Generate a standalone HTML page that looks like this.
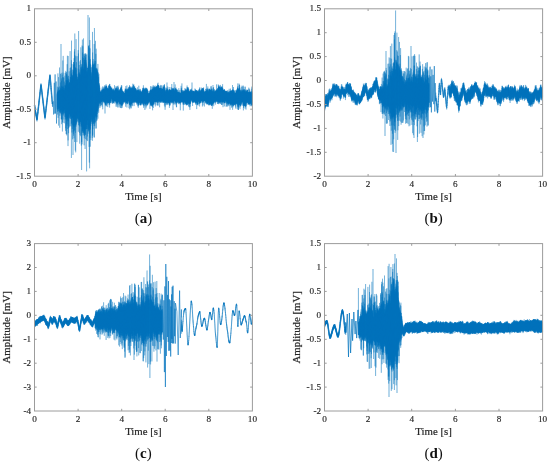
<!DOCTYPE html>
<html><head><meta charset="utf-8"><title>EMG signals</title>
<style>
html,body{margin:0;padding:0;background:#fff;}
svg{display:block;}
text{font-family:"Liberation Serif",serif;}
.tk{font-size:9.2px;fill:#262626;stroke:#262626;stroke-width:0.15px;}
.lb{font-size:10.8px;fill:#262626;stroke:#262626;stroke-width:0.2px;}
.cp{font-size:15px;fill:#111;}
.ax{stroke:#9c9c9c;stroke-width:1;fill:none;}
.sg{stroke:#0072BD;fill:none;stroke-linejoin:bevel;}
</style></head>
<body>
<svg width="550" height="466" viewBox="0 0 550 466">
<rect width="550" height="466" fill="#fff"/>
<g id="plot-a">
<polyline class="sg" stroke-width="0.32" points="34.5,103.4 34.6,106.8 34.6,104.7 34.7,108.0 34.8,105.4 34.9,109.2 34.9,106.7 35.0,110.2 35.1,107.4 35.1,110.9 35.2,108.7 35.3,112.0 35.4,109.4 35.4,112.5 35.5,110.1 35.6,113.4 35.6,111.0 35.7,114.1 35.8,111.8 35.9,115.2 35.9,112.7 36.0,116.0 36.1,113.1 36.1,116.6 36.2,114.3 36.3,117.6 36.4,114.8 36.4,118.5 36.5,115.5 36.6,119.2 36.6,116.7 36.7,119.7 36.8,117.4 36.9,120.6 36.9,118.2 37.0,121.5 37.1,117.7 37.1,120.0 37.2,116.7 37.3,118.9 37.4,115.4 37.4,117.7 37.5,113.9 37.6,116.3 37.6,112.6 37.7,115.0 37.8,111.6 37.9,113.9 37.9,110.1 38.0,113.1 38.1,108.8 38.1,111.3 38.2,107.6 38.3,110.1 38.4,106.7 38.4,109.3 38.5,105.1 38.6,107.6 38.6,104.1 38.7,106.0 38.8,102.6 38.9,105.1 38.9,101.2 39.0,103.8 39.1,100.2 39.1,102.6 39.2,98.9 39.3,101.7 39.4,97.5 39.4,99.9 39.5,96.3 39.6,98.8 39.6,95.3 39.7,97.3 39.8,93.6 39.9,95.8 39.9,92.2 40.0,94.8 40.1,91.5 40.1,93.7 40.2,89.8 40.3,92.3 40.4,88.5 40.4,91.1 40.5,87.3 40.6,89.8 40.6,86.1 40.7,88.5 40.8,84.7 40.9,87.2 40.9,83.5 41.0,86.2 41.1,83.7 41.1,87.1 41.2,85.1 41.3,88.3 41.4,86.2 41.4,89.5 41.5,87.4 41.6,90.8 41.6,88.5 41.7,92.0 41.8,89.4 41.9,93.3 41.9,90.8 42.0,94.3 42.1,92.1 42.1,95.3 42.2,93.1 42.3,96.7 42.4,94.6 42.4,98.1 42.5,95.5 42.6,99.3 42.6,96.9 42.7,100.3 42.8,98.0 42.9,101.4 42.9,99.2 43.0,102.9 43.1,100.3 43.1,103.7 43.2,101.4 43.3,105.2 43.4,102.6 43.4,106.2 43.5,103.9 43.6,107.6 43.6,105.4 43.7,108.9 43.8,106.5 43.9,110.0 43.9,107.4 44.0,111.2 44.1,108.6 44.1,112.4 44.2,110.1 44.3,113.6 44.4,111.0 44.4,114.6 44.5,112.2 44.6,116.5 44.6,113.3 44.7,116.9 44.8,114.7 44.9,118.4 44.9,115.9 45.0,119.6 45.1,115.7 45.1,118.4 45.2,114.7 45.3,117.0 45.4,113.3 45.4,116.0 45.5,112.1 45.6,114.5 45.6,110.8 45.7,113.2 45.8,109.4 45.9,112.0 45.9,108.8 46.0,110.7 46.1,107.1 46.1,109.5 46.2,106.0 46.3,108.3 46.4,104.9 46.4,107.0 46.5,103.8 46.6,105.9 46.6,102.3 46.7,104.9 46.8,101.0 46.9,103.6 46.9,100.2 47.0,102.0 47.1,98.8 47.1,101.1 47.2,97.6 47.3,99.9 47.4,96.4 47.4,99.2 47.5,95.0 47.6,97.1 47.6,93.7 47.7,96.2 47.8,92.2 47.9,95.1 47.9,91.4 48.0,93.6 48.1,90.1 48.1,92.5 48.2,88.8 48.3,91.2 48.4,87.8 48.4,90.1 48.5,86.5 48.6,88.8 48.6,85.1 48.7,87.3 48.8,84.0 48.9,86.1 48.9,82.7 49.0,85.0 49.1,81.5 49.1,83.6 49.2,80.1 49.3,82.6 49.4,78.9 49.4,81.2 49.5,77.9 49.6,80.3 49.6,76.4 49.7,79.1 49.8,75.2 49.9,77.7 49.9,74.4 50.0,76.4 50.1,74.6 50.1,78.3 50.2,76.2 50.3,79.7 50.4,77.7 50.4,81.8 50.5,79.7 50.6,83.3 50.6,81.5 50.7,84.9 50.8,82.7 50.9,86.8 50.9,84.6 51.0,89.1 51.1,86.4 51.1,90.3 51.2,88.2 51.3,91.8 51.4,89.9 51.4,94.0 51.5,91.7 51.6,95.3 51.6,93.6 51.7,97.3 51.8,95.4 51.9,98.8 51.9,96.7 52.0,100.4 52.1,98.7 52.1,102.1 52.2,100.1 52.3,103.9 52.4,102.2 52.4,105.7 52.5,102.0 52.6,107.0"/>
<polyline class="sg" stroke-width="0.32" points="57.0,106.9 57.1,94.4 57.1,107.2 57.2,92.7 57.3,109.1 57.4,86.7 57.4,109.6 57.5,91.7 57.6,111.7 57.6,92.3 57.7,114.6 57.8,89.6 57.9,107.1 57.9,73.4 58.0,111.3 58.1,91.4 58.1,117.9 58.2,91.3 58.3,108.7 58.4,87.7 58.4,106.3 58.5,77.1 58.6,125.6 58.6,91.3 58.7,110.9 58.8,92.3 58.9,108.6 58.9,87.2 59.0,108.6 59.1,90.5 59.1,109.9 59.2,90.8 59.3,108.4 59.4,90.5 59.4,108.1 59.5,67.5 59.6,111.8 59.6,90.3 59.7,127.8 59.8,86.3 59.9,115.8 59.9,89.5 60.0,113.0 60.1,90.0 60.1,112.3 60.2,90.6 60.3,111.3 60.4,82.4 60.4,113.4 60.5,74.0 60.6,112.3 60.6,88.3 60.7,109.7 60.8,87.6 60.9,109.8 60.9,84.8 61.0,44.0 61.1,90.1 61.1,114.4 61.2,72.9 61.3,119.2 61.4,78.4 61.4,119.4 61.5,80.7 61.6,124.2 61.6,88.7 61.7,109.7 61.8,86.1 61.9,119.2 61.9,90.2 62.0,110.8 62.1,74.6 62.1,111.9 62.2,85.8 62.3,113.2 62.4,87.0 62.4,131.5 62.5,89.3 62.6,122.1 62.6,77.3 62.7,114.1 62.8,60.5 62.9,111.6 62.9,72.6 63.0,123.0 63.1,87.4 63.1,114.4 63.2,55.9 63.3,115.6 63.4,89.5 63.4,111.2 63.5,86.3 63.6,110.9 63.6,77.3 63.7,113.4 63.8,77.7 63.9,119.5 63.9,88.0 64.0,112.7 64.1,90.5 64.1,113.5 64.2,90.0 64.3,110.4 64.4,81.6 64.4,123.3 64.5,88.4 64.6,109.0 64.6,91.6 64.7,109.8 64.8,85.1 64.9,112.6 64.9,75.7 65.0,116.8 65.1,72.8 65.1,112.5 65.2,83.4 65.3,114.3 65.4,86.6 65.4,116.9 65.5,85.4 65.6,130.9 65.6,86.1 65.7,128.3 65.8,70.9 65.9,119.2 65.9,85.2 66.0,119.4 66.1,72.7 66.1,134.1 66.2,80.2 66.3,118.0 66.4,72.1 66.4,118.3 66.5,74.3 66.6,134.2 66.6,81.6 66.7,135.4 66.8,81.3 66.9,124.2 66.9,74.4 67.0,120.5 67.1,80.2 67.1,125.8 67.2,64.2 67.3,119.0 67.4,55.7 67.4,118.3 67.5,80.5 67.6,118.1 67.6,77.4 67.7,129.0 67.8,75.8 67.9,120.9 67.9,81.3 68.0,146.1 68.1,80.6 68.1,140.4 68.2,56.0 68.3,117.4 68.4,78.7 68.4,121.3 68.5,84.0 68.6,133.2 68.6,75.9 68.7,128.1 68.8,86.4 68.9,115.6 68.9,83.5 69.0,114.5 69.1,79.5 69.1,127.2 69.2,71.3 69.3,114.3 69.4,83.4 69.4,113.6 69.5,82.5 69.6,118.4 69.6,82.0 69.7,113.6 69.8,82.9 69.9,126.1 69.9,83.3 70.0,117.2 70.1,51.1 70.1,118.1 70.2,68.0 70.3,117.1 70.4,77.0 70.4,118.9 70.5,80.0 70.6,115.6 70.6,76.8 70.7,115.6 70.8,70.5 70.9,118.8 70.9,67.2 71.0,126.4 71.1,81.1 71.1,115.9 71.2,74.3 71.3,124.2 71.4,60.2 71.4,158.0 71.5,40.6 71.6,123.2 71.6,73.3 71.7,119.5 71.8,74.6 71.9,132.5 71.9,63.9 72.0,116.7 72.1,77.2 72.1,114.8 72.2,75.1 72.3,129.0 72.4,78.4 72.4,118.3 72.5,76.2 72.6,139.3 72.6,77.7 72.7,118.0 72.8,75.2 72.9,125.1 72.9,69.5 73.0,155.0 73.1,70.0 73.1,125.3 73.2,71.8 73.3,126.1 73.4,64.6 73.4,133.8 73.5,71.2 73.6,135.7 73.6,62.1 73.7,131.7 73.8,62.2 73.9,126.7 73.9,71.0 74.0,138.4 74.1,58.2 74.1,127.4 74.2,64.8 74.3,130.7 74.4,51.5 74.4,125.0 74.5,64.1 74.6,142.0 74.6,49.2 74.7,122.7 74.8,33.5 74.9,130.0 74.9,55.3 75.0,125.9 75.1,67.9 75.1,125.6 75.2,74.0 75.3,150.6 75.4,72.1 75.4,132.8 75.5,67.3 75.6,124.6 75.6,68.3 75.7,152.4 75.8,56.3 75.9,126.9 75.9,74.4 76.0,122.5 76.1,39.1 76.1,125.3 76.2,70.1 76.3,119.3 76.4,62.2 76.4,124.2 76.5,75.9 76.6,122.2 76.6,74.8 76.7,119.9 76.8,68.3 76.9,142.1 76.9,73.8 77.0,122.4 77.1,56.2 77.1,115.8 77.2,80.0 77.3,118.0 77.4,79.2 77.4,118.1 77.5,76.9 77.6,119.0 77.6,79.6 77.7,121.0 77.8,77.5 77.9,114.9 77.9,79.9 78.0,118.7 78.1,76.6 78.1,121.9 78.2,50.1 78.3,131.8 78.4,53.5 78.4,120.0 78.5,76.8 78.6,31.0 78.6,74.5 78.7,125.2 78.8,68.9 78.9,119.0 78.9,72.8 79.0,122.6 79.1,73.9 79.1,125.4 79.2,65.0 79.3,122.6 79.4,73.3 79.4,132.9 79.5,75.7 79.6,126.4 79.6,74.6 79.7,143.7 79.8,72.1 79.9,122.1 79.9,61.4 80.0,124.0 80.1,70.4 80.1,134.9 80.2,75.9 80.3,121.5 80.4,60.0 80.4,136.2 80.5,74.5 80.6,121.2 80.6,75.4 80.7,121.5 80.8,47.3 80.9,121.4 80.9,67.9 81.0,122.4 81.1,67.0 81.1,126.5 81.2,63.9 81.3,145.6 81.4,73.7 81.4,125.4 81.5,68.5 81.6,170.0 81.6,69.4 81.7,141.9 81.8,66.8 81.9,124.5 81.9,65.5 82.0,126.8 82.1,45.5 82.1,144.3 82.2,64.5 82.3,131.1 82.4,39.6 82.4,133.0 82.5,57.3 82.6,129.5 82.6,52.6 82.7,132.1 82.8,46.4 82.9,130.3 82.9,67.1 83.0,135.4 83.1,69.0 83.1,131.0 83.2,69.1 83.3,127.1 83.4,69.0 83.4,129.0 83.5,38.4 83.6,132.9 83.6,57.9 83.7,132.5 83.8,54.2 83.9,135.2 83.9,68.5 84.0,133.7 84.1,59.9 84.1,145.3 84.2,64.1 84.3,138.3 84.4,55.8 84.4,136.2 84.5,59.7 84.6,130.7 84.6,62.0 84.7,135.6 84.8,64.5 84.9,129.7 84.9,53.6 85.0,134.6 85.1,53.6 85.1,149.0 85.2,54.4 85.3,129.4 85.4,57.7 85.4,133.5 85.5,60.4 85.6,135.0 85.6,57.4 85.7,139.1 85.8,53.3 85.9,129.0 85.9,54.9 86.0,127.1 86.1,60.2 86.1,124.1 86.2,62.5 86.3,129.1 86.4,64.5 86.4,129.1 86.5,72.5 86.6,171.4 86.6,71.2 86.7,140.3 86.8,54.3 86.9,124.9 86.9,67.8 87.0,128.7 87.1,71.4 87.1,124.9 87.2,67.7 87.3,120.1 87.4,72.9 87.4,136.5 87.5,68.0 87.6,141.1 87.6,70.1 87.7,129.0 87.8,67.9 87.9,120.4 87.9,66.4 88.0,15.0 88.1,72.5 88.1,133.7 88.2,66.2 88.3,130.6 88.4,64.4 88.4,126.3 88.5,45.8 88.6,128.8 88.6,46.4 88.7,131.7 88.8,55.8 88.9,130.5 88.9,62.1 89.0,130.3 89.1,45.1 89.1,146.9 89.2,47.6 89.3,162.6 89.4,61.4 89.4,17.5 89.5,65.5 89.6,168.3 89.6,57.4 89.7,128.0 89.8,59.4 89.9,137.9 89.9,40.1 90.0,133.7 90.1,48.4 90.1,130.0 90.2,59.2 90.3,146.7 90.4,69.8 90.4,129.1 90.5,63.8 90.6,126.0 90.6,67.9 90.7,126.1 90.8,64.9 90.9,140.1 90.9,70.3 91.0,124.2 91.1,72.5 91.1,122.3 91.2,72.4 91.3,119.7 91.4,79.3 91.4,116.5 91.5,80.0 91.6,117.1 91.6,76.3 91.7,121.7 91.8,74.3 91.9,121.2 91.9,66.8 92.0,119.2 92.1,68.1 92.1,123.7 92.2,67.0 92.3,137.9 92.4,63.6 92.4,140.8 92.5,31.9 92.6,135.9 92.6,52.5 92.7,134.8 92.8,61.3 92.9,129.2 92.9,66.4 93.0,119.2 93.1,64.7 93.1,119.1 93.2,59.0 93.3,123.8 93.4,64.9 93.4,116.5 93.5,68.9 93.6,122.7 93.6,68.1 93.7,122.1 93.8,64.5 93.9,124.0 93.9,64.1 94.0,125.7 94.1,62.8 94.1,137.3 94.2,44.0 94.3,137.5 94.4,61.2 94.4,28.0 94.5,29.8 94.6,121.8 94.6,66.9 94.7,126.1 94.8,60.6 94.9,122.5 94.9,63.7 95.0,123.4 95.1,69.7 95.1,117.8 95.2,68.8 95.3,116.7 95.4,61.1 95.4,115.0 95.5,40.8 95.6,115.9 95.6,68.1 95.7,121.7 95.8,53.8 95.9,116.1 95.9,69.2 96.0,128.9 96.1,68.9 96.1,128.0 96.2,48.7 96.3,116.1 96.4,68.4 96.4,118.7 96.5,68.8 96.6,117.3 96.6,71.4 96.7,120.8 96.8,67.7 96.9,116.8 96.9,71.0 97.0,120.3 97.1,72.8 97.1,111.0 97.2,73.5 97.3,110.7 97.4,68.8 97.4,114.0 97.5,70.2 97.6,112.1 97.6,71.9 97.7,109.9 97.8,72.5 97.9,118.7 97.9,63.9 98.0,111.2 98.1,72.6 98.1,107.8 98.2,74.9 98.3,109.1 98.4,77.6 98.4,106.2 98.5,79.8 98.6,105.8 98.6,76.8 98.7,112.8 98.8,83.3 98.9,102.3 98.9,73.8 99.0,102.2 99.1,83.2 99.1,103.8 99.2,84.4 99.3,101.9 99.4,85.3 99.4,102.5 99.5,88.2 99.6,103.2 99.6,86.3 99.7,104.3 99.8,87.8 99.9,108.0 99.9,90.5 100.0,106.7 100.1,91.4 100.1,105.7 100.2,90.4 100.3,102.6 100.4,92.4 100.4,102.5 100.5,92.1 100.6,102.7 100.6,92.4 100.7,103.8 100.8,91.5 100.9,105.8 100.9,91.7 101.0,102.1 101.1,93.1 101.1,101.2 101.2,91.7 101.3,101.1 101.4,92.0 101.4,105.0 101.5,89.5 101.6,101.9 101.6,91.3 101.7,101.7 101.8,90.1 101.9,104.8 101.9,91.2 102.0,101.5 102.1,87.5 102.1,106.6 102.2,90.2 102.3,101.3 102.4,90.3 102.4,100.6 102.5,90.5 102.6,101.4 102.6,88.9 102.7,109.3 102.8,86.3 102.9,103.4 102.9,90.3 103.0,100.5 103.1,89.3 103.1,100.0 103.2,89.2 103.3,101.9 103.4,88.5 103.4,101.1 103.5,88.7 103.6,101.6 103.6,89.6 103.7,100.6 103.8,88.8 103.9,102.2 103.9,86.9 104.0,102.2 104.1,89.8 104.1,102.6 104.2,87.5 104.3,100.7 104.4,89.2 104.4,102.0 104.5,88.6 104.6,103.0 104.6,90.0 104.7,101.8 104.8,85.5 104.9,102.1 104.9,85.5 105.0,113.5 105.1,89.2 105.1,104.4 105.2,87.2 105.3,104.2 105.4,87.5 105.4,105.5 105.5,87.8 105.6,104.6 105.6,86.7 105.7,104.8 105.8,85.6 105.9,103.7 105.9,86.9 106.0,102.1 106.1,84.2 106.1,106.3 106.2,86.3 106.3,106.2 106.4,86.3 106.4,102.9 106.5,86.6 106.6,101.4 106.6,85.6 106.7,105.0 106.8,86.4 106.9,102.7 106.9,88.0 107.0,102.0 107.1,87.6 107.1,100.6 107.2,87.6 107.3,104.0 107.4,89.1 107.4,102.8 107.5,88.4 107.6,102.6 107.6,88.9 107.7,107.1 107.8,89.6 107.9,102.0 107.9,88.6 108.0,103.2 108.1,88.1 108.1,103.0 108.2,88.2 108.3,102.4 108.4,89.1 108.4,103.1 108.5,85.6 108.6,103.2 108.6,89.1 108.7,101.3 108.8,89.2 108.9,102.7 108.9,85.9 109.0,102.2 109.1,86.1 109.1,105.3 109.2,85.2 109.3,102.0 109.4,84.7 109.4,104.4 109.5,86.7 109.6,107.6 109.6,83.9 109.7,104.5 109.8,84.1 109.9,103.0 109.9,86.3 110.0,102.9 110.1,85.9 110.1,102.9 110.2,86.4 110.3,103.2 110.4,87.4 110.4,101.4 110.5,87.2 110.6,101.1 110.6,88.2 110.7,102.4 110.8,86.4 110.9,101.2 110.9,88.0 111.0,100.6 111.1,87.4 111.1,99.1 111.2,88.3 111.3,98.5 111.4,88.8 111.4,98.2 111.5,88.1 111.6,98.5 111.6,88.3 111.7,102.5 111.8,87.4 111.9,99.1 111.9,89.1 112.0,100.1 112.1,90.4 112.1,103.3 112.2,89.7 112.3,103.3 112.4,89.7 112.4,102.1 112.5,90.9 112.6,100.4 112.6,91.0 112.7,99.8 112.8,89.5 112.9,104.0 112.9,89.8 113.0,100.8 113.1,88.2 113.1,102.9 113.2,88.9 113.3,100.4 113.4,89.1 113.4,102.8 113.5,90.4 113.6,102.9 113.6,90.6 113.7,102.6 113.8,90.2 113.9,101.7 113.9,90.9 114.0,101.6 114.1,90.1 114.1,101.0 114.2,92.0 114.3,101.3 114.4,91.4 114.4,100.8 114.5,85.2 114.6,103.5 114.6,91.2 114.7,100.9 114.8,90.9 114.9,100.8 114.9,90.1 115.0,101.2 115.1,88.9 115.1,100.7 115.2,89.9 115.3,101.2 115.4,89.7 115.4,101.6 115.5,88.6 115.6,101.2 115.6,89.6 115.7,101.6 115.8,87.6 115.9,103.2 115.9,87.9 116.0,106.7 116.1,86.0 116.1,100.2 116.2,88.5 116.3,102.8 116.4,88.4 116.4,101.4 116.5,87.3 116.6,104.5 116.6,89.5 116.7,102.8 116.8,87.9 116.9,106.7 116.9,89.8 117.0,102.5 117.1,89.1 117.1,102.0 117.2,89.2 117.3,103.7 117.4,86.0 117.4,103.5 117.5,90.6 117.6,103.1 117.6,87.6 117.7,107.5 117.8,89.9 117.9,102.8 117.9,89.9 118.0,105.2 118.1,85.6 118.1,101.5 118.2,87.0 118.3,100.9 118.4,90.8 118.4,101.6 118.5,90.5 118.6,100.3 118.6,88.3 118.7,102.1 118.8,91.1 118.9,107.4 118.9,91.4 119.0,102.3 119.1,91.0 119.1,103.8 119.2,90.7 119.3,101.5 119.4,90.6 119.4,101.9 119.5,90.5 119.6,104.5 119.6,89.4 119.7,103.2 119.8,90.3 119.9,106.4 119.9,90.8 120.0,103.7 120.1,89.7 120.1,103.4 120.2,89.1 120.3,108.0 120.4,89.3 120.4,104.3 120.5,87.8 120.6,103.8 120.6,89.6 120.7,104.1 120.8,88.5 120.9,104.8 120.9,87.2 121.0,103.4 121.1,88.1 121.1,107.9 121.2,86.5 121.3,108.2 121.4,85.1 121.4,104.9 121.5,87.2 121.6,105.5 121.6,88.9 121.7,105.1 121.8,85.5 121.9,105.5 121.9,89.1 122.0,105.6 122.1,90.5 122.1,105.5 122.2,91.3 122.3,107.7 122.4,90.5 122.4,104.5 122.5,91.2 122.6,102.9 122.6,91.6 122.7,104.1 122.8,91.2 122.9,103.5 122.9,91.1 123.0,104.6 123.1,92.4 123.1,103.6 123.2,91.6 123.3,101.7 123.4,91.9 123.4,101.6 123.5,91.8 123.6,102.3 123.6,92.5 123.7,101.4 123.8,93.7 123.9,102.0 123.9,93.8 124.0,102.5 124.1,93.3 124.1,102.5 124.2,93.0 124.3,101.7 124.4,93.0 124.4,100.8 124.5,92.8 124.6,101.9 124.6,93.1 124.7,100.9 124.8,92.8 124.9,101.2 124.9,91.1 125.0,100.8 125.1,88.6 125.1,103.0 125.2,90.2 125.3,101.3 125.4,89.9 125.4,103.9 125.5,89.1 125.6,106.7 125.6,89.7 125.7,101.1 125.8,86.1 125.9,101.6 125.9,89.2 126.0,102.1 126.1,88.5 126.1,102.0 126.2,88.9 126.3,101.7 126.4,90.1 126.4,103.0 126.5,90.9 126.6,103.4 126.6,90.2 126.7,102.9 126.8,90.4 126.9,107.5 126.9,85.4 127.0,104.4 127.1,89.6 127.1,103.1 127.2,91.3 127.3,103.8 127.4,89.8 127.4,103.8 127.5,91.2 127.6,102.2 127.6,88.9 127.7,103.4 127.8,90.0 127.9,101.2 127.9,88.6 128.0,100.8 128.1,88.8 128.1,100.7 128.2,88.6 128.3,100.5 128.4,89.3 128.4,101.2 128.5,89.3 128.6,100.4 128.6,88.7 128.7,101.9 128.8,88.4 128.9,103.0 128.9,87.0 129.0,108.2 129.1,87.0 129.1,103.6 129.2,86.7 129.3,104.2 129.4,87.9 129.4,103.8 129.5,85.1 129.6,105.2 129.6,87.3 129.7,109.3 129.8,86.5 129.9,104.5 129.9,86.7 130.0,105.0 130.1,89.1 130.1,104.5 130.2,89.2 130.3,105.5 130.4,89.4 130.4,107.3 130.5,88.0 130.6,105.9 130.6,87.9 130.7,104.8 130.8,86.5 130.9,103.2 130.9,87.6 131.0,107.7 131.1,87.9 131.1,108.5 131.2,87.6 131.3,103.8 131.4,88.1 131.4,104.1 131.5,88.5 131.6,105.6 131.6,89.4 131.7,103.7 131.8,89.2 131.9,103.2 131.9,87.6 132.0,102.4 132.1,86.7 132.1,105.2 132.2,88.0 132.3,102.2 132.4,87.6 132.4,102.6 132.5,88.1 132.6,106.2 132.6,87.8 132.7,102.9 132.8,83.7 132.9,101.0 132.9,88.4 133.0,101.8 133.1,86.3 133.1,101.6 133.2,86.4 133.3,102.3 133.4,85.2 133.4,101.3 133.5,88.5 133.6,101.5 133.6,85.0 133.7,103.2 133.8,84.2 133.9,102.2 133.9,89.1 134.0,102.8 134.1,89.0 134.1,106.1 134.2,86.9 134.3,100.9 134.4,88.0 134.4,102.2 134.5,87.1 134.6,101.1 134.6,86.0 134.7,101.9 134.8,86.8 134.9,102.2 134.9,88.4 135.0,101.1 135.1,88.2 135.1,101.1 135.2,89.8 135.3,103.0 135.4,89.5 135.4,101.3 135.5,88.4 135.6,100.7 135.6,88.1 135.7,101.7 135.8,88.9 135.9,102.2 135.9,88.5 136.0,101.8 136.1,89.3 136.1,102.1 136.2,89.8 136.3,102.4 136.4,90.6 136.4,101.9 136.5,91.2 136.6,102.8 136.6,90.3 136.7,104.5 136.8,90.9 136.9,103.2 136.9,91.4 137.0,101.7 137.1,91.2 137.1,102.1 137.2,90.0 137.3,102.6 137.4,87.3 137.4,104.4 137.5,90.3 137.6,102.1 137.6,90.4 137.7,106.3 137.8,90.6 137.9,102.1 137.9,89.7 138.0,102.9 138.1,90.3 138.1,103.6 138.2,91.0 138.3,107.8 138.4,89.5 138.4,105.0 138.5,89.8 138.6,106.1 138.6,91.9 138.7,104.6 138.8,85.7 138.9,103.2 138.9,91.8 139.0,105.1 139.1,90.3 139.1,103.1 139.2,89.6 139.3,102.0 139.4,89.2 139.4,102.9 139.5,91.5 139.6,102.6 139.6,93.0 139.7,101.8 139.8,92.6 139.9,102.3 139.9,90.6 140.0,104.8 140.1,91.4 140.1,104.2 140.2,91.0 140.3,105.3 140.4,90.6 140.4,104.8 140.5,88.9 140.6,104.4 140.6,92.0 140.7,105.2 140.8,90.4 140.9,105.4 140.9,91.6 141.0,103.2 141.1,92.3 141.1,103.1 141.2,91.7 141.3,104.9 141.4,92.0 141.4,103.2 141.5,93.1 141.6,103.7 141.6,91.6 141.7,103.0 141.8,91.7 141.9,102.5 141.9,92.3 142.0,103.8 142.1,91.4 142.1,102.8 142.2,90.6 142.3,102.3 142.4,90.3 142.4,103.5 142.5,87.9 142.6,102.7 142.6,90.4 142.7,102.4 142.8,88.7 142.9,104.5 142.9,90.1 143.0,104.6 143.1,89.7 143.1,103.7 143.2,90.5 143.3,104.9 143.4,85.3 143.4,105.7 143.5,88.9 143.6,107.8 143.6,87.9 143.7,104.6 143.8,87.7 143.9,102.8 143.9,88.4 144.0,102.5 144.1,88.3 144.1,102.9 144.2,89.4 144.3,106.2 144.4,88.9 144.4,103.5 144.5,91.5 144.6,102.6 144.6,89.8 144.7,104.2 144.8,89.7 144.9,110.0 144.9,90.6 145.0,103.1 145.1,89.0 145.1,104.4 145.2,89.0 145.3,103.9 145.4,87.6 145.4,104.6 145.5,88.0 145.6,104.1 145.6,90.3 145.7,105.4 145.8,88.7 145.9,103.2 145.9,89.0 146.0,108.4 146.1,90.0 146.1,106.6 146.2,88.8 146.3,101.7 146.4,88.6 146.4,104.7 146.5,87.8 146.6,103.7 146.6,89.3 146.7,102.9 146.8,88.3 146.9,102.3 146.9,88.5 147.0,106.1 147.1,90.3 147.1,104.3 147.2,89.7 147.3,104.8 147.4,89.2 147.4,103.4 147.5,90.8 147.6,104.7 147.6,90.8 147.7,105.1 147.8,90.3 147.9,104.1 147.9,93.1 148.0,103.0 148.1,93.6 148.1,103.5 148.2,94.1 148.3,103.4 148.4,93.0 148.4,102.6 148.5,94.3 148.6,101.8 148.6,94.0 148.7,102.3 148.8,91.0 148.9,102.4 148.9,93.2 149.0,101.1 149.1,93.2 149.1,101.0 149.2,92.7 149.3,101.7 149.4,92.6 149.4,101.1 149.5,93.0 149.6,102.3 149.6,93.1 149.7,101.3 149.8,92.8 149.9,108.9 149.9,90.9 150.0,102.3 150.1,90.9 150.1,103.4 150.2,90.2 150.3,102.7 150.4,89.7 150.4,104.0 150.5,86.2 150.6,104.6 150.6,89.8 150.7,105.7 150.8,90.5 150.9,105.4 150.9,90.8 151.0,105.6 151.1,90.7 151.1,104.6 151.2,90.4 151.3,105.5 151.4,89.5 151.4,105.0 151.5,90.3 151.6,106.2 151.6,86.5 151.7,104.3 151.8,91.1 151.9,104.5 151.9,89.8 152.0,105.3 152.1,89.0 152.1,105.1 152.2,90.2 152.3,106.8 152.4,89.1 152.4,106.5 152.5,89.3 152.6,110.3 152.6,89.3 152.7,105.6 152.8,86.5 152.9,104.7 152.9,87.8 153.0,105.0 153.1,87.3 153.1,104.0 153.2,85.1 153.3,108.0 153.4,88.3 153.4,104.7 153.5,88.9 153.6,103.5 153.6,88.6 153.7,104.0 153.8,86.9 153.9,102.4 153.9,89.0 154.0,104.2 154.1,86.6 154.1,102.8 154.2,86.1 154.3,100.3 154.4,88.2 154.4,101.6 154.5,87.6 154.6,101.8 154.6,88.2 154.7,101.7 154.8,87.1 154.9,101.8 154.9,87.6 155.0,101.1 155.1,85.5 155.1,104.7 155.2,89.3 155.3,106.4 155.4,86.9 155.4,101.7 155.5,88.6 155.6,102.1 155.6,88.6 155.7,101.9 155.8,87.5 155.9,100.9 155.9,86.9 156.0,102.6 156.1,86.9 156.1,101.7 156.2,87.4 156.3,101.2 156.4,85.8 156.4,102.0 156.5,86.4 156.6,100.7 156.6,87.5 156.7,102.4 156.8,86.2 156.9,101.8 156.9,87.8 157.0,100.8 157.1,87.5 157.1,105.3 157.2,87.2 157.3,102.7 157.4,85.7 157.4,105.5 157.5,83.6 157.6,101.3 157.6,85.2 157.7,102.4 157.8,85.5 157.9,102.7 157.9,85.7 158.0,100.7 158.1,82.7 158.1,101.3 158.2,86.5 158.3,105.5 158.4,85.5 158.4,100.6 158.5,85.2 158.6,102.6 158.6,85.2 158.7,101.9 158.8,85.5 158.9,100.6 158.9,88.3 159.0,102.1 159.1,86.6 159.1,100.8 159.2,88.2 159.3,100.3 159.4,88.4 159.4,100.9 159.5,89.2 159.6,107.3 159.6,88.2 159.7,102.3 159.8,87.8 159.9,101.8 159.9,88.4 160.0,100.8 160.1,88.3 160.1,101.9 160.2,85.9 160.3,100.8 160.4,87.9 160.4,102.9 160.5,88.6 160.6,102.5 160.6,88.2 160.7,101.8 160.8,84.9 160.9,101.0 160.9,89.9 161.0,101.9 161.1,88.6 161.1,101.0 161.2,85.4 161.3,100.8 161.4,88.4 161.4,101.6 161.5,89.6 161.6,102.7 161.6,89.5 161.7,101.3 161.8,87.9 161.9,101.0 161.9,89.4 162.0,102.5 162.1,88.2 162.1,101.1 162.2,85.5 162.3,100.8 162.4,89.2 162.4,101.8 162.5,89.3 162.6,100.6 162.6,89.3 162.7,100.8 162.8,89.0 162.9,102.2 162.9,89.3 163.0,103.1 163.1,87.3 163.1,102.3 163.2,88.6 163.3,102.9 163.4,87.2 163.4,102.1 163.5,85.3 163.6,102.3 163.6,89.0 163.7,101.8 163.8,87.3 163.9,102.1 163.9,86.9 164.0,102.3 164.1,85.6 164.1,101.4 164.2,86.1 164.3,102.9 164.4,84.3 164.4,105.6 164.5,84.7 164.6,101.8 164.6,89.0 164.7,101.8 164.8,89.2 164.9,102.5 164.9,90.3 165.0,107.2 165.1,91.0 165.1,109.8 165.2,90.1 165.3,102.5 165.4,90.6 165.4,102.9 165.5,92.0 165.6,103.1 165.6,91.9 165.7,102.5 165.8,92.3 165.9,105.3 165.9,87.7 166.0,102.7 166.1,87.6 166.1,102.2 166.2,91.0 166.3,102.4 166.4,90.1 166.4,104.7 166.5,89.9 166.6,103.7 166.6,88.6 166.7,101.8 166.8,90.1 166.9,102.9 166.9,84.2 167.0,82.5 167.1,89.2 167.1,102.5 167.2,89.0 167.3,101.6 167.4,90.5 167.4,102.5 167.5,88.5 167.6,105.1 167.6,86.5 167.7,103.8 167.8,89.4 167.9,102.1 167.9,90.5 168.0,103.5 168.1,90.5 168.1,103.2 168.2,91.2 168.3,102.7 168.4,89.7 168.4,103.1 168.5,92.3 168.6,101.9 168.6,91.9 168.7,101.8 168.8,91.3 168.9,102.7 168.9,90.0 169.0,102.9 169.1,90.1 169.1,104.6 169.2,87.0 169.3,104.9 169.4,89.2 169.4,107.9 169.5,89.4 169.6,106.0 169.6,89.2 169.7,104.6 169.8,91.2 169.9,104.1 169.9,90.4 170.0,102.7 170.1,89.8 170.1,102.1 170.2,90.2 170.3,105.3 170.4,89.7 170.4,102.4 170.5,90.1 170.6,101.8 170.6,90.2 170.7,101.6 170.8,90.7 170.9,100.8 170.9,89.9 171.0,101.8 171.1,87.0 171.1,102.7 171.2,90.1 171.3,103.1 171.4,91.1 171.4,101.9 171.5,90.0 171.6,103.3 171.6,90.1 171.7,101.8 171.8,84.0 171.9,100.7 171.9,88.5 172.0,100.5 172.1,88.6 172.1,101.4 172.2,87.9 172.3,102.4 172.4,89.3 172.4,101.7 172.5,90.2 172.6,101.9 172.6,89.3 172.7,103.0 172.8,89.4 172.9,103.5 172.9,90.4 173.0,110.0 173.1,88.2 173.1,102.1 173.2,88.7 173.3,103.2 173.4,88.5 173.4,102.3 173.5,88.7 173.6,104.6 173.6,89.5 173.7,100.9 173.8,89.2 173.9,102.5 173.9,89.2 174.0,82.0 174.1,90.1 174.1,100.6 174.2,90.2 174.3,99.8 174.4,87.5 174.4,100.9 174.5,91.1 174.6,101.2 174.6,90.9 174.7,103.8 174.8,90.4 174.9,101.4 174.9,89.6 175.0,101.4 175.1,89.0 175.1,105.2 175.2,84.4 175.3,102.2 175.4,88.6 175.4,103.6 175.5,88.4 175.6,101.8 175.6,88.7 175.7,102.6 175.8,88.6 175.9,101.3 175.9,89.4 176.0,101.3 176.1,87.6 176.1,103.1 176.2,89.3 176.3,102.9 176.4,89.3 176.4,107.2 176.5,90.0 176.6,107.2 176.6,91.3 176.7,103.8 176.8,91.6 176.9,102.2 176.9,90.5 177.0,101.7 177.1,90.2 177.1,101.8 177.2,89.4 177.3,101.1 177.4,91.9 177.4,102.8 177.5,92.7 177.6,100.7 177.6,92.4 177.7,103.1 177.8,90.0 177.9,100.5 177.9,92.0 178.0,101.6 178.1,92.2 178.1,101.5 178.2,92.1 178.3,102.0 178.4,93.0 178.4,101.6 178.5,92.6 178.6,102.1 178.6,91.7 178.7,103.7 178.8,88.2 178.9,102.8 178.9,92.4 179.0,104.3 179.1,91.5 179.1,103.3 179.2,93.1 179.3,102.8 179.4,92.8 179.4,103.4 179.5,92.3 179.6,103.0 179.6,93.6 179.7,102.2 179.8,90.0 179.9,102.6 179.9,92.8 180.0,101.6 180.1,93.0 180.1,103.0 180.2,93.5 180.3,110.3 180.4,93.2 180.4,102.5 180.5,94.1 180.6,104.5 180.6,92.8 180.7,102.0 180.8,92.8 180.9,102.8 180.9,92.6 181.0,101.7 181.1,85.8 181.1,103.0 181.2,88.3 181.3,102.0 181.4,90.0 181.4,101.5 181.5,89.5 181.6,101.4 181.6,87.7 181.7,101.9 181.8,90.4 181.9,100.8 181.9,83.4 182.0,101.1 182.1,90.2 182.1,101.3 182.2,90.6 182.3,102.3 182.4,90.6 182.4,101.8 182.5,92.0 182.6,101.8 182.6,92.3 182.7,102.2 182.8,93.3 182.9,102.4 182.9,92.7 183.0,103.4 183.1,91.2 183.1,104.7 183.2,92.1 183.3,110.6 183.4,90.4 183.4,103.5 183.5,92.0 183.6,104.9 183.6,90.9 183.7,103.0 183.8,91.9 183.9,104.0 183.9,91.7 184.0,102.2 184.1,90.4 184.1,101.2 184.2,91.8 184.3,101.4 184.4,91.0 184.4,102.3 184.5,91.7 184.6,104.8 184.6,90.9 184.7,101.3 184.8,91.7 184.9,101.4 184.9,88.1 185.0,103.2 185.1,91.0 185.1,102.6 185.2,90.6 185.3,102.3 185.4,89.7 185.4,104.2 185.5,88.8 185.6,103.4 185.6,90.8 185.7,103.9 185.8,89.5 185.9,102.8 185.9,91.3 186.0,104.1 186.1,90.0 186.1,104.8 186.2,92.0 186.3,104.3 186.4,90.5 186.4,105.5 186.5,90.9 186.6,104.0 186.6,90.1 186.7,105.0 186.8,89.6 186.9,104.5 186.9,88.8 187.0,104.0 187.1,85.5 187.1,102.9 187.2,87.0 187.3,104.9 187.4,88.0 187.4,104.9 187.5,89.1 187.6,103.2 187.6,88.8 187.7,104.1 187.8,87.4 187.9,103.7 187.9,87.7 188.0,101.4 188.1,87.2 188.1,101.9 188.2,88.2 188.3,106.1 188.4,90.1 188.4,102.9 188.5,88.9 188.6,103.5 188.6,90.9 188.7,103.9 188.8,91.8 188.9,107.1 188.9,91.6 189.0,103.2 189.1,89.5 189.1,104.6 189.2,91.2 189.3,103.1 189.4,92.0 189.4,103.8 189.5,90.9 189.6,107.3 189.6,91.9 189.7,104.2 189.8,91.5 189.9,109.9 189.9,92.4 190.0,102.7 190.1,90.7 190.1,103.9 190.2,91.9 190.3,106.6 190.4,91.6 190.4,103.7 190.5,89.6 190.6,103.3 190.6,89.8 190.7,101.4 190.8,89.6 190.9,102.2 190.9,90.6 191.0,101.3 191.1,89.5 191.1,100.0 191.2,91.0 191.3,99.8 191.4,90.5 191.4,99.8 191.5,88.6 191.6,100.4 191.6,90.2 191.7,100.9 191.8,91.8 191.9,100.2 191.9,91.0 192.0,82.5 192.1,88.7 192.1,101.3 192.2,91.4 192.3,102.3 192.4,90.6 192.4,101.8 192.5,90.8 192.6,106.0 192.6,92.4 192.7,102.5 192.8,91.1 192.9,101.9 192.9,90.9 193.0,102.9 193.1,91.7 193.1,102.6 193.2,90.6 193.3,101.8 193.4,91.3 193.4,101.7 193.5,91.5 193.6,102.1 193.6,91.2 193.7,102.6 193.8,91.3 193.9,102.3 193.9,91.0 194.0,102.0 194.1,90.8 194.1,100.9 194.2,92.0 194.3,100.6 194.4,92.4 194.4,100.2 194.5,92.2 194.6,101.7 194.6,92.9 194.7,101.7 194.8,91.5 194.9,102.8 194.9,88.5 195.0,101.5 195.1,91.0 195.1,101.6 195.2,91.0 195.3,103.1 195.4,90.4 195.4,103.1 195.5,89.7 195.6,104.7 195.6,89.4 195.7,103.6 195.8,91.0 195.9,102.5 195.9,90.8 196.0,101.9 196.1,91.6 196.1,102.2 196.2,90.0 196.3,101.7 196.4,91.5 196.4,102.3 196.5,90.6 196.6,102.8 196.6,90.3 196.7,109.1 196.8,90.1 196.9,103.0 196.9,90.8 197.0,105.1 197.1,92.0 197.1,103.9 197.2,91.6 197.3,104.2 197.4,90.6 197.4,103.8 197.5,91.3 197.6,105.0 197.6,91.1 197.7,104.3 197.8,91.5 197.9,104.1 197.9,93.0 198.0,104.2 198.1,91.3 198.1,105.6 198.2,92.3 198.3,102.1 198.4,91.9 198.4,101.2 198.5,91.2 198.6,101.4 198.6,92.4 198.7,101.5 198.8,90.1 198.9,100.8 198.9,90.3 199.0,101.1 199.1,89.1 199.1,102.3 199.2,90.4 199.3,103.4 199.4,88.7 199.4,103.6 199.5,87.4 199.6,106.5 199.6,91.6 199.7,102.9 199.8,88.8 199.9,104.2 199.9,92.1 200.0,102.4 200.1,91.4 200.1,103.1 200.2,91.8 200.3,102.9 200.4,91.6 200.4,102.8 200.5,91.5 200.6,101.5 200.6,90.5 200.7,101.6 200.8,90.8 200.9,101.2 200.9,90.1 201.0,100.2 201.1,87.4 201.1,101.2 201.2,90.1 201.3,100.1 201.4,90.3 201.4,100.9 201.5,91.1 201.6,101.2 201.6,89.4 201.7,102.7 201.8,89.4 201.9,101.0 201.9,89.7 202.0,100.9 202.1,88.0 202.1,101.7 202.2,88.5 202.3,103.0 202.4,88.4 202.4,106.5 202.5,89.1 202.6,101.7 202.6,88.8 202.7,101.0 202.8,88.5 202.9,101.0 202.9,88.8 203.0,102.2 203.1,87.8 203.1,105.4 203.2,89.1 203.3,102.1 203.4,88.3 203.4,100.9 203.5,89.5 203.6,100.7 203.6,87.4 203.7,102.7 203.8,91.2 203.9,101.6 203.9,91.0 204.0,100.7 204.1,91.5 204.1,100.7 204.2,90.3 204.3,101.0 204.4,92.0 204.4,106.5 204.5,92.6 204.6,100.7 204.6,92.3 204.7,100.4 204.8,92.5 204.9,101.0 204.9,91.8 205.0,100.7 205.1,92.3 205.1,101.2 205.2,91.9 205.3,103.1 205.4,91.0 205.4,100.3 205.5,88.9 205.6,101.5 205.6,91.7 205.7,103.5 205.8,91.2 205.9,102.1 205.9,91.0 206.0,102.4 206.1,91.5 206.1,102.4 206.2,91.7 206.3,101.2 206.4,83.9 206.4,101.6 206.5,89.0 206.6,103.0 206.6,90.0 206.7,104.0 206.8,90.5 206.9,103.1 206.9,90.2 207.0,104.8 207.1,90.9 207.1,103.6 207.2,88.0 207.3,103.8 207.4,89.3 207.4,104.3 207.5,89.6 207.6,103.7 207.6,89.4 207.7,103.5 207.8,86.4 207.9,103.3 207.9,92.1 208.0,103.4 208.1,90.3 208.1,102.6 208.2,92.3 208.3,101.6 208.4,91.8 208.4,102.5 208.5,91.4 208.6,105.0 208.6,88.7 208.7,101.2 208.8,90.6 208.9,105.6 208.9,89.3 209.0,105.0 209.1,90.4 209.1,104.1 209.2,89.2 209.3,104.0 209.4,90.4 209.4,103.9 209.5,89.3 209.6,103.9 209.6,88.5 209.7,104.7 209.8,89.2 209.9,105.2 209.9,89.1 210.0,105.1 210.1,90.1 210.1,104.8 210.2,90.0 210.3,102.9 210.4,89.8 210.4,103.9 210.5,91.5 210.6,102.3 210.6,90.0 210.7,103.8 210.8,90.8 210.9,103.1 210.9,86.6 211.0,104.7 211.1,89.9 211.1,104.2 211.2,85.9 211.3,105.6 211.4,90.3 211.4,105.5 211.5,89.0 211.6,105.8 211.6,90.8 211.7,104.9 211.8,89.3 211.9,104.4 211.9,87.8 212.0,105.6 212.1,91.8 212.1,105.9 212.2,91.3 212.3,108.8 212.4,92.3 212.4,104.1 212.5,91.2 212.6,104.6 212.6,89.5 212.7,104.6 212.8,90.8 212.9,102.8 212.9,90.4 213.0,85.0 213.1,88.2 213.1,103.4 213.2,89.8 213.3,103.2 213.4,87.6 213.4,103.1 213.5,90.4 213.6,104.3 213.6,87.3 213.7,106.2 213.8,92.2 213.9,102.9 213.9,91.8 214.0,102.0 214.1,92.0 214.1,103.1 214.2,89.5 214.3,102.0 214.4,89.3 214.4,101.4 214.5,92.0 214.6,101.2 214.6,90.7 214.7,101.3 214.8,91.4 214.9,101.3 214.9,91.9 215.0,102.3 215.1,91.4 215.1,101.4 215.2,91.2 215.3,102.9 215.4,91.7 215.4,104.6 215.5,90.3 215.6,101.4 215.6,90.9 215.7,101.1 215.8,91.5 215.9,101.9 215.9,91.2 216.0,102.1 216.1,90.1 216.1,100.3 216.2,90.9 216.3,102.3 216.4,89.3 216.4,100.2 216.5,84.4 216.6,100.4 216.6,90.6 216.7,101.4 216.8,90.4 216.9,101.1 216.9,89.5 217.0,100.6 217.1,90.6 217.1,101.5 217.2,90.4 217.3,101.0 217.4,89.8 217.4,103.9 217.5,89.7 217.6,101.3 217.6,88.3 217.7,102.1 217.8,88.7 217.9,104.0 217.9,88.0 218.0,101.8 218.1,89.1 218.1,102.0 218.2,84.3 218.3,103.4 218.4,87.3 218.4,101.5 218.5,87.2 218.6,104.2 218.6,85.2 218.7,102.3 218.8,86.6 218.9,101.9 218.9,86.4 219.0,102.7 219.1,86.7 219.1,101.9 219.2,85.5 219.3,102.5 219.4,87.4 219.4,102.2 219.5,87.0 219.6,103.7 219.6,87.6 219.7,102.2 219.8,86.6 219.9,102.1 219.9,89.2 220.0,103.0 220.1,88.3 220.1,102.1 220.2,88.4 220.3,101.8 220.4,84.9 220.4,103.9 220.5,87.4 220.6,101.4 220.6,89.2 220.7,101.3 220.8,86.4 220.9,103.6 220.9,88.1 221.0,101.9 221.1,87.9 221.1,102.5 221.2,87.4 221.3,100.4 221.4,87.4 221.4,104.8 221.5,86.7 221.6,99.8 221.6,88.0 221.7,105.0 221.8,87.3 221.9,102.0 221.9,86.9 222.0,101.7 222.1,86.4 222.1,102.0 222.2,88.1 222.3,101.9 222.4,88.8 222.4,102.3 222.5,88.4 222.6,102.8 222.6,84.2 222.7,104.7 222.8,87.9 222.9,102.1 222.9,89.2 223.0,107.2 223.1,90.0 223.1,102.1 223.2,90.1 223.3,101.8 223.4,89.8 223.4,101.2 223.5,89.9 223.6,101.5 223.6,90.1 223.7,103.4 223.8,89.8 223.9,100.8 223.9,90.6 224.0,102.4 224.1,90.1 224.1,101.5 224.2,89.5 224.3,102.7 224.4,89.4 224.4,106.4 224.5,89.4 224.6,103.1 224.6,91.8 224.7,102.5 224.8,91.3 224.9,102.9 224.9,91.2 225.0,102.9 225.1,90.9 225.1,103.3 225.2,90.8 225.3,101.2 225.4,91.7 225.4,100.9 225.5,91.1 225.6,101.9 225.6,90.8 225.7,101.0 225.8,92.2 225.9,101.1 225.9,91.9 226.0,100.1 226.1,90.8 226.1,106.8 226.2,91.7 226.3,101.7 226.4,91.5 226.4,99.9 226.5,91.1 226.6,106.3 226.6,91.0 226.7,103.3 226.8,91.7 226.9,101.8 226.9,91.9 227.0,103.7 227.1,92.5 227.1,102.4 227.2,90.4 227.3,103.5 227.4,93.6 227.4,103.2 227.5,93.8 227.6,106.6 227.6,90.6 227.7,102.8 227.8,93.0 227.9,102.4 227.9,92.1 228.0,104.8 228.1,92.6 228.1,105.7 228.2,91.8 228.3,103.6 228.4,92.4 228.4,104.5 228.5,93.1 228.6,103.9 228.6,92.2 228.7,103.1 228.8,90.6 228.9,103.1 228.9,92.7 229.0,106.2 229.1,93.1 229.1,103.9 229.2,88.8 229.3,103.1 229.4,92.8 229.4,103.2 229.5,93.1 229.6,103.2 229.6,91.6 229.7,103.7 229.8,92.3 229.9,103.1 229.9,90.9 230.0,109.8 230.1,91.9 230.1,104.9 230.2,91.1 230.3,105.6 230.4,91.2 230.4,103.9 230.5,88.6 230.6,104.5 230.6,90.5 230.7,103.8 230.8,91.3 230.9,105.1 230.9,91.7 231.0,105.3 231.1,90.4 231.1,104.3 231.2,91.9 231.3,103.5 231.4,91.0 231.4,103.9 231.5,90.4 231.6,107.7 231.6,91.4 231.7,104.0 231.8,91.2 231.9,104.6 231.9,90.2 232.0,105.6 232.1,91.0 232.1,106.6 232.2,90.9 232.3,104.7 232.4,90.5 232.4,104.7 232.5,85.0 232.6,109.8 232.6,89.3 232.7,104.0 232.8,89.7 232.9,105.1 232.9,90.4 233.0,105.5 233.1,90.3 233.1,107.3 233.2,89.9 233.3,103.5 233.4,89.8 233.4,104.8 233.5,87.0 233.6,105.9 233.6,91.0 233.7,105.8 233.8,91.2 233.9,104.2 233.9,91.9 234.0,105.2 234.1,92.0 234.1,104.3 234.2,94.0 234.3,104.3 234.4,90.8 234.4,103.7 234.5,92.8 234.6,104.1 234.6,90.3 234.7,105.0 234.8,94.0 234.9,104.7 234.9,93.2 235.0,104.6 235.1,93.3 235.1,104.6 235.2,92.9 235.3,103.5 235.4,92.9 235.4,106.5 235.5,93.0 235.6,108.5 235.6,92.7 235.7,103.4 235.8,92.8 235.9,104.0 235.9,90.0 236.0,104.4 236.1,90.6 236.1,103.1 236.2,91.9 236.3,103.6 236.4,91.0 236.4,104.0 236.5,92.1 236.6,103.2 236.6,90.7 236.7,103.0 236.8,89.2 236.9,104.6 236.9,90.6 237.0,103.5 237.1,90.3 237.1,108.8 237.2,90.5 237.3,103.6 237.4,87.6 237.4,106.7 237.5,87.7 237.6,104.7 237.6,88.6 237.7,103.3 237.8,83.4 237.9,104.3 237.9,86.1 238.0,106.3 238.1,88.2 238.1,109.6 238.2,89.0 238.3,109.9 238.4,88.8 238.4,109.9 238.5,89.3 238.6,106.8 238.6,90.1 238.7,106.5 238.8,89.7 238.9,105.0 238.9,88.5 239.0,103.9 239.1,83.6 239.1,107.7 239.2,88.7 239.3,104.2 239.4,84.8 239.4,105.0 239.5,88.2 239.6,102.9 239.6,84.9 239.7,104.9 239.8,86.8 239.9,106.2 239.9,88.1 240.0,109.2 240.1,90.4 240.1,103.5 240.2,89.5 240.3,104.9 240.4,90.8 240.4,105.5 240.5,90.0 240.6,106.4 240.6,91.3 240.7,106.2 240.8,92.8 240.9,104.1 240.9,92.3 241.0,105.5 241.1,92.4 241.1,103.1 241.2,91.7 241.3,104.6 241.4,92.4 241.4,102.8 241.5,90.4 241.6,104.3 241.6,90.7 241.7,102.1 241.8,87.0 241.9,101.3 241.9,85.7 242.0,101.2 242.1,89.8 242.1,101.5 242.2,89.6 242.3,102.2 242.4,90.6 242.4,101.6 242.5,91.7 242.6,102.0 242.6,91.4 242.7,102.9 242.8,90.3 242.9,106.0 242.9,86.3 243.0,103.8 243.1,91.3 243.1,104.9 243.2,85.5 243.3,105.1 243.4,91.2 243.4,110.4 243.5,89.7 243.6,108.0 243.6,89.7 243.7,106.2 243.8,90.6 243.9,104.9 243.9,90.3 244.0,106.2 244.1,89.2 244.1,106.3 244.2,86.7 244.3,104.8 244.4,89.5 244.4,106.0 244.5,91.5 244.6,105.9 244.6,89.7 244.7,105.2 244.8,91.8 244.9,105.9 244.9,91.6 245.0,105.0 245.1,91.6 245.1,108.7 245.2,89.8 245.3,105.5 245.4,90.3 245.4,106.4 245.5,86.7 245.6,107.2 245.6,92.3 245.7,105.3 245.8,92.4 245.9,106.2 245.9,90.9 246.0,109.6 246.1,91.4 246.1,106.2 246.2,92.7 246.3,104.3 246.4,91.8 246.4,102.8 246.5,91.0 246.6,102.5 246.6,91.7 246.7,103.1 246.8,90.3 246.9,102.0 246.9,89.5 247.0,102.1 247.1,89.7 247.1,102.9 247.2,90.3 247.3,101.4 247.4,90.2 247.4,101.2 247.5,90.0 247.6,102.6 247.6,90.8 247.7,102.7 247.8,92.0 247.9,102.8 247.9,92.2 248.0,104.9 248.1,92.4 248.1,104.2 248.2,92.1 248.3,103.4 248.4,92.5 248.4,103.3 248.5,93.4 248.6,104.1 248.6,92.1 248.7,103.3 248.8,87.6 248.9,104.4 248.9,92.3 249.0,103.8 249.1,89.2 249.1,104.5 249.2,88.7 249.3,104.4 249.4,92.8 249.4,104.2 249.5,92.1 249.6,104.5 249.6,92.2 249.7,103.4 249.8,90.5 249.9,102.6 249.9,91.8 250.0,106.3 250.1,92.7 250.1,103.8 250.2,91.9 250.3,104.3 250.4,92.7 250.4,102.5 250.5,92.2 250.6,103.7 250.6,92.7 250.7,102.6 250.8,93.0 250.9,103.4 250.9,91.8 251.0,106.0 251.1,91.5 251.1,102.3 251.2,91.6 251.3,105.0 251.4,88.7 251.4,104.3 251.5,91.7 251.6,104.1 251.6,93.1 251.7,106.3 251.8,86.6 251.9,105.0 251.9,93.5 252.0,104.5 252.1,93.1 252.1,105.5 252.2,92.1 252.3,105.0 252.4,91.4 252.4,104.8"/>
<polyline class="sg" stroke-width="0.50" points="52.6,107.0 53.2,101.3 53.6,114.5 54.3,82.8 54.8,113.6 55.1,74.4 55.4,113.5 56.1,81.5 56.5,123.5 57.0,106.9"/>
<polyline class="sg" stroke-linejoin="round" stroke-width="1.50" stroke-opacity="0.60" points="34.5,105.0 35.0,108.6 35.5,111.7 36.0,114.4 36.5,117.2 37.0,120.0 37.5,115.6 38.0,111.1 38.5,106.7 39.0,102.2 39.5,97.8 40.0,93.4 40.5,88.9 41.0,84.5 41.5,88.7 42.0,92.9 42.5,97.1 43.0,101.2 43.5,105.4 44.0,109.6 44.5,113.8 45.0,118.0 45.5,113.7 46.0,109.4 46.5,105.1 47.0,100.8 47.5,96.5 48.0,92.2 48.5,87.9 49.0,83.6 49.5,79.3 50.0,75.0 50.5,81.0 51.0,87.1 51.5,93.1 52.0,99.2 52.4,104.0"/>
<rect class="ax" x="34.5" y="8.8" width="217.9" height="167.4"/>
<text class="tk" x="34.5" y="187.1" text-anchor="middle">0</text>
<text class="tk" x="78.1" y="187.1" text-anchor="middle">2</text>
<text class="tk" x="121.7" y="187.1" text-anchor="middle">4</text>
<text class="tk" x="165.2" y="187.1" text-anchor="middle">6</text>
<text class="tk" x="208.8" y="187.1" text-anchor="middle">8</text>
<text class="tk" x="252.4" y="187.1" text-anchor="middle">10</text>
<text class="tk" x="31.1" y="178.7" text-anchor="end">-1.5</text>
<text class="tk" x="31.1" y="145.2" text-anchor="end">-1</text>
<text class="tk" x="31.1" y="111.7" text-anchor="end">-0.5</text>
<text class="tk" x="31.1" y="78.3" text-anchor="end">0</text>
<text class="tk" x="31.1" y="44.8" text-anchor="end">0.5</text>
<text class="tk" x="31.1" y="11.3" text-anchor="end">1</text>
<path class="ax" d="M78.1 176.2v-2.2M78.1 8.8v2.2M121.7 176.2v-2.2M121.7 8.8v2.2M165.2 176.2v-2.2M165.2 8.8v2.2M208.8 176.2v-2.2M208.8 8.8v2.2M34.5 142.7h2.2M252.4 142.7h-2.2M34.5 109.2h2.2M252.4 109.2h-2.2M34.5 75.8h2.2M252.4 75.8h-2.2M34.5 42.3h2.2M252.4 42.3h-2.2"/>
<text class="lb" x="143.4" y="200.4" text-anchor="middle">Time [s]</text>
<text class="lb" transform="translate(10.1 92.5) rotate(-90)" text-anchor="middle">Amplitude [mV]</text>
<text class="cp" x="143.4" y="223.2" text-anchor="middle">(<tspan font-weight="bold">a</tspan>)</text>
</g>
<g id="plot-b">
<polyline class="sg" stroke-width="0.32" points="324.5,102.8 324.6,108.5 324.6,103.1 324.7,108.7 324.8,102.5 324.9,110.3 324.9,102.0 325.0,108.8 325.1,99.4 325.1,106.9 325.2,100.9 325.3,107.6 325.4,99.3 325.4,107.4 325.5,96.1 325.6,105.7 325.6,94.1 325.7,105.4 325.8,95.4 325.9,106.9 325.9,95.9 326.0,106.3 326.1,94.3 326.1,104.1 326.2,96.7 326.3,104.4 326.4,94.2 326.4,106.2 326.5,94.5 326.6,106.2 326.6,95.0 326.7,104.2 326.8,95.8 326.9,104.0 326.9,97.5 327.0,106.0 327.1,94.2 327.1,106.8 327.2,95.6 327.3,104.8 327.4,98.4 327.4,106.3 327.5,98.3 327.6,106.1 327.6,94.8 327.7,104.2 327.8,93.2 327.9,107.1 327.9,92.9 328.0,105.9 328.1,96.4 328.1,105.0 328.2,95.4 328.3,106.9 328.4,94.8 328.4,103.4 328.5,93.7 328.6,103.6 328.6,93.5 328.7,102.4 328.8,94.3 328.9,100.4 328.9,92.2 329.0,100.0 329.1,89.2 329.1,99.1 329.2,90.2 329.3,97.1 329.4,91.5 329.4,97.3 329.5,88.6 329.6,98.2 329.6,91.6 329.7,100.3 329.8,92.3 329.9,98.6 329.9,90.9 330.0,102.8 330.1,91.9 330.1,101.5 330.2,93.1 330.3,99.7 330.4,91.2 330.4,99.1 330.5,91.2 330.6,98.8 330.6,91.5 330.7,100.8 330.8,89.2 330.9,99.8 330.9,90.6 331.0,98.8 331.1,90.0 331.1,98.6 331.2,90.4 331.3,97.8 331.4,88.5 331.4,98.6 331.5,90.0 331.6,98.5 331.6,90.9 331.7,98.4 331.8,90.1 331.9,97.9 331.9,90.6 332.0,100.2 332.1,88.4 332.1,97.5 332.2,88.3 332.3,97.3 332.4,86.5 332.4,97.4 332.5,89.4 332.6,95.3 332.6,84.6 332.7,97.0 332.8,86.6 332.9,94.4 332.9,87.0 333.0,95.6 333.1,83.9 333.1,93.4 333.2,83.3 333.3,93.8 333.4,84.4 333.4,94.5 333.5,84.4 333.6,95.8 333.6,86.6 333.7,95.2 333.8,86.4 333.9,94.8 333.9,85.4 334.0,93.2 334.1,85.3 334.1,93.1 334.2,85.7 334.3,96.6 334.4,86.4 334.4,93.0 334.5,84.8 334.6,94.1 334.6,83.3 334.7,93.5 334.8,85.1 334.9,93.0 334.9,84.4 335.0,93.8 335.1,84.4 335.1,94.1 335.2,86.7 335.3,93.8 335.4,86.6 335.4,96.3 335.5,85.9 335.6,96.5 335.6,86.9 335.7,94.3 335.8,85.9 335.9,96.0 335.9,85.7 336.0,95.1 336.1,84.6 336.1,93.5 336.2,85.8 336.3,94.9 336.4,84.3 336.4,94.0 336.5,84.4 336.6,94.0 336.6,84.5 336.7,97.2 336.8,84.7 336.9,96.0 336.9,84.5 337.0,94.1 337.1,85.6 337.1,93.4 337.2,87.2 337.3,93.6 337.4,85.4 337.4,94.3 337.5,86.3 337.6,95.4 337.6,87.3 337.7,94.6 337.8,86.1 337.9,94.9 337.9,87.5 338.0,94.0 338.1,87.3 338.1,94.1 338.2,86.9 338.3,96.0 338.4,87.9 338.4,95.4 338.5,86.0 338.6,96.1 338.6,85.7 338.7,94.9 338.8,89.4 338.9,97.6 338.9,86.4 339.0,96.8 339.1,88.2 339.1,95.8 339.2,89.1 339.3,96.0 339.4,89.3 339.4,96.0 339.5,88.4 339.6,97.9 339.6,90.6 339.7,97.4 339.8,90.1 339.9,96.8 339.9,89.0 340.0,97.0 340.1,89.5 340.1,99.4 340.2,89.8 340.3,100.9 340.4,91.3 340.4,99.4 340.5,91.1 340.6,98.2 340.6,89.1 340.7,98.9 340.8,89.5 340.9,98.7 340.9,90.1 341.0,98.5 341.1,87.7 341.1,97.1 341.2,86.6 341.3,97.4 341.4,84.2 341.4,94.3 341.5,86.8 341.6,95.1 341.6,87.4 341.7,93.5 341.8,86.3 341.9,93.7 341.9,84.5 342.0,94.1 342.1,87.0 342.1,93.9 342.2,87.5 342.3,94.7 342.4,86.5 342.4,93.1 342.5,86.7 342.6,93.9 342.6,87.7 342.7,95.0 342.8,87.1 342.9,93.1 342.9,87.1 343.0,93.3 343.1,86.8 343.1,93.9 343.2,88.5 343.3,96.1 343.4,90.2 343.4,98.6 343.5,89.0 343.6,97.0 343.6,90.5 343.7,95.8 343.8,90.4 343.9,95.8 343.9,88.6 344.0,96.0 344.1,89.3 344.1,94.8 344.2,88.4 344.3,95.4 344.4,89.5 344.4,95.2 344.5,89.0 344.6,96.7 344.6,86.9 344.7,96.0 344.8,89.0 344.9,97.1 344.9,89.6 345.0,96.9 345.1,90.5 345.1,97.9 345.2,90.4 345.3,97.5 345.4,90.5 345.4,100.1 345.5,89.8 345.6,97.7 345.6,88.7 345.7,96.5 345.8,86.9 345.9,93.6 345.9,85.2 346.0,93.4 346.1,83.7 346.1,93.9 346.2,84.7 346.3,91.7 346.4,84.7 346.4,93.2 346.5,85.0 346.6,93.5 346.6,83.7 346.7,93.4 346.8,84.3 346.9,92.3 346.9,84.5 347.0,92.4 347.1,84.7 347.1,91.6 347.2,85.2 347.3,95.2 347.4,82.5 347.4,92.6 347.5,82.5 347.6,92.0 347.6,82.1 347.7,90.8 347.8,82.6 347.9,92.7 347.9,84.2 348.0,92.4 348.1,83.9 348.1,92.9 348.2,84.6 348.3,94.5 348.4,84.1 348.4,93.7 348.5,84.9 348.6,92.8 348.6,84.7 348.7,94.0 348.8,85.4 348.9,97.0 348.9,85.0 349.0,93.1 349.1,86.1 349.1,96.5 349.2,85.0 349.3,94.2 349.4,85.8 349.4,94.1 349.5,85.7 349.6,94.6 349.6,83.1 349.7,92.1 349.8,83.8 349.9,94.3 349.9,84.4 350.0,94.3 350.1,83.2 350.1,92.7 350.2,83.6 350.3,95.8 350.4,83.8 350.4,96.3 350.5,85.5 350.6,94.6 350.6,84.1 350.7,96.8 350.8,86.6 350.9,95.3 350.9,87.9 351.0,97.1 351.1,87.7 351.1,97.7 351.2,86.2 351.3,98.7 351.4,86.9 351.4,98.7 351.5,89.1 351.6,99.8 351.6,91.4 351.7,101.5 351.8,89.7 351.9,101.0 351.9,90.2 352.0,100.3 352.1,91.0 352.1,99.1 352.2,90.2 352.3,100.2 352.4,90.4 352.4,99.2 352.5,92.8 352.6,99.8 352.6,90.2 352.7,100.8 352.8,92.6 352.9,98.7 352.9,91.1 353.0,99.2 353.1,90.0 353.1,102.5 353.2,89.4 353.3,102.6 353.4,93.1 353.4,98.5 353.5,90.9 353.6,100.2 353.6,92.1 353.7,99.8 353.8,91.5 353.9,100.6 353.9,92.6 354.0,99.6 354.1,91.8 354.1,100.1 354.2,92.1 354.3,100.9 354.4,93.4 354.4,99.5 354.5,92.5 354.6,100.3 354.6,94.4 354.7,102.4 354.8,93.3 354.9,101.5 354.9,94.1 355.0,102.8 355.1,93.3 355.1,104.5 355.2,93.4 355.3,103.4 355.4,93.9 355.4,103.2 355.5,94.3 355.6,105.1 355.6,92.8 355.7,102.6 355.8,94.5 355.9,103.9 355.9,95.1 356.0,104.4 356.1,94.3 356.1,103.2 356.2,95.4 356.3,104.4 356.4,94.8 356.4,104.7 356.5,94.8 356.6,102.7 356.6,95.3 356.7,104.3 356.8,96.1 356.9,104.3 356.9,97.9 357.0,104.5 357.1,97.0 357.1,105.7 357.2,97.4 357.3,104.8 357.4,96.6 357.4,102.7 357.5,96.4 357.6,102.3 357.6,94.6 357.7,101.2 357.8,95.3 357.9,100.2 357.9,93.3 358.0,100.3 358.1,93.8 358.1,101.3 358.2,93.5 358.3,101.0 358.4,93.2 358.4,101.4 358.5,93.6 358.6,101.3 358.6,93.7 358.7,100.9 358.8,95.4 358.9,102.8 358.9,94.5 359.0,103.7 359.1,96.2 359.1,102.8 359.2,95.9 359.3,103.9 359.4,96.3 359.4,103.9 359.5,95.6 359.6,104.5 359.6,97.4 359.7,103.3 359.8,95.6 359.9,102.6 359.9,97.2 360.0,103.4 360.1,97.1 360.1,102.8 360.2,96.2 360.3,102.4 360.4,97.2 360.4,102.5 360.5,95.9 360.6,102.9 360.6,96.3 360.7,101.8 360.8,95.8 360.9,100.6 360.9,95.3 361.0,101.1 361.1,94.7 361.1,101.6 361.2,93.9 361.3,100.2 361.4,92.6 361.4,101.2 361.5,94.0 361.6,101.4 361.6,92.8 361.7,100.1 361.8,91.7 361.9,100.4 361.9,90.9 362.0,99.1 362.1,90.8 362.1,98.4 362.2,90.6 362.3,100.2 362.4,89.8 362.4,97.6 362.5,89.4 362.6,98.3 362.6,89.1 362.7,97.3 362.8,87.3 362.9,97.2 362.9,87.8 363.0,96.8 363.1,86.4 363.1,95.0 363.2,86.5 363.3,96.8 363.4,83.6 363.4,96.9 363.5,85.8 363.6,97.2 363.6,84.8 363.7,94.1 363.8,84.8 363.9,94.5 363.9,87.1 364.0,95.0 364.1,85.0 364.1,95.8 364.2,86.9 364.3,94.2 364.4,87.3 364.4,96.1 364.5,85.3 364.6,96.2 364.6,85.8 364.7,94.5 364.8,87.3 364.9,93.1 364.9,83.4 365.0,92.9 365.1,86.1 365.1,93.5 365.2,86.4 365.3,92.0 365.4,84.2 365.4,91.4 365.5,83.9 365.6,93.0 365.6,85.1 365.7,91.1 365.8,82.8 365.9,91.8 365.9,84.5 366.0,91.8 366.1,83.1 366.1,92.1 366.2,85.2 366.3,94.1 366.4,83.0 366.4,96.0 366.5,86.3 366.6,94.2 366.6,87.4 366.7,93.5 366.8,86.3 366.9,95.1 366.9,88.6 367.0,96.3 367.1,86.6 367.1,97.6 367.2,88.9 367.3,99.9 367.4,90.3 367.4,98.6 367.5,91.3 367.6,99.1 367.6,93.6 367.7,99.8 367.8,91.6 367.9,101.8 367.9,92.4 368.0,100.2 368.1,91.9 368.1,99.8 368.2,93.0 368.3,98.5 368.4,90.7 368.4,101.2 368.5,90.1 368.6,98.8 368.6,92.3 368.7,98.3 368.8,91.7 368.9,97.8 368.9,89.9 369.0,97.7 369.1,89.1 369.1,98.3 369.2,88.8 369.3,97.4 369.4,90.0 369.4,98.7 369.5,90.9 369.6,98.5 369.6,88.4 369.7,99.3 369.8,90.3 369.9,97.4 369.9,88.2 370.0,98.4 370.1,89.6 370.1,98.3 370.2,90.6 370.3,97.0 370.4,88.0 370.4,96.2 370.5,89.9 370.6,96.3 370.6,87.5 370.7,96.2 370.8,88.4 370.9,97.2 370.9,88.6 371.0,97.2 371.1,87.4 371.1,97.6 371.2,88.0 371.3,97.1 371.4,90.3 371.4,97.3 371.5,87.7 371.6,98.2 371.6,88.9 371.7,97.2 371.8,87.0 371.9,95.9 371.9,89.5 372.0,95.6 372.1,88.8 372.1,95.0 372.2,87.6 372.3,95.0 372.4,88.5 372.4,94.2 372.5,86.2 372.6,94.4 372.6,86.4 372.7,93.8 372.8,86.7 372.9,93.6 372.9,83.8 373.0,94.7 373.1,84.2 373.1,94.3 373.2,86.5 373.3,94.7 373.4,86.2 373.4,92.0 373.5,83.9 373.6,93.8 373.6,83.3 373.7,92.6 373.8,83.4 373.9,91.4 373.9,81.5 374.0,91.5 374.1,81.3 374.1,92.0 374.2,82.4 374.3,89.2 374.4,82.3 374.4,88.7 374.5,80.7 374.6,89.9 374.6,80.9 374.7,89.8 374.8,81.6 374.9,89.7 374.9,81.7 375.0,89.6 375.1,80.2 375.1,92.4 375.2,80.7 375.3,91.1 375.4,80.6 375.4,92.5 375.5,81.7 375.6,90.7 375.6,81.7 375.7,92.1 375.8,79.6 375.9,91.3 375.9,77.1 376.0,87.6 376.1,77.4 376.1,87.6 376.2,77.9 376.3,89.1 376.4,78.0 376.4,88.2 376.5,78.8 376.6,87.3 376.6,77.2 376.7,87.6 376.8,77.9 376.9,89.4 376.9,80.0 377.0,90.8 377.1,80.5 377.1,90.5 377.2,81.2 377.3,93.3 377.4,81.9 377.4,93.6 377.5,84.5 377.6,94.8 377.6,85.7 377.7,96.4 377.8,83.6 377.9,94.9 377.9,84.8 378.0,96.3 378.1,86.9 378.1,96.8 378.2,85.9 378.3,98.3 378.4,86.4 378.4,96.5 378.5,86.9 378.6,99.1 378.6,88.7 378.7,99.3 378.8,88.4 378.9,99.0 378.9,90.1 379.0,99.8 379.1,89.3 379.1,99.7 379.2,89.1 379.3,98.9 379.4,91.7 379.4,104.2 379.5,86.7 379.6,100.7 379.6,89.4 379.7,103.2 379.8,92.2 379.9,100.5 379.9,89.2 380.0,103.6 380.1,90.1 380.1,100.6 380.2,88.6 380.3,100.2 380.4,87.2 380.4,99.7 380.5,86.7 380.6,103.2 380.6,86.0 380.7,100.5 380.8,86.7 380.9,102.7 380.9,86.9 381.0,112.1 381.1,87.1 381.1,102.9 381.2,86.7 381.3,103.3 381.4,83.9 381.4,99.5 381.5,88.9 381.6,102.9 381.6,89.1 381.7,100.4 381.8,86.5 381.9,101.9 381.9,88.8 382.0,104.7 382.1,77.6 382.1,113.8 382.2,88.2 382.3,103.0 382.4,86.8 382.4,106.9 382.5,88.9 382.6,113.9 382.6,88.6 382.7,112.2 382.8,85.7 382.9,118.5 382.9,84.7 383.0,107.6 383.1,73.6 383.1,105.3 383.2,81.2 383.3,113.2 383.4,81.3 383.4,106.0 383.5,88.3 383.6,106.3 383.6,87.7 383.7,102.9 383.8,86.9 383.9,105.9 383.9,71.5 384.0,114.2 384.1,72.1 384.1,106.8 384.2,87.1 384.3,114.5 384.4,83.5 384.4,104.9 384.5,70.8 384.6,112.4 384.6,83.1 384.7,108.4 384.8,76.2 384.9,103.2 384.9,81.2 385.0,136.0 385.1,72.3 385.1,107.0 385.2,73.1 385.3,108.4 385.4,77.5 385.4,104.7 385.5,74.5 385.6,116.0 385.6,83.2 385.7,108.6 385.8,87.2 385.9,110.4 385.9,76.1 386.0,51.0 386.1,85.5 386.1,106.9 386.2,67.9 386.3,123.4 386.4,70.2 386.4,113.1 386.5,74.5 386.6,102.0 386.6,87.3 386.7,106.9 386.8,84.0 386.9,124.0 386.9,80.0 387.0,108.6 387.1,85.0 387.1,109.6 387.2,86.5 387.3,123.1 387.4,87.9 387.4,105.2 387.5,85.8 387.6,111.4 387.6,78.5 387.7,109.6 387.8,86.2 387.9,106.4 387.9,63.8 388.0,105.4 388.1,84.1 388.1,106.3 388.2,79.1 388.3,114.0 388.4,79.5 388.4,106.0 388.5,74.8 388.6,120.0 388.6,82.3 388.7,106.6 388.8,82.8 388.9,109.7 388.9,63.6 389.0,107.2 389.1,57.4 389.1,112.2 389.2,82.8 389.3,113.9 389.4,66.6 389.4,107.7 389.5,82.6 389.6,115.7 389.6,79.6 389.7,108.8 389.8,70.5 389.9,126.0 389.9,76.0 390.0,121.6 390.1,58.2 390.1,117.6 390.2,75.0 390.3,112.6 390.4,79.7 390.4,46.0 390.5,65.6 390.6,119.0 390.6,72.1 390.7,113.5 390.8,64.3 390.9,120.6 390.9,69.7 391.0,144.9 391.1,74.6 391.1,109.0 391.2,76.2 391.3,130.7 391.4,71.1 391.4,125.5 391.5,76.1 391.6,117.5 391.6,58.7 391.7,110.2 391.8,43.6 391.9,119.3 391.9,67.8 392.0,115.9 392.1,78.3 392.1,118.6 392.2,66.3 392.3,143.9 392.4,71.1 392.4,133.7 392.5,72.8 392.6,117.5 392.6,78.1 392.7,151.7 392.8,68.6 392.9,117.3 392.9,71.1 393.0,111.4 393.1,63.3 393.1,125.4 393.2,69.3 393.3,116.3 393.4,68.8 393.4,116.6 393.5,63.5 393.6,152.0 393.6,74.4 393.7,139.3 393.8,62.1 393.9,118.9 393.9,63.0 394.0,35.0 394.1,61.2 394.1,117.1 394.2,63.2 394.3,115.7 394.4,39.5 394.4,126.2 394.5,33.0 394.6,129.6 394.6,57.3 394.7,121.5 394.8,60.0 394.9,129.7 394.9,31.4 395.0,122.3 395.1,59.7 395.1,132.9 395.2,66.3 395.3,107.4 395.4,69.9 395.4,115.5 395.5,57.2 395.6,10.5 395.6,73.4 395.7,131.1 395.8,69.2 395.9,118.2 395.9,70.5 396.0,153.0 396.1,61.1 396.1,107.8 396.2,69.2 396.3,114.0 396.4,59.9 396.4,115.1 396.5,63.1 396.6,105.2 396.6,62.2 396.7,105.1 396.8,50.2 396.9,108.6 396.9,32.7 397.0,108.5 397.1,64.7 397.1,111.8 397.2,62.4 397.3,107.4 397.4,51.5 397.4,116.9 397.5,55.5 397.6,120.9 397.6,64.8 397.7,139.9 397.8,70.7 397.9,130.3 397.9,63.7 398.0,113.1 398.1,69.1 398.1,120.7 398.2,64.7 398.3,106.5 398.4,55.9 398.4,114.8 398.5,75.4 398.6,37.0 398.6,65.5 398.7,126.1 398.8,72.6 398.9,105.5 398.9,65.8 399.0,110.4 399.1,67.7 399.1,109.6 399.2,66.3 399.3,120.7 399.4,67.6 399.4,112.7 399.5,41.9 399.6,111.5 399.6,70.0 399.7,106.5 399.8,75.1 399.9,110.7 399.9,63.7 400.0,116.6 400.1,69.0 400.1,111.3 400.2,70.0 400.3,108.6 400.4,55.1 400.4,103.7 400.5,70.1 400.6,121.6 400.6,48.1 400.7,109.4 400.8,73.2 400.9,108.7 400.9,71.8 401.0,110.1 401.1,71.3 401.1,124.7 401.2,76.8 401.3,103.3 401.4,70.2 401.4,109.5 401.5,68.4 401.6,122.8 401.6,78.8 401.7,101.3 401.8,75.5 401.9,111.0 401.9,76.2 402.0,104.5 402.1,71.2 402.1,105.9 402.2,81.1 402.3,109.8 402.4,76.1 402.4,106.3 402.5,77.1 402.6,122.9 402.6,81.5 402.7,106.2 402.8,76.3 402.9,108.5 402.9,78.3 403.0,122.7 403.1,81.4 403.1,107.4 403.2,73.4 403.3,105.4 403.4,80.4 403.4,120.5 403.5,81.9 403.6,107.1 403.6,77.5 403.7,107.1 403.8,71.0 403.9,103.7 403.9,73.6 404.0,105.3 404.1,84.0 404.1,107.0 404.2,85.6 404.3,107.2 404.4,82.1 404.4,106.0 404.5,79.1 404.6,112.0 404.6,71.1 404.7,101.4 404.8,82.8 404.9,102.9 404.9,84.1 405.0,103.5 405.1,80.1 405.1,105.2 405.2,71.7 405.3,116.3 405.4,84.5 405.4,119.1 405.5,81.5 405.6,109.5 405.6,80.4 405.7,123.8 405.8,82.1 405.9,102.3 405.9,83.6 406.0,115.0 406.1,80.6 406.1,107.9 406.2,67.7 406.3,123.1 406.4,77.5 406.4,110.8 406.5,82.1 406.6,119.7 406.6,75.5 406.7,108.2 406.8,78.4 406.9,111.5 406.9,82.1 407.0,109.0 407.1,80.5 407.1,122.9 407.2,73.5 407.3,115.3 407.4,69.1 407.4,113.9 407.5,80.4 407.6,103.2 407.6,85.2 407.7,104.9 407.8,78.3 407.9,104.8 407.9,68.0 408.0,124.1 408.1,83.0 408.1,110.6 408.2,78.3 408.3,113.1 408.4,55.9 408.4,116.0 408.5,82.6 408.6,111.9 408.6,77.7 408.7,106.6 408.8,78.2 408.9,104.9 408.9,56.5 409.0,126.3 409.1,70.8 409.1,112.7 409.2,78.8 409.3,119.4 409.4,74.5 409.4,108.0 409.5,82.2 409.6,110.7 409.6,76.9 409.7,110.4 409.8,78.2 409.9,109.7 409.9,70.7 410.0,125.5 410.1,73.6 410.1,104.8 410.2,80.2 410.3,110.3 410.4,83.7 410.4,104.9 410.5,81.5 410.6,109.0 410.6,67.9 410.7,111.8 410.8,78.8 410.9,112.6 410.9,76.3 411.0,46.0 411.1,81.1 411.1,117.8 411.2,69.0 411.3,112.0 411.4,82.8 411.4,105.7 411.5,76.8 411.6,119.6 411.6,80.3 411.7,105.4 411.8,76.7 411.9,124.9 411.9,81.0 412.0,116.5 412.1,56.3 412.1,112.5 412.2,79.6 412.3,120.5 412.4,77.5 412.4,105.7 412.5,82.9 412.6,133.2 412.6,82.2 412.7,107.3 412.8,74.8 412.9,107.5 412.9,81.9 413.0,105.9 413.1,72.5 413.1,115.6 413.2,74.3 413.3,122.0 413.4,77.0 413.4,135.2 413.5,70.5 413.6,105.5 413.6,56.0 413.7,105.3 413.8,73.8 413.9,113.0 413.9,55.5 414.0,138.0 414.1,82.7 414.1,105.9 414.2,65.8 414.3,125.1 414.4,65.5 414.4,116.3 414.5,76.3 414.6,118.7 414.6,54.1 414.7,106.1 414.8,74.1 414.9,114.2 414.9,55.9 415.0,111.1 415.1,82.3 415.1,109.4 415.2,75.2 415.3,119.8 415.4,82.1 415.4,114.4 415.5,76.5 415.6,113.6 415.6,77.3 415.7,118.9 415.8,77.1 415.9,108.8 415.9,73.9 416.0,111.4 416.1,76.1 416.1,116.8 416.2,80.3 416.3,112.1 416.4,69.1 416.4,109.7 416.5,62.6 416.6,108.9 416.6,78.0 416.7,114.5 416.8,79.3 416.9,105.2 416.9,74.4 417.0,126.3 417.1,83.7 417.1,117.5 417.2,76.0 417.3,104.1 417.4,66.3 417.4,142.0 417.5,84.1 417.6,137.1 417.6,77.8 417.7,107.9 417.8,78.6 417.9,106.7 417.9,70.9 418.0,105.0 418.1,67.2 418.1,121.1 418.2,74.7 418.3,114.2 418.4,74.3 418.4,108.1 418.5,79.1 418.6,115.2 418.6,68.0 418.7,110.2 418.8,78.2 418.9,119.0 418.9,70.0 419.0,106.0 419.1,78.6 419.1,109.6 419.2,54.4 419.3,133.7 419.4,82.8 419.4,115.1 419.5,70.6 419.6,108.7 419.6,67.9 419.7,118.8 419.8,75.5 419.9,111.6 419.9,66.8 420.0,111.5 420.1,61.6 420.1,104.7 420.2,65.8 420.3,109.9 420.4,65.8 420.4,117.6 420.5,82.8 420.6,108.8 420.6,76.4 420.7,124.5 420.8,77.9 420.9,109.4 420.9,78.7 421.0,132.8 421.1,78.8 421.1,118.4 421.2,77.1 421.3,107.5 421.4,80.2 421.4,110.5 421.5,78.8 421.6,119.7 421.6,77.1 421.7,116.9 421.8,76.9 421.9,110.4 421.9,76.2 422.0,118.4 422.1,75.0 422.1,136.2 422.2,74.5 422.3,113.9 422.4,68.9 422.4,113.2 422.5,81.4 422.6,108.0 422.6,64.2 422.7,108.3 422.8,78.1 422.9,113.4 422.9,83.4 423.0,138.0 423.1,72.3 423.1,120.3 423.2,79.6 423.3,110.7 423.4,80.3 423.4,110.6 423.5,71.3 423.6,114.4 423.6,77.5 423.7,105.9 423.8,73.3 423.9,134.5 423.9,83.1 424.0,126.4 424.1,84.6 424.1,131.0 424.2,66.5 424.3,109.7 424.4,81.2 424.4,112.6 424.5,82.7 424.6,130.9 424.6,74.9 424.7,109.1 424.8,82.2 424.9,107.6 424.9,70.7 425.0,113.3 425.1,83.7 425.1,104.9 425.2,78.7 425.3,109.5 425.4,77.3 425.4,125.3 425.5,63.1 425.6,109.7 425.6,68.7 425.7,107.0 425.8,79.0 425.9,118.5 425.9,67.0 426.0,114.3 426.1,84.8 426.1,104.0 426.2,67.9 426.3,104.5 426.4,80.3 426.4,110.1 426.5,84.0 426.6,116.9 426.6,79.7 426.7,121.8 426.8,62.5 426.9,111.2 426.9,75.7 427.0,126.6 427.1,69.3 427.1,120.8 427.2,71.6 427.3,112.1 427.4,62.2 427.4,113.2 427.5,75.1 427.6,106.7 427.6,78.6 427.7,107.4 427.8,70.7 427.9,107.0 427.9,69.8 428.0,125.6 428.1,76.6 428.1,125.3 428.2,82.6 428.3,106.6 428.4,84.8 428.4,110.4 428.5,77.9 428.6,102.7 428.6,83.4 428.7,107.1 428.8,84.7 428.9,105.4 428.9,83.2 429.0,102.7 429.1,75.1 429.1,102.6 429.2,78.6 429.3,107.6 429.4,77.1 429.4,102.6 429.5,77.0"/>
<polyline class="sg" stroke-width="0.32" points="435.9,100.5 435.9,95.6 436.0,99.1 436.1,97.7 436.1,100.6 436.2,99.0 436.3,101.7 436.4,100.5 436.4,103.7 436.5,101.6 436.6,105.3 436.6,103.0 436.7,106.1 436.8,104.5 436.9,107.1 436.9,106.3 437.0,108.8 437.1,107.1 437.1,109.9 437.2,108.6 437.3,111.2 437.4,109.8 437.4,113.1 437.5,111.6 437.6,113.3 437.6,110.8 437.7,112.0 437.8,108.8 437.9,109.8 437.9,105.9 438.0,107.6 438.1,103.9 438.1,105.3 438.2,101.0 438.3,101.9 438.4,98.8 438.4,99.3 438.5,96.4 438.6,97.0 438.6,93.7 438.7,94.9 438.8,90.5 438.9,91.7 438.9,88.0 439.0,88.9 439.1,85.5 439.1,86.7 439.2,83.4 439.3,84.6 439.4,82.8 439.4,85.0 439.5,83.2 439.6,86.3 439.6,85.1 439.7,88.1 439.8,86.6 439.9,89.5 439.9,87.3 440.0,90.8 440.1,88.8 440.1,92.4 440.2,91.0 440.3,93.8 440.4,92.0 440.4,95.1 440.5,93.7 440.6,95.0 440.6,90.4 440.7,91.8 440.8,88.7 440.9,89.0 440.9,85.6 441.0,86.3 441.1,83.1 441.1,84.0 441.2,80.7 441.3,81.6 441.4,79.1 441.4,80.5 441.5,77.9 441.6,80.8 441.6,79.5 441.7,82.4 441.8,80.8 441.9,83.8 441.9,82.3 442.0,84.6 442.1,83.0 442.1,86.0 442.2,84.5 442.3,87.0 442.4,86.1 442.4,88.3 442.5,87.1 442.6,90.2 442.6,88.4 442.7,90.9 442.8,89.4 442.9,92.2 442.9,90.3 443.0,93.5 443.1,92.3 443.1,94.7 443.2,93.3 443.3,96.2 443.4,94.9 443.4,97.7 443.5,96.3 443.6,97.8 443.6,95.8 443.7,97.5 443.8,95.2 443.9,96.9 443.9,94.2 444.0,95.8 444.1,92.8 444.1,94.9 444.2,91.4 444.3,93.3 444.4,90.7 444.4,92.0 444.5,89.1 444.6,91.0 444.6,87.9 444.7,89.3 444.8,87.1 444.9,90.0 444.9,88.6 445.0,91.0 445.1,89.7 445.1,92.9 445.2,91.5 445.3,94.3 445.4,93.1 445.4,96.0 445.5,94.4 445.6,97.3 445.6,96.0 445.7,99.4 445.8,97.4 445.9,101.0 445.9,99.1 446.0,102.7 446.1,101.0 446.1,104.0 446.2,102.7 446.3,105.5 446.4,104.4 446.4,107.1 446.5,105.7 446.6,108.4 446.6,107.0 446.7,109.5 446.8,106.8 446.9,107.9 446.9,104.5 447.0,106.2 447.1,101.8 447.1,103.5 447.2,100.3 447.3,101.0 447.4,97.4 447.4,98.7 447.5,95.7 447.6,97.1 447.6,92.9 447.7,94.6 447.8,91.6 447.9,92.6 447.9,89.0 448.0,89.9 448.1,86.9 448.1,88.5 448.2,85.5 448.3,87.5 448.4,85.8 448.4,87.9 448.5,86.5 448.6,89.1 448.6,87.3 448.7,89.9 448.8,87.3 448.9,91.1 448.9,87.5 449.0,95.6 449.1,84.7 449.1,94.2 449.2,86.4 449.3,94.6 449.4,85.4 449.4,95.6 449.5,85.4 449.6,95.1 449.6,88.1 449.7,96.7 449.8,86.4 449.9,98.2 449.9,88.7 450.0,97.3 450.1,87.4 450.1,98.6 450.2,87.8 450.3,94.5 450.4,88.2 450.4,97.1 450.5,83.9 450.6,96.4 450.6,85.1 450.7,97.5 450.8,86.6 450.9,96.4 450.9,86.0 451.0,97.1 451.1,84.0 451.1,97.6 451.2,86.3 451.3,97.1 451.4,82.7 451.4,94.3 451.5,85.2 451.6,92.6 451.6,80.9 451.7,92.8 451.8,82.6 451.9,93.3 451.9,82.9 452.0,91.7 452.1,81.0 452.1,92.2 452.2,79.9 452.3,93.3 452.4,82.4 452.4,93.1 452.5,83.5 452.6,92.7 452.6,82.5 452.7,91.0 452.8,82.0 452.9,93.9 452.9,84.0 453.0,91.3 453.1,84.3 453.1,91.6 453.2,81.0 453.3,93.4 453.4,85.1 453.4,95.1 453.5,81.3 453.6,94.5 453.6,84.4 453.7,95.7 453.8,87.1 453.9,96.1 453.9,85.4 454.0,98.5 454.1,86.6 454.1,96.0 454.2,87.2 454.3,96.3 454.4,84.3 454.4,101.1 454.5,82.9 454.6,97.3 454.6,85.3 454.7,97.8 454.8,85.3 454.9,99.6 454.9,86.0 455.0,98.3 455.1,85.4 455.1,100.7 455.2,88.0 455.3,97.2 455.4,85.9 455.4,100.9 455.5,86.4 455.6,99.2 455.6,85.6 455.7,100.5 455.8,86.8 455.9,102.2 455.9,86.6 456.0,98.6 456.1,87.5 456.1,102.2 456.2,89.7 456.3,102.4 456.4,89.9 456.4,102.0 456.5,88.1 456.6,102.8 456.6,88.4 456.7,101.5 456.8,85.3 456.9,101.2 456.9,87.3 457.0,100.8 457.1,88.4 457.1,105.2 457.2,85.9 457.3,105.0 457.4,89.2 457.4,104.7 457.5,90.9 457.6,103.6 457.6,91.0 457.7,105.4 457.8,90.9 457.9,104.1 457.9,92.2 458.0,105.7 458.1,91.7 458.1,104.9 458.2,92.9 458.3,108.6 458.4,93.5 458.4,106.1 458.5,97.1 458.6,110.5 458.6,95.0 458.7,112.6 458.8,99.3 458.9,109.0 458.9,98.3 459.0,111.1 459.1,97.8 459.1,110.4 459.2,95.2 459.3,110.4 459.4,95.2 459.4,106.7 459.5,96.1 459.6,105.9 459.6,93.7 459.7,107.0 459.8,94.8 459.9,105.5 459.9,92.1 460.0,106.3 460.1,91.5 460.1,102.9 460.2,92.9 460.3,105.8 460.4,92.3 460.4,102.3 460.5,93.9 460.6,101.8 460.6,93.9 460.7,101.6 460.8,93.7 460.9,100.9 460.9,92.4 461.0,99.9 461.1,88.0 461.1,98.9 461.2,88.6 461.3,101.0 461.4,90.5 461.4,99.0 461.5,88.6 461.6,99.3 461.6,88.7 461.7,100.5 461.8,89.6 461.9,100.3 461.9,88.7 462.0,98.3 462.1,86.6 462.1,97.4 462.2,90.0 462.3,97.8 462.4,86.9 462.4,96.8 462.5,87.8 462.6,95.3 462.6,87.4 462.7,96.3 462.8,84.6 462.9,94.6 462.9,85.2 463.0,94.6 463.1,83.0 463.1,93.5 463.2,83.0 463.3,94.2 463.4,83.2 463.4,92.3 463.5,82.6 463.6,93.2 463.6,84.4 463.7,92.4 463.8,82.6 463.9,95.3 463.9,83.6 464.0,96.3 464.1,86.3 464.1,95.9 464.2,85.0 464.3,96.6 464.4,87.1 464.4,99.7 464.5,88.8 464.6,99.1 464.6,88.5 464.7,100.6 464.8,91.1 464.9,99.7 464.9,88.3 465.0,101.6 465.1,88.5 465.1,102.0 465.2,91.2 465.3,99.9 465.4,91.5 465.4,103.2 465.5,92.0 465.6,99.3 465.6,91.9 465.7,101.7 465.8,93.1 465.9,100.2 465.9,90.8 466.0,103.0 466.1,90.6 466.1,104.6 466.2,90.0 466.3,103.2 466.4,93.0 466.4,101.7 466.5,93.4 466.6,102.3 466.6,93.5 466.7,105.3 466.8,92.3 466.9,102.6 466.9,93.8 467.0,102.8 467.1,93.3 467.1,104.9 467.2,92.5 467.3,101.7 467.4,91.9 467.4,100.9 467.5,92.0 467.6,102.1 467.6,89.3 467.7,103.9 467.8,89.1 467.9,100.6 467.9,89.0 468.0,99.2 468.1,89.7 468.1,99.9 468.2,88.6 468.3,101.6 468.4,91.2 468.4,101.1 468.5,89.4 468.6,101.2 468.6,89.9 468.7,99.0 468.8,91.1 468.9,99.8 468.9,87.3 469.0,101.3 469.1,88.1 469.1,100.3 469.2,88.9 469.3,101.7 469.4,90.3 469.4,103.8 469.5,90.1 469.6,101.2 469.6,90.7 469.7,102.1 469.8,92.1 469.9,99.5 469.9,89.8 470.0,102.4 470.1,89.3 470.1,101.9 470.2,87.0 470.3,103.7 470.4,90.1 470.4,101.1 470.5,88.1 470.6,101.0 470.6,86.1 470.7,100.1 470.8,87.0 470.9,99.4 470.9,88.9 471.0,99.3 471.1,85.9 471.1,99.7 471.2,88.3 471.3,97.2 471.4,86.1 471.4,99.2 471.5,84.8 471.6,98.5 471.6,85.7 471.7,97.0 471.8,84.3 471.9,96.2 471.9,84.5 472.0,98.6 472.1,85.2 472.1,95.9 472.2,86.4 472.3,98.3 472.4,86.9 472.4,98.9 472.5,87.0 472.6,98.2 472.6,86.0 472.7,98.0 472.8,85.8 472.9,95.4 472.9,86.0 473.0,96.4 473.1,85.8 473.1,98.5 473.2,85.8 473.3,94.3 473.4,86.3 473.4,96.7 473.5,85.1 473.6,93.8 473.6,86.8 473.7,94.4 473.8,85.3 473.9,97.5 473.9,86.2 474.0,96.1 474.1,85.2 474.1,97.0 474.2,84.3 474.3,95.6 474.4,83.9 474.4,94.0 474.5,83.0 474.6,92.1 474.6,83.3 474.7,92.7 474.8,82.8 474.9,90.7 474.9,83.6 475.0,91.9 475.1,81.3 475.1,90.7 475.2,83.5 475.3,92.4 475.4,82.7 475.4,91.8 475.5,81.9 475.6,91.3 475.6,82.6 475.7,90.6 475.8,83.3 475.9,92.7 475.9,83.7 476.0,92.2 476.1,82.8 476.1,92.6 476.2,83.6 476.3,93.4 476.4,82.3 476.4,95.9 476.5,83.2 476.6,92.2 476.6,82.3 476.7,94.5 476.8,85.1 476.9,93.1 476.9,85.3 477.0,94.1 477.1,85.4 477.1,93.8 477.2,86.0 477.3,96.3 477.4,86.8 477.4,95.0 477.5,86.9 477.6,97.4 477.6,86.5 477.7,96.9 477.8,85.5 477.9,99.2 477.9,87.6 478.0,96.3 478.1,88.2 478.1,99.4 478.2,88.3 478.3,99.9 478.4,88.3 478.4,102.4 478.5,87.5 478.6,100.6 478.6,89.1 478.7,98.8 478.8,90.9 478.9,100.5 478.9,89.3 479.0,100.8 479.1,91.8 479.1,100.2 479.2,87.6 479.3,98.3 479.4,90.0 479.4,97.9 479.5,90.8 479.6,100.7 479.6,89.2 479.7,100.9 479.8,89.2 479.9,100.5 479.9,90.8 480.0,100.8 480.1,88.4 480.1,100.0 480.2,91.3 480.3,102.3 480.4,93.6 480.4,101.4 480.5,92.2 480.6,103.6 480.6,92.3 480.7,106.1 480.8,93.8 480.9,104.0 480.9,95.4 481.0,106.6 481.1,95.8 481.1,104.9 481.2,96.1 481.3,104.0 481.4,92.3 481.4,103.1 481.5,94.3 481.6,104.0 481.6,96.0 481.7,103.9 481.8,94.2 481.9,104.8 481.9,94.7 482.0,103.3 482.1,95.7 482.1,102.5 482.2,92.9 482.3,103.4 482.4,91.9 482.4,103.0 482.5,93.1 482.6,104.8 482.6,91.9 482.7,104.5 482.8,91.3 482.9,101.0 482.9,89.5 483.0,102.0 483.1,91.4 483.1,100.3 483.2,88.2 483.3,102.5 483.4,91.1 483.4,100.9 483.5,87.7 483.6,97.9 483.6,87.4 483.7,99.8 483.8,88.2 483.9,97.8 483.9,88.1 484.0,95.8 484.1,85.2 484.1,95.0 484.2,83.8 484.3,95.4 484.4,85.0 484.4,95.8 484.5,83.4 484.6,93.7 484.6,81.1 484.7,95.2 484.8,83.4 484.9,95.4 484.9,84.8 485.0,95.0 485.1,83.4 485.1,92.0 485.2,82.0 485.3,92.1 485.4,84.7 485.4,96.0 485.5,84.8 485.6,92.7 485.6,83.7 485.7,93.6 485.8,84.9 485.9,96.8 485.9,84.2 486.0,97.4 486.1,85.0 486.1,93.7 486.2,84.6 486.3,95.5 486.4,86.1 486.4,96.4 486.5,85.5 486.6,95.4 486.6,86.8 486.7,95.0 486.8,84.8 486.9,95.6 486.9,85.1 487.0,96.2 487.1,83.1 487.1,96.6 487.2,86.1 487.3,94.5 487.4,86.1 487.4,95.0 487.5,86.5 487.6,98.4 487.6,84.1 487.7,95.8 487.8,88.1 487.9,95.8 487.9,86.9 488.0,96.2 488.1,85.4 488.1,95.5 488.2,86.5 488.3,94.5 488.4,88.0 488.4,95.4 488.5,89.0 488.6,97.1 488.6,87.3 488.7,95.1 488.8,87.8 488.9,94.9 488.9,88.5 489.0,96.6 489.1,87.4 489.1,96.4 489.2,88.3 489.3,95.6 489.4,89.3 489.4,96.4 489.5,87.8 489.6,96.2 489.6,89.0 489.7,94.7 489.8,88.2 489.9,96.3 489.9,86.7 490.0,97.1 490.1,87.1 490.1,94.4 490.2,86.9 490.3,97.1 490.4,88.0 490.4,95.4 490.5,89.1 490.6,96.6 490.6,88.8 490.7,97.2 490.8,87.2 490.9,97.5 490.9,89.5 491.0,98.4 491.1,88.0 491.1,99.0 491.2,88.3 491.3,97.7 491.4,89.2 491.4,97.5 491.5,88.0 491.6,96.0 491.6,88.6 491.7,97.2 491.8,89.7 491.9,95.3 491.9,86.1 492.0,96.5 492.1,88.6 492.1,96.1 492.2,85.3 492.3,93.9 492.4,88.1 492.4,95.9 492.5,85.9 492.6,94.0 492.6,86.2 492.7,93.9 492.8,86.6 492.9,94.1 492.9,84.6 493.0,94.8 493.1,84.0 493.1,94.2 493.2,87.3 493.3,95.8 493.4,86.6 493.4,95.9 493.5,85.2 493.6,95.2 493.6,89.1 493.7,96.5 493.8,87.9 493.9,96.4 493.9,86.6 494.0,99.8 494.1,88.1 494.1,98.2 494.2,89.3 494.3,98.6 494.4,86.5 494.4,99.6 494.5,88.9 494.6,97.8 494.6,87.6 494.7,97.2 494.8,87.6 494.9,96.5 494.9,87.5 495.0,96.0 495.1,89.3 495.1,95.3 495.2,87.1 495.3,95.9 495.4,88.5 495.4,99.4 495.5,88.9 495.6,97.2 495.6,89.0 495.7,96.6 495.8,89.5 495.9,97.0 495.9,89.2 496.0,96.3 496.1,88.7 496.1,96.5 496.2,88.2 496.3,99.3 496.4,89.7 496.4,97.5 496.5,90.8 496.6,101.9 496.6,89.5 496.7,100.7 496.8,89.7 496.9,99.6 496.9,91.2 497.0,100.2 497.1,93.7 497.1,101.4 497.2,91.2 497.3,103.3 497.4,90.8 497.4,101.5 497.5,91.9 497.6,103.5 497.6,91.4 497.7,102.4 497.8,91.9 497.9,105.3 497.9,90.7 498.0,105.0 498.1,94.2 498.1,102.2 498.2,93.8 498.3,100.9 498.4,92.0 498.4,102.5 498.5,93.5 498.6,102.0 498.6,91.8 498.7,101.0 498.8,89.9 498.9,103.4 498.9,90.8 499.0,103.6 499.1,89.5 499.1,102.4 499.2,91.7 499.3,102.5 499.4,92.6 499.4,103.1 499.5,93.0 499.6,103.0 499.6,92.7 499.7,103.5 499.8,90.5 499.9,102.2 499.9,92.5 500.0,103.3 500.1,92.6 500.1,105.9 500.2,91.3 500.3,106.2 500.4,93.8 500.4,103.8 500.5,92.4 500.6,101.9 500.6,89.9 500.7,102.0 500.8,92.0 500.9,103.7 500.9,93.5 501.0,102.8 501.1,92.8 501.1,103.8 501.2,92.0 501.3,100.8 501.4,92.6 501.4,102.2 501.5,91.1 501.6,101.1 501.6,90.7 501.7,98.9 501.8,90.0 501.9,97.0 501.9,88.0 502.0,98.3 502.1,86.1 502.1,97.3 502.2,85.7 502.3,100.4 502.4,88.2 502.4,98.7 502.5,86.4 502.6,96.3 502.6,86.9 502.7,96.6 502.8,89.2 502.9,96.8 502.9,87.8 503.0,97.5 503.1,87.2 503.1,100.6 503.2,89.1 503.3,99.5 503.4,89.4 503.4,99.2 503.5,89.2 503.6,102.1 503.6,87.6 503.7,98.0 503.8,87.7 503.9,100.1 503.9,90.5 504.0,98.4 504.1,89.2 504.1,97.9 504.2,88.8 504.3,97.5 504.4,89.3 504.4,96.3 504.5,88.4 504.6,97.7 504.6,89.4 504.7,97.1 504.8,88.2 504.9,97.6 504.9,89.2 505.0,98.3 505.1,87.5 505.1,97.9 505.2,87.4 505.3,95.4 505.4,86.7 505.4,96.5 505.5,86.7 505.6,97.3 505.6,88.3 505.7,96.5 505.8,87.5 505.9,97.6 505.9,88.3 506.0,97.7 506.1,85.8 506.1,98.9 506.2,87.4 506.3,98.9 506.4,89.6 506.4,96.9 506.5,88.0 506.6,97.6 506.6,88.8 506.7,99.7 506.8,89.1 506.9,96.0 506.9,87.0 507.0,99.3 507.1,86.9 507.1,97.1 507.2,87.1 507.3,96.6 507.4,85.6 507.4,96.8 507.5,88.2 507.6,96.8 507.6,89.0 507.7,98.8 507.8,88.5 507.9,96.1 507.9,86.8 508.0,96.4 508.1,88.0 508.1,96.7 508.2,87.5 508.3,94.5 508.4,85.0 508.4,96.0 508.5,84.5 508.6,94.7 508.6,85.3 508.7,97.5 508.8,87.5 508.9,98.2 508.9,87.4 509.0,99.7 509.1,89.6 509.1,97.8 509.2,87.8 509.3,98.3 509.4,90.1 509.4,100.0 509.5,88.1 509.6,99.7 509.6,87.1 509.7,98.4 509.8,91.0 509.9,99.0 509.9,89.8 510.0,101.0 510.1,90.3 510.1,103.0 510.2,90.8 510.3,100.3 510.4,86.4 510.4,99.5 510.5,86.6 510.6,99.4 510.6,86.4 510.7,96.3 510.8,86.2 510.9,98.6 510.9,86.6 511.0,97.2 511.1,88.8 511.1,96.9 511.2,87.4 511.3,98.8 511.4,88.6 511.4,98.7 511.5,90.0 511.6,98.9 511.6,88.5 511.7,98.4 511.8,89.3 511.9,100.9 511.9,86.7 512.0,100.4 512.1,86.1 512.1,99.9 512.2,86.8 512.3,96.9 512.4,87.9 512.4,95.5 512.5,86.9 512.6,98.7 512.6,88.2 512.7,97.6 512.8,87.8 512.9,97.1 512.9,89.0 513.0,97.3 513.1,88.3 513.1,99.5 513.2,90.5 513.3,100.6 513.4,90.5 513.4,98.4 513.5,89.3 513.6,98.0 513.6,88.9 513.7,99.1 513.8,87.7 513.9,98.5 513.9,87.8 514.0,98.3 514.1,87.4 514.1,96.7 514.2,88.0 514.3,98.2 514.4,86.4 514.4,95.8 514.5,86.9 514.6,96.9 514.6,84.8 514.7,95.4 514.8,86.4 514.9,94.6 514.9,87.4 515.0,96.5 515.1,86.8 515.1,97.6 515.2,86.0 515.3,99.5 515.4,87.8 515.4,97.1 515.5,89.1 515.6,97.0 515.6,90.3 515.7,100.6 515.8,90.6 515.9,99.1 515.9,91.8 516.0,99.4 516.1,91.5 516.1,101.2 516.2,90.3 516.3,100.7 516.4,93.2 516.4,102.0 516.5,92.5 516.6,100.3 516.6,93.0 516.7,102.3 516.8,91.2 516.9,103.9 516.9,92.4 517.0,101.8 517.1,88.5 517.1,101.5 517.2,90.7 517.3,101.6 517.4,91.2 517.4,103.5 517.5,90.7 517.6,100.4 517.6,90.7 517.7,99.8 517.8,92.7 517.9,101.1 517.9,92.5 518.0,100.9 518.1,89.5 518.1,99.2 518.2,92.0 518.3,100.3 518.4,92.6 518.4,100.3 518.5,91.9 518.6,101.1 518.6,92.0 518.7,100.9 518.8,90.2 518.9,100.7 518.9,90.8 519.0,99.5 519.1,89.9 519.1,102.0 519.2,89.4 519.3,98.6 519.4,88.8 519.4,97.9 519.5,88.9 519.6,97.4 519.6,87.4 519.7,97.7 519.8,86.1 519.9,96.7 519.9,87.8 520.0,98.2 520.1,84.9 520.1,96.9 520.2,88.2 520.3,98.4 520.4,88.0 520.4,97.9 520.5,90.5 520.6,96.6 520.6,86.4 520.7,99.8 520.8,89.7 520.9,97.8 520.9,87.1 521.0,99.8 521.1,86.8 521.1,98.4 521.2,86.8 521.3,96.6 521.4,85.6 521.4,94.4 521.5,85.4 521.6,95.1 521.6,85.4 521.7,95.9 521.8,88.7 521.9,98.6 521.9,87.3 522.0,96.7 522.1,90.2 522.1,97.3 522.2,87.7 522.3,99.6 522.4,86.7 522.4,97.8 522.5,89.6 522.6,100.3 522.6,86.7 522.7,98.7 522.8,89.0 522.9,99.0 522.9,88.5 523.0,98.6 523.1,87.3 523.1,96.4 523.2,89.6 523.3,97.6 523.4,85.6 523.4,96.4 523.5,85.1 523.6,96.7 523.6,89.0 523.7,98.9 523.8,88.1 523.9,98.4 523.9,87.7 524.0,97.7 524.1,89.7 524.1,97.3 524.2,90.8 524.3,98.5 524.4,90.5 524.4,101.1 524.5,89.8 524.6,99.8 524.6,88.8 524.7,97.4 524.8,88.9 524.9,97.6 524.9,87.9 525.0,96.7 525.1,87.2 525.1,98.4 525.2,87.8 525.3,97.6 525.4,84.9 525.4,97.1 525.5,87.6 525.6,99.8 525.6,88.7 525.7,98.6 525.8,89.0 525.9,97.1 525.9,89.6 526.0,97.3 526.1,85.7 526.1,97.8 526.2,87.4 526.3,99.0 526.4,87.1 526.4,97.9 526.5,88.1 526.6,97.9 526.6,87.7 526.7,97.9 526.8,86.8 526.9,99.0 526.9,90.5 527.0,97.6 527.1,90.1 527.1,99.7 527.2,88.8 527.3,99.6 527.4,88.6 527.4,101.2 527.5,89.1 527.6,101.1 527.6,90.2 527.7,100.8 527.8,91.1 527.9,99.5 527.9,88.2 528.0,102.1 528.1,88.8 528.1,103.0 528.2,88.5 528.3,102.4 528.4,88.8 528.4,103.1 528.5,88.1 528.6,103.2 528.6,92.1 528.7,101.9 528.8,91.4 528.9,102.8 528.9,93.1 529.0,105.8 529.1,91.9 529.1,105.9 529.2,91.5 529.3,103.8 529.4,94.3 529.4,105.5 529.5,92.8 529.6,104.9 529.6,95.2 529.7,104.8 529.8,94.1 529.9,102.4 529.9,91.4 530.0,101.8 530.1,91.6 530.1,103.8 530.2,94.3 530.3,106.4 530.4,91.9 530.4,104.8 530.5,94.1 530.6,104.7 530.6,92.6 530.7,105.5 530.8,93.5 530.9,107.1 530.9,94.5 531.0,104.2 531.1,93.9 531.1,106.3 531.2,94.6 531.3,103.8 531.4,93.4 531.4,104.6 531.5,94.2 531.6,104.3 531.6,91.9 531.7,103.9 531.8,94.3 531.9,104.6 531.9,93.0 532.0,102.3 532.1,93.5 532.1,103.7 532.2,93.4 532.3,101.9 532.4,92.3 532.4,106.4 532.5,94.5 532.6,101.9 532.6,93.6 532.7,101.6 532.8,93.0 532.9,104.3 532.9,92.9 533.0,104.2 533.1,92.4 533.1,104.1 533.2,92.2 533.3,102.1 533.4,91.8 533.4,102.0 533.5,93.7 533.6,100.6 533.6,92.4 533.7,102.0 533.8,91.0 533.9,102.9 533.9,92.0 534.0,103.6 534.1,90.2 534.1,101.6 534.2,91.4 534.3,101.3 534.4,89.4 534.4,98.9 534.5,90.4 534.6,99.8 534.6,90.3 534.7,99.4 534.8,89.8 534.9,99.0 534.9,88.6 535.0,97.1 535.1,89.2 535.1,98.3 535.2,85.6 535.3,98.3 535.4,86.8 535.4,96.0 535.5,86.7 535.6,95.3 535.6,87.9 535.7,97.8 535.8,85.2 535.9,95.5 535.9,87.9 536.0,100.0 536.1,85.4 536.1,98.9 536.2,90.3 536.3,100.2 536.4,87.4 536.4,97.9 536.5,89.1 536.6,101.1 536.6,90.2 536.7,98.6 536.8,91.6 536.9,101.1 536.9,90.8 537.0,100.0 537.1,89.3 537.1,98.8 537.2,90.5 537.3,99.2 537.4,90.8 537.4,100.0 537.5,91.4 537.6,100.2 537.6,91.7 537.7,99.3 537.8,90.1 537.9,102.2 537.9,87.9 538.0,100.3 538.1,90.0 538.1,98.7 538.2,91.6 538.3,100.8 538.4,90.4 538.4,99.6 538.5,91.1 538.6,99.4 538.6,90.6 538.7,102.4 538.8,89.3 538.9,102.6 538.9,90.7 539.0,104.1 539.1,92.2 539.1,101.5 539.2,91.9 539.3,100.7 539.4,90.1 539.4,102.2 539.5,90.1 539.6,101.7 539.6,88.5 539.7,98.7 539.8,87.6 539.9,99.0 539.9,88.6 540.0,96.3 540.1,87.9 540.1,95.5 540.2,87.2 540.3,97.8 540.4,85.1 540.4,94.4 540.5,86.8 540.6,93.9 540.6,85.8 540.7,97.2 540.8,84.4 540.9,100.1 540.9,85.2 541.0,96.8 541.1,87.4 541.1,99.2 541.2,88.1 541.3,97.9 541.4,89.3 541.4,99.7 541.5,88.4 541.6,97.5 541.6,89.8 541.7,97.2 541.8,87.0 541.9,100.5 541.9,87.3 542.0,97.5 542.1,87.6 542.1,98.0 542.2,86.4 542.3,98.9 542.4,87.9 542.4,97.0 542.5,85.8 542.6,97.3"/>
<polyline class="sg" stroke-width="0.55" points="429.5,77.0 430.1,66.7 430.6,107.2 430.8,76.3 431.4,112.4 431.9,69.4 432.5,101.6 433.1,74.9 433.8,104.2 434.3,66.1 434.8,111.6 435.2,83.1 435.7,101.2 435.8,92.6"/>
<polyline class="sg" stroke-linejoin="round" stroke-width="1.30" stroke-opacity="0.60" points="436.0,98.0 436.5,102.8 437.0,107.7 437.5,112.5 438.0,106.2 438.5,97.1 439.0,88.1 439.5,84.6 440.0,89.6 440.5,94.6 441.0,85.5 441.5,79.2 442.0,83.7 442.5,88.2 443.0,92.6 443.5,97.1 444.0,94.6 444.5,90.3 445.0,90.0 445.5,95.6 446.0,101.3 446.5,106.9 447.0,104.6 447.5,96.8 448.0,89.1 448.5,87.5 448.8,89.0"/>
<rect class="ax" x="324.5" y="8.8" width="218.1" height="167.4"/>
<text class="tk" x="324.5" y="187.1" text-anchor="middle">0</text>
<text class="tk" x="368.1" y="187.1" text-anchor="middle">2</text>
<text class="tk" x="411.7" y="187.1" text-anchor="middle">4</text>
<text class="tk" x="455.4" y="187.1" text-anchor="middle">6</text>
<text class="tk" x="499.0" y="187.1" text-anchor="middle">8</text>
<text class="tk" x="542.6" y="187.1" text-anchor="middle">10</text>
<text class="tk" x="321.1" y="178.7" text-anchor="end">-2</text>
<text class="tk" x="321.1" y="154.8" text-anchor="end">-1.5</text>
<text class="tk" x="321.1" y="130.9" text-anchor="end">-1</text>
<text class="tk" x="321.1" y="107.0" text-anchor="end">-0.5</text>
<text class="tk" x="321.1" y="83.0" text-anchor="end">0</text>
<text class="tk" x="321.1" y="59.1" text-anchor="end">0.5</text>
<text class="tk" x="321.1" y="35.2" text-anchor="end">1</text>
<text class="tk" x="321.1" y="11.3" text-anchor="end">1.5</text>
<path class="ax" d="M368.1 176.2v-2.2M368.1 8.8v2.2M411.7 176.2v-2.2M411.7 8.8v2.2M455.4 176.2v-2.2M455.4 8.8v2.2M499.0 176.2v-2.2M499.0 8.8v2.2M324.5 152.3h2.2M542.6 152.3h-2.2M324.5 128.4h2.2M542.6 128.4h-2.2M324.5 104.5h2.2M542.6 104.5h-2.2M324.5 80.5h2.2M542.6 80.5h-2.2M324.5 56.6h2.2M542.6 56.6h-2.2M324.5 32.7h2.2M542.6 32.7h-2.2"/>
<text class="lb" x="433.6" y="200.4" text-anchor="middle">Time [s]</text>
<text class="lb" transform="translate(300.1 92.5) rotate(-90)" text-anchor="middle">Amplitude [mV]</text>
<text class="cp" x="433.6" y="223.2" text-anchor="middle">(<tspan font-weight="bold">b</tspan>)</text>
</g>
<g id="plot-c">
<polyline class="sg" stroke-width="0.32" points="34.5,322.1 34.6,326.8 34.6,321.5 34.7,326.7 34.8,320.9 34.9,327.0 34.9,321.2 35.0,326.4 35.1,321.7 35.1,326.4 35.2,321.4 35.3,325.8 35.4,321.0 35.4,325.4 35.5,320.9 35.6,325.7 35.6,320.5 35.7,326.1 35.8,320.5 35.9,325.5 35.9,321.1 36.0,325.2 36.1,320.2 36.1,324.7 36.2,319.9 36.3,325.9 36.4,319.8 36.4,325.0 36.5,320.1 36.6,324.3 36.6,320.1 36.7,324.6 36.8,319.3 36.9,324.1 36.9,319.0 37.0,325.8 37.1,319.6 37.1,325.5 37.2,319.5 37.3,324.4 37.4,319.0 37.4,324.0 37.5,319.7 37.6,325.5 37.6,319.2 37.7,323.8 37.8,318.9 37.9,323.4 37.9,319.0 38.0,323.5 38.1,318.9 38.1,324.0 38.2,319.0 38.3,323.6 38.4,319.1 38.4,323.5 38.5,317.5 38.6,323.7 38.6,318.8 38.7,323.5 38.8,317.8 38.9,323.2 38.9,317.8 39.0,322.9 39.1,318.5 39.1,322.5 39.2,317.7 39.3,323.1 39.4,316.9 39.4,322.5 39.5,317.8 39.6,322.4 39.6,317.5 39.7,322.2 39.8,316.0 39.9,322.9 39.9,316.9 40.0,322.8 40.1,317.4 40.1,321.7 40.2,316.7 40.3,323.3 40.4,316.9 40.4,322.2 40.5,317.4 40.6,322.1 40.6,315.9 40.7,321.6 40.8,316.7 40.9,321.6 40.9,316.3 41.0,321.1 41.1,316.4 41.1,322.0 41.2,316.4 41.3,321.4 41.4,316.6 41.4,321.4 41.5,316.3 41.6,321.1 41.6,316.7 41.7,321.1 41.8,316.3 41.9,321.8 41.9,315.9 42.0,320.7 42.1,316.8 42.1,321.0 42.2,316.1 42.3,320.6 42.4,315.7 42.4,320.8 42.5,316.4 42.6,320.9 42.6,315.9 42.7,321.3 42.8,315.9 42.9,320.6 42.9,315.7 43.0,320.2 43.1,315.4 43.1,320.8 43.2,315.3 43.3,320.0 43.4,315.6 43.4,320.4 43.5,315.8 43.6,320.8 43.6,315.4 43.7,320.5 43.8,315.1 43.9,320.0 43.9,314.6 44.0,320.3 44.1,315.7 44.1,320.8 44.2,316.2 44.3,320.2 44.4,315.8 44.4,321.3 44.5,316.3 44.6,321.1 44.6,316.7 44.7,322.5 44.8,316.3 44.9,321.4 44.9,316.7 45.0,321.8 45.1,317.7 45.1,322.0 45.2,318.1 45.3,322.9 45.4,318.1 45.4,323.2 45.5,318.4 45.6,324.2 45.6,318.8 45.7,324.2 45.8,318.4 45.9,325.1 45.9,319.0 46.0,324.8 46.1,319.1 46.1,324.6 46.2,319.8 46.3,324.7 46.4,318.9 46.4,324.7 46.5,320.8 46.6,324.9 46.6,320.7 46.7,326.0 46.8,321.1 46.9,325.4 46.9,321.2 47.0,326.1 47.1,321.8 47.1,326.1 47.2,320.9 47.3,326.0 47.4,321.4 47.4,326.2 47.5,321.6 47.6,327.4 47.6,321.8 47.7,327.2 47.8,322.8 47.9,327.5 47.9,323.2 48.0,329.2 48.1,322.7 48.1,327.8 48.2,323.1 48.3,327.8 48.4,322.9 48.4,328.9 48.5,323.2 48.6,328.4 48.6,322.1 48.7,327.3 48.8,322.2 48.9,327.3 48.9,322.5 49.0,326.3 49.1,320.9 49.1,326.2 49.2,320.6 49.3,325.5 49.4,319.8 49.4,325.4 49.5,319.8 49.6,324.7 49.6,319.3 49.7,324.0 49.8,317.6 49.9,323.2 49.9,318.2 50.0,322.9 50.1,317.5 50.1,322.4 50.2,316.6 50.3,320.9 50.4,316.7 50.4,320.7 50.5,315.8 50.6,321.0 50.6,316.4 50.7,321.8 50.8,317.1 50.9,321.4 50.9,317.0 51.0,321.7 51.1,317.3 51.1,323.2 51.2,317.7 51.3,322.5 51.4,317.4 51.4,322.7 51.5,317.5 51.6,323.0 51.6,318.7 51.7,323.3 51.8,319.3 51.9,323.7 51.9,318.4 52.0,324.4 52.1,319.8 52.1,324.5 52.2,320.2 52.3,324.3 52.4,319.6 52.4,324.3 52.5,318.8 52.6,324.7 52.6,318.3 52.7,323.4 52.8,318.6 52.9,323.4 52.9,318.5 53.0,323.4 53.1,317.8 53.1,322.7 53.2,317.5 53.3,322.5 53.4,316.3 53.4,322.1 53.5,316.6 53.6,322.3 53.6,316.3 53.7,321.7 53.8,316.1 53.9,321.0 53.9,316.3 54.0,321.6 54.1,316.3 54.1,320.9 54.2,316.9 54.3,321.4 54.4,316.9 54.4,322.0 54.5,317.4 54.6,322.7 54.6,317.3 54.7,322.1 54.8,317.1 54.9,322.3 54.9,317.1 55.0,322.4 55.1,317.5 55.1,323.6 55.2,316.6 55.3,322.5 55.4,317.9 55.4,322.6 55.5,317.8 55.6,322.9 55.6,318.8 55.7,323.9 55.8,318.7 55.9,323.6 55.9,319.1 56.0,325.0 56.1,319.2 56.1,325.4 56.2,320.7 56.3,325.0 56.4,320.4 56.4,327.1 56.5,321.8 56.6,326.6 56.6,322.1 56.7,326.3 56.8,322.1 56.9,327.3 56.9,323.2 57.0,327.7 57.1,323.3 57.1,328.2 57.2,323.0 57.3,328.2 57.4,324.3 57.4,329.1 57.5,323.4 57.6,328.5 57.6,323.0 57.7,327.3 57.8,322.9 57.9,327.6 57.9,321.8 58.0,326.0 58.1,320.8 58.1,325.3 58.2,320.7 58.3,326.4 58.4,319.6 58.4,324.1 58.5,318.9 58.6,323.8 58.6,318.6 58.7,323.0 58.8,317.9 58.9,322.3 58.9,317.4 59.0,321.8 59.1,316.8 59.1,321.4 59.2,315.4 59.3,319.8 59.4,315.4 59.4,320.3 59.5,315.6 59.6,320.4 59.6,315.9 59.7,320.9 59.8,315.4 59.9,321.6 59.9,315.0 60.0,321.3 60.1,316.6 60.1,322.3 60.2,316.5 60.3,322.4 60.4,317.3 60.4,322.5 60.5,317.7 60.6,322.7 60.6,318.4 60.7,323.5 60.8,318.8 60.9,323.5 60.9,319.0 61.0,323.9 61.1,319.6 61.1,324.7 61.2,319.8 61.3,324.4 61.4,319.5 61.4,325.5 61.5,320.9 61.6,324.9 61.6,319.8 61.7,325.4 61.8,321.0 61.9,326.3 61.9,320.5 62.0,327.6 62.1,321.5 62.1,327.9 62.2,321.9 62.3,326.8 62.4,322.4 62.4,327.1 62.5,323.2 62.6,328.4 62.6,323.4 62.7,327.2 62.8,322.5 62.9,326.7 62.9,321.7 63.0,327.5 63.1,321.2 63.1,327.1 63.2,321.9 63.3,327.1 63.4,320.9 63.4,326.8 63.5,321.4 63.6,327.0 63.6,320.6 63.7,325.6 63.8,320.8 63.9,325.2 63.9,320.5 64.0,324.9 64.1,320.8 64.1,325.4 64.2,319.1 64.3,325.6 64.4,319.7 64.4,324.8 64.5,319.7 64.6,324.1 64.6,318.1 64.7,324.4 64.8,318.4 64.9,324.0 64.9,318.5 65.0,323.3 65.1,317.9 65.1,323.2 65.2,318.1 65.3,322.4 65.4,318.0 65.4,323.1 65.5,318.5 65.6,323.0 65.6,318.0 65.7,323.8 65.8,318.2 65.9,323.0 65.9,318.6 66.0,324.1 66.1,317.8 66.1,323.4 66.2,318.6 66.3,324.1 66.4,318.7 66.4,323.9 66.5,318.9 66.6,324.5 66.6,318.5 66.7,324.0 66.8,320.0 66.9,324.7 66.9,320.0 67.0,324.6 67.1,319.9 67.1,324.3 67.2,319.2 67.3,325.4 67.4,320.5 67.4,325.5 67.5,320.8 67.6,325.2 67.6,320.8 67.7,325.8 67.8,321.1 67.9,326.1 67.9,320.4 68.0,325.2 68.1,320.2 68.1,325.5 68.2,321.3 68.3,326.0 68.4,321.1 68.4,325.9 68.5,320.5 68.6,325.6 68.6,320.1 68.7,325.9 68.8,320.0 68.9,325.3 68.9,320.4 69.0,325.2 69.1,320.2 69.1,324.4 69.2,319.4 69.3,324.1 69.4,319.4 69.4,325.0 69.5,320.1 69.6,323.7 69.6,318.9 69.7,324.9 69.8,318.7 69.9,323.5 69.9,318.3 70.0,324.1 70.1,318.6 70.1,323.1 70.2,318.7 70.3,323.7 70.4,318.3 70.4,322.4 70.5,316.6 70.6,323.0 70.6,318.1 70.7,322.7 70.8,316.3 70.9,322.6 70.9,317.5 71.0,321.6 71.1,317.5 71.1,322.2 71.2,317.5 71.3,322.0 71.4,317.3 71.4,321.6 71.5,316.4 71.6,321.8 71.6,317.3 71.7,322.3 71.8,317.3 71.9,322.9 71.9,317.5 72.0,322.3 72.1,317.5 72.1,321.5 72.2,317.1 72.3,322.7 72.4,317.3 72.4,322.4 72.5,317.1 72.6,321.8 72.6,317.4 72.7,323.0 72.8,317.7 72.9,322.5 72.9,317.4 73.0,322.9 73.1,317.9 73.1,323.3 73.2,317.9 73.3,322.3 73.4,318.2 73.4,322.5 73.5,317.6 73.6,323.1 73.6,318.2 73.7,323.2 73.8,317.8 73.9,323.4 73.9,318.5 74.0,323.1 74.1,318.2 74.1,323.7 74.2,317.4 74.3,323.9 74.4,318.3 74.4,323.1 74.5,318.2 74.6,323.7 74.6,318.3 74.7,322.9 74.8,317.8 74.9,323.1 74.9,317.8 75.0,323.0 75.1,318.7 75.1,323.1 75.2,318.6 75.3,322.2 75.4,318.4 75.4,322.9 75.5,317.5 75.6,322.4 75.6,317.6 75.7,323.4 75.8,317.1 75.9,323.7 75.9,317.2 76.0,322.0 76.1,316.7 76.1,321.6 76.2,316.9 76.3,321.6 76.4,316.9 76.4,321.5 76.5,316.6 76.6,321.5 76.6,316.5 76.7,322.4 76.8,316.9 76.9,320.8 76.9,316.9 77.0,321.4 77.1,316.6 77.1,320.9 77.2,315.8 77.3,321.9 77.4,317.2 77.4,323.1 77.5,317.8 77.6,323.2 77.6,318.4 77.7,323.5 77.8,319.2 77.9,323.9 77.9,320.2 78.0,325.3 78.1,320.0 78.1,325.7 78.2,321.5 78.3,326.8 78.4,322.3 78.4,327.0 78.5,322.4 78.6,328.4 78.6,323.5 78.7,330.1 78.8,324.4 78.9,329.5 78.9,325.1 79.0,330.5 79.1,325.7 79.1,330.8 79.2,326.6 79.3,330.8 79.4,326.6 79.4,331.6 79.5,327.7 79.6,332.1 79.6,327.1 79.7,331.0 79.8,326.4 79.9,330.9 79.9,325.6 80.0,329.8 80.1,324.4 80.1,328.7 80.2,323.4 80.3,327.8 80.4,322.4 80.4,326.9 80.5,320.8 80.6,327.2 80.6,321.5 80.7,325.8 80.8,320.4 80.9,324.4 80.9,319.7 81.0,323.9 81.1,318.9 81.1,322.7 81.2,318.2 81.3,322.7 81.4,315.7 81.4,321.2 81.5,316.1 81.6,321.4 81.6,314.6 81.7,319.0 81.8,314.1 81.9,319.0 81.9,314.6 82.0,318.9 82.1,314.6 82.1,318.9 82.2,314.7 82.3,320.5 82.4,314.5 82.4,320.1 82.5,315.3 82.6,320.2 82.6,315.7 82.7,321.2 82.8,315.0 82.9,321.0 82.9,315.5 83.0,321.0 83.1,316.7 83.1,322.3 83.2,317.0 83.3,322.5 83.4,316.9 83.4,323.2 83.5,318.7 83.6,322.6 83.6,318.2 83.7,323.4 83.8,318.5 83.9,323.5 83.9,318.9 84.0,324.6 84.1,319.8 84.1,324.6 84.2,319.7 84.3,324.1 84.4,319.2 84.4,325.0 84.5,319.4 84.6,323.9 84.6,318.8 84.7,324.0 84.8,318.8 84.9,324.3 84.9,319.2 85.0,323.1 85.1,318.3 85.1,323.4 85.2,318.7 85.3,322.4 85.4,317.9 85.4,323.4 85.5,317.6 85.6,322.5 85.6,318.2 85.7,322.9 85.8,317.4 85.9,322.0 85.9,317.4 86.0,322.8 86.1,316.7 86.1,322.5 86.2,316.8 86.3,321.8 86.4,316.8 86.4,321.5 86.5,316.7 86.6,320.4 86.6,315.9 86.7,321.2 86.8,316.2 86.9,320.2 86.9,315.6 87.0,319.8 87.1,315.0 87.1,320.4 87.2,315.1 87.3,320.5 87.4,315.1 87.4,321.0 87.5,315.7 87.6,320.2 87.6,315.1 87.7,320.3 87.8,315.6 87.9,320.7 87.9,315.4 88.0,321.0 88.1,315.5 88.1,322.4 88.2,315.6 88.3,321.7 88.4,315.5 88.4,321.1 88.5,316.8 88.6,321.9 88.6,317.3 88.7,321.2 88.8,317.4 88.9,322.2 88.9,316.7 89.0,323.1 89.1,317.5 89.1,322.3 89.2,317.6 89.3,322.4 89.4,317.5 89.4,322.8 89.5,318.2 89.6,322.5 89.6,317.4 89.7,323.0 89.8,318.4 89.9,323.8 89.9,318.9 90.0,324.7 90.1,319.3 90.1,323.3 90.2,319.6 90.3,324.0 90.4,319.3 90.4,325.3 90.5,320.1 90.6,324.8 90.6,319.2 90.7,324.8 90.8,320.2 90.9,324.5 90.9,320.4 91.0,325.6 91.1,319.3 91.1,324.8 91.2,320.8 91.3,325.7 91.4,320.5 91.4,325.8 91.5,320.9 91.6,326.2 91.6,321.4 91.7,326.3 91.8,320.5 91.9,326.7 91.9,321.3 92.0,326.4 92.1,322.4 92.1,326.8 92.2,322.3 92.3,327.1 92.4,322.1 92.4,326.8 92.5,321.4 92.6,326.9 92.6,321.9 92.7,327.5 92.8,322.1 92.9,326.1 92.9,320.7 93.0,326.4 93.1,320.7 93.1,325.2 93.2,320.5 93.3,324.7 93.4,320.4 93.4,325.3 93.5,319.8 93.6,324.9 93.6,319.1 93.7,324.5 93.8,319.5 93.9,324.2 93.9,318.6 94.0,323.0 94.1,318.2 94.1,324.2 94.2,318.5 94.3,323.3 94.4,318.3 94.4,322.5 94.5,316.1 94.6,323.5 94.6,317.7 94.7,323.0 94.8,318.0 94.9,323.4 94.9,317.4 95.0,323.4 95.1,316.1 95.1,328.0 95.2,314.8 95.3,325.6 95.4,313.8 95.4,328.9 95.5,314.0 95.6,327.8 95.6,312.5 95.7,330.7 95.8,311.1 95.9,327.5 95.9,311.3 96.0,327.6 96.1,310.3 96.1,329.3 96.2,312.4 96.3,326.9 96.4,314.0 96.4,326.8 96.5,310.2 96.6,333.9 96.6,312.5 96.7,329.6 96.8,312.0 96.9,326.6 96.9,311.9 97.0,329.6 97.1,312.1 97.1,327.1 97.2,314.5 97.3,328.2 97.4,312.4 97.4,330.2 97.5,311.3 97.6,326.5 97.6,313.7 97.7,334.9 97.8,311.9 97.9,333.7 97.9,310.3 98.0,337.0 98.1,310.5 98.1,331.5 98.2,310.2 98.3,337.4 98.4,312.9 98.4,332.1 98.5,310.6 98.6,328.7 98.6,309.2 98.7,328.1 98.8,310.2 98.9,329.7 98.9,310.6 99.0,327.6 99.1,313.5 99.1,329.7 99.2,312.8 99.3,331.8 99.4,308.9 99.4,327.4 99.5,309.7 99.6,329.7 99.6,313.1 99.7,328.7 99.8,311.8 99.9,330.2 99.9,311.6 100.0,339.4 100.1,308.3 100.1,333.9 100.2,309.4 100.3,329.7 100.4,312.3 100.4,328.2 100.5,312.1 100.6,328.4 100.6,309.4 100.7,328.5 100.8,311.3 100.9,330.3 100.9,310.5 101.0,329.2 101.1,310.8 101.1,334.6 101.2,313.5 101.3,328.9 101.4,311.2 101.4,327.1 101.5,307.1 101.6,328.7 101.6,306.2 101.7,328.8 101.8,312.2 101.9,327.4 101.9,313.6 102.0,332.3 102.1,311.7 102.1,329.7 102.2,313.8 102.3,329.1 102.4,305.7 102.4,329.0 102.5,308.6 102.6,334.4 102.6,312.8 102.7,330.3 102.8,308.4 102.9,328.6 102.9,309.6 103.0,333.2 103.1,308.2 103.1,330.5 103.2,309.9 103.3,327.3 103.4,307.2 103.4,328.9 103.5,310.0 103.6,326.9 103.6,302.3 103.7,332.4 103.8,311.7 103.9,328.8 103.9,309.6 104.0,326.9 104.1,310.7 104.1,327.6 104.2,310.1 104.3,335.8 104.4,310.3 104.4,330.5 104.5,307.8 104.6,326.9 104.6,312.6 104.7,328.1 104.8,313.2 104.9,329.3 104.9,309.9 105.0,329.4 105.1,307.7 105.1,332.0 105.2,309.7 105.3,329.5 105.4,314.0 105.4,327.4 105.5,312.1 105.6,332.6 105.6,311.1 105.7,331.0 105.8,309.6 105.9,327.0 105.9,312.8 106.0,330.9 106.1,310.2 106.1,340.0 106.2,305.2 106.3,330.0 106.4,310.2 106.4,331.9 106.5,308.5 106.6,331.6 106.6,309.2 106.7,327.9 106.8,309.9 106.9,332.2 106.9,309.3 107.0,328.5 107.1,312.2 107.1,327.9 107.2,311.7 107.3,332.4 107.4,307.8 107.4,330.4 107.5,313.0 107.6,328.1 107.6,308.4 107.7,337.9 107.8,310.0 107.9,327.5 107.9,312.9 108.0,335.6 108.1,310.6 108.1,329.5 108.2,303.8 108.3,329.6 108.4,311.4 108.4,333.0 108.5,309.7 108.6,336.4 108.6,302.8 108.7,329.8 108.8,311.3 108.9,335.8 108.9,309.1 109.0,338.4 109.1,310.8 109.1,331.0 109.2,310.9 109.3,329.7 109.4,311.6 109.4,328.9 109.5,307.1 109.6,329.7 109.6,308.7 109.7,328.9 109.8,300.4 109.9,332.2 109.9,309.7 110.0,337.8 110.1,309.9 110.1,332.6 110.2,308.2 110.3,331.7 110.4,299.6 110.4,330.5 110.5,309.5 110.6,333.1 110.6,299.1 110.7,336.0 110.8,298.9 110.9,328.9 110.9,312.1 111.0,331.3 111.1,304.7 111.1,328.5 111.2,313.0 111.3,330.4 111.4,307.9 111.4,328.4 111.5,299.6 111.6,327.3 111.6,308.4 111.7,327.6 111.8,310.7 111.9,326.8 111.9,309.3 112.0,330.4 112.1,312.2 112.1,328.2 112.2,308.5 112.3,333.7 112.4,308.6 112.4,330.1 112.5,306.6 112.6,333.7 112.6,301.8 112.7,334.8 112.8,310.5 112.9,328.5 112.9,308.3 113.0,332.9 113.1,310.8 113.1,328.7 113.2,309.3 113.3,328.8 113.4,311.9 113.4,332.4 113.5,308.7 113.6,332.8 113.6,307.1 113.7,332.5 113.8,310.6 113.9,330.8 113.9,306.0 114.0,339.6 114.1,311.4 114.1,331.1 114.2,309.1 114.3,328.8 114.4,302.7 114.4,331.1 114.5,306.6 114.6,332.8 114.6,310.6 114.7,333.1 114.8,307.3 114.9,330.2 114.9,311.8 115.0,340.4 115.1,310.9 115.1,329.8 115.2,310.0 115.3,328.1 115.4,305.0 115.4,328.9 115.5,312.2 115.6,328.7 115.6,310.0 115.7,327.3 115.8,305.6 115.9,330.3 115.9,312.6 116.0,329.0 116.1,311.8 116.1,330.2 116.2,309.6 116.3,338.3 116.4,307.2 116.4,330.1 116.5,309.0 116.6,329.8 116.6,312.8 116.7,331.0 116.8,309.8 116.9,339.5 116.9,311.7 117.0,336.1 117.1,312.5 117.1,333.3 117.2,308.9 117.3,336.2 117.4,310.6 117.4,331.8 117.5,310.5 117.6,331.5 117.6,308.7 117.7,332.5 117.8,308.1 117.9,330.6 117.9,310.3 118.0,337.6 118.1,307.5 118.1,331.3 118.2,306.0 118.3,330.7 118.4,306.1 118.4,330.1 118.5,308.6 118.6,333.5 118.6,306.0 118.7,345.3 118.8,302.2 118.9,333.3 118.9,301.7 119.0,331.9 119.1,304.3 119.1,335.0 119.2,307.2 119.3,334.7 119.4,308.2 119.4,337.1 119.5,303.1 119.6,346.6 119.6,305.2 119.7,337.2 119.8,309.2 119.9,336.6 119.9,302.3 120.0,337.3 120.1,307.1 120.1,335.1 120.2,307.2 120.3,342.0 120.4,302.9 120.4,333.4 120.5,303.7 120.6,332.1 120.6,296.5 120.7,338.3 120.8,303.4 120.9,344.1 120.9,298.3 121.0,335.1 121.1,308.5 121.1,335.5 121.2,306.8 121.3,336.4 121.4,304.2 121.4,333.0 121.5,303.3 121.6,335.1 121.6,304.4 121.7,333.3 121.8,302.6 121.9,345.5 121.9,298.0 122.0,343.1 122.1,304.7 122.1,336.4 122.2,305.6 122.3,349.1 122.4,309.4 122.4,331.3 122.5,301.7 122.6,336.2 122.6,307.4 122.7,335.3 122.8,306.9 122.9,333.1 122.9,296.9 123.0,338.3 123.1,307.4 123.1,339.6 123.2,304.7 123.3,334.2 123.4,305.2 123.4,338.1 123.5,293.0 123.6,340.2 123.6,302.1 123.7,340.4 123.8,304.3 123.9,335.9 123.9,306.6 124.0,347.6 124.1,303.8 124.1,336.4 124.2,304.9 124.3,345.6 124.4,305.3 124.4,347.6 124.5,305.9 124.6,341.2 124.6,301.2 124.7,351.6 124.8,302.6 124.9,338.1 124.9,302.6 125.0,358.0 125.1,295.6 125.1,356.8 125.2,302.0 125.3,334.0 125.4,306.2 125.4,333.0 125.5,303.5 125.6,339.4 125.6,306.9 125.7,341.3 125.8,309.2 125.9,333.3 125.9,296.4 126.0,337.8 126.1,303.3 126.1,335.4 126.2,304.4 126.3,338.7 126.4,306.5 126.4,336.4 126.5,303.1 126.6,331.3 126.6,303.6 126.7,339.4 126.8,302.8 126.9,335.4 126.9,305.9 127.0,334.0 127.1,304.4 127.1,340.0 127.2,300.7 127.3,335.3 127.4,300.5 127.4,338.3 127.5,298.4 127.6,332.6 127.6,305.6 127.7,333.3 127.8,304.0 127.9,333.2 127.9,300.9 128.0,334.7 128.1,294.6 128.1,350.3 128.2,303.4 128.3,333.1 128.4,302.9 128.4,345.9 128.5,299.3 128.6,336.2 128.6,303.8 128.7,340.7 128.8,300.1 128.9,336.4 128.9,301.7 129.0,335.4 129.1,306.2 129.1,352.9 129.2,301.7 129.3,349.6 129.4,305.2 129.4,337.1 129.5,285.8 129.6,334.2 129.6,304.0 129.7,352.5 129.8,302.6 129.9,343.1 129.9,299.2 130.0,285.0 130.1,304.2 130.1,339.5 130.2,299.8 130.3,342.0 130.4,301.9 130.4,355.4 130.5,304.3 130.6,339.2 130.6,301.0 130.7,338.8 130.8,304.4 130.9,346.0 130.9,303.1 131.0,336.5 131.1,293.9 131.1,338.2 131.2,298.3 131.3,334.3 131.4,303.9 131.4,333.6 131.5,298.5 131.6,333.3 131.6,293.2 131.7,338.4 131.8,305.7 131.9,341.6 131.9,283.8 132.0,338.9 132.1,297.0 132.1,335.6 132.2,305.3 132.3,336.0 132.4,297.7 132.4,340.7 132.5,296.9 132.6,335.1 132.6,297.0 132.7,342.0 132.8,302.7 132.9,338.0 132.9,299.4 133.0,336.2 133.1,292.0 133.1,339.0 133.2,305.7 133.3,338.2 133.4,303.3 133.4,330.9 133.5,305.3 133.6,331.2 133.6,299.9 133.7,348.4 133.8,302.2 133.9,338.9 133.9,295.5 134.0,360.0 134.1,299.1 134.1,335.0 134.2,293.3 134.3,342.5 134.4,297.2 134.4,354.6 134.5,283.6 134.6,340.4 134.6,296.1 134.7,334.7 134.8,294.3 134.9,345.7 134.9,283.8 135.0,340.1 135.1,287.1 135.1,334.7 135.2,285.0 135.3,336.0 135.4,300.1 135.4,341.1 135.5,302.4 135.6,338.6 135.6,295.8 135.7,334.5 135.8,301.2 135.9,333.8 135.9,301.6 136.0,335.9 136.1,304.1 136.1,349.8 136.2,304.5 136.3,334.0 136.4,302.3 136.4,351.8 136.5,306.5 136.6,336.6 136.6,303.3 136.7,351.5 136.8,302.8 136.9,356.4 136.9,302.1 137.0,351.7 137.1,308.9 137.1,332.0 137.2,296.8 137.3,333.2 137.4,306.2 137.4,330.1 137.5,305.6 137.6,333.7 137.6,308.9 137.7,341.9 137.8,304.1 137.9,341.1 137.9,308.6 138.0,332.9 138.1,307.8 138.1,333.6 138.2,305.3 138.3,338.8 138.4,285.0 138.4,335.2 138.5,284.8 138.6,348.1 138.6,305.6 138.7,355.4 138.8,304.7 138.9,337.8 138.9,304.4 139.0,336.7 139.1,297.9 139.1,337.4 139.2,287.3 139.3,341.4 139.4,307.3 139.4,336.8 139.5,305.7 139.6,334.9 139.6,304.4 139.7,340.3 139.8,307.2 139.9,352.9 139.9,305.5 140.0,335.3 140.1,297.4 140.1,330.9 140.2,309.0 140.3,353.2 140.4,309.6 140.4,333.4 140.5,304.6 140.6,335.4 140.6,306.9 140.7,337.8 140.8,306.2 140.9,335.9 140.9,302.3 141.0,333.0 141.1,304.1 141.1,337.5 141.2,282.0 141.3,334.7 141.4,295.0 141.4,351.0 141.5,296.1 141.6,344.0 141.6,281.9 141.7,335.2 141.8,302.1 141.9,345.1 141.9,299.8 142.0,339.1 142.1,289.0 142.1,340.1 142.2,288.1 142.3,340.8 142.4,289.6 142.4,342.7 142.5,300.7 142.6,341.2 142.6,303.1 142.7,335.5 142.8,300.5 142.9,343.2 142.9,306.5 143.0,342.8 143.1,299.4 143.1,361.1 143.2,297.6 143.3,361.4 143.4,292.8 143.4,346.2 143.5,302.4 143.6,343.6 143.6,290.2 143.7,358.1 143.8,302.3 143.9,341.1 143.9,277.3 144.0,339.4 144.1,293.3 144.1,340.6 144.2,296.2 144.3,344.2 144.4,302.7 144.4,340.0 144.5,305.7 144.6,334.0 144.6,303.1 144.7,355.4 144.8,306.4 144.9,351.4 144.9,301.7 145.0,337.1 145.1,293.5 145.1,346.4 145.2,305.0 145.3,333.1 145.4,301.1 145.4,340.8 145.5,302.9 145.6,339.1 145.6,284.0 145.7,338.5 145.8,287.2 145.9,362.4 145.9,296.9 146.0,342.2 146.1,295.6 146.1,346.6 146.2,301.2 146.3,343.9 146.4,300.7 146.4,336.0 146.5,294.5 146.6,337.0 146.6,287.5 146.7,335.7 146.8,294.5 146.9,340.6 146.9,284.4 147.0,272.0 147.1,270.5 147.1,333.6 147.2,295.9 147.3,333.1 147.4,281.1 147.4,338.9 147.5,301.4 147.6,367.5 147.6,282.1 147.7,340.4 147.8,298.2 147.9,335.7 147.9,294.1 148.0,336.6 148.1,299.5 148.1,336.7 148.2,294.9 148.3,350.7 148.4,287.1 148.4,332.5 148.5,284.5 148.6,339.1 148.6,296.0 148.7,335.9 148.8,298.4 148.9,364.1 148.9,298.9 149.0,338.3 149.1,299.8 149.1,333.7 149.2,300.8 149.3,333.3 149.4,280.3 149.4,338.0 149.5,297.4 149.6,254.5 149.6,280.7 149.7,337.2 149.8,302.7 149.9,334.2 149.9,378.0 150.0,339.7 150.1,295.4 150.1,341.9 150.2,265.8 150.3,335.8 150.4,283.2 150.4,361.6 150.5,284.3 150.6,364.4 150.6,299.6 150.7,341.7 150.8,301.2 150.9,334.5 150.9,294.5 151.0,339.6 151.1,295.5 151.1,339.5 151.2,300.0 151.3,341.5 151.4,283.4 151.4,338.2 151.5,299.3 151.6,337.5 151.6,300.9 151.7,333.0 151.8,301.7 151.9,361.4 151.9,300.8 152.0,340.5 152.1,302.2 152.1,334.6 152.2,287.1 152.3,339.4 152.4,274.8 152.4,345.7 152.5,303.1 152.6,339.8 152.6,296.8 152.7,340.8 152.8,302.1 152.9,333.0 152.9,302.2 153.0,331.7 153.1,290.3 153.1,331.8 153.2,307.1 153.3,346.1 153.4,305.5 153.4,332.3 153.5,288.4 153.6,330.9 153.6,282.2 153.7,334.0 153.8,299.3 153.9,351.7 153.9,302.3 154.0,336.2 154.1,306.4 154.1,336.7 154.2,306.4 154.3,339.0 154.4,306.1 154.4,348.7 154.5,306.1 154.6,331.9 154.6,306.4 154.7,334.1 154.8,304.6 154.9,336.9 154.9,304.8 155.0,346.2 155.1,281.7 155.1,333.0 155.2,294.2 155.3,336.8 155.4,308.1 155.4,334.6 155.5,297.5 155.6,332.4 155.6,308.1 155.7,334.7 155.8,309.1 155.9,350.4 155.9,306.6 156.0,338.1 156.1,304.4 156.1,339.8 156.2,288.1 156.3,338.7 156.4,294.1 156.4,336.0 156.5,307.1 156.6,340.4 156.6,306.4 156.7,340.6 156.8,281.0 156.9,336.8 156.9,307.6 157.0,361.6 157.1,293.0 157.1,335.9 157.2,297.3 157.3,342.3 157.4,303.2 157.4,336.5 157.5,304.8 157.6,341.2 157.6,306.4 157.7,338.4 157.8,308.6 157.9,349.3 157.9,310.4 158.0,348.9 158.1,307.6 158.1,334.6 158.2,310.2 158.3,333.5 158.4,307.3 158.4,334.2 158.5,309.4 158.6,330.8 158.6,308.1 158.7,333.6 158.8,306.8 158.9,349.6 158.9,303.5 159.0,333.5 159.1,309.6 159.1,334.1 159.2,293.0 159.3,334.7 159.4,309.9 159.4,342.0 159.5,311.4 159.6,331.0 159.6,309.8 159.7,334.4 159.8,305.3 159.9,331.2 159.9,311.3 160.0,331.1 160.1,304.1 160.1,332.3 160.2,310.7 160.3,337.4 160.4,305.7 160.4,353.7 160.5,305.9 160.6,334.5 160.6,311.3 160.7,340.5 160.8,300.3 160.9,331.3 160.9,298.8 161.0,342.0 161.1,311.8 161.1,332.3 161.2,293.7 161.3,345.4 161.4,311.9 161.4,348.3 161.5,309.7 161.6,334.4 161.6,309.6 161.7,333.4 161.8,295.4 161.9,332.8 161.9,311.6 162.0,334.6 162.1,310.4 162.1,332.2 162.2,305.8 162.3,332.0 162.4,309.1 162.4,332.2 162.5,294.7"/>
<polyline class="sg" stroke-width="0.32" points="181.5,317.6 181.6,333.7 181.6,319.8 181.7,331.0 181.8,321.8 181.9,329.6 181.9,324.5 182.0,331.6 182.1,326.1 182.1,331.6 182.2,329.0 182.3,331.9 182.4,329.8 182.4,329.7 182.5,327.4 182.6,327.5 182.6,325.3 182.7,325.5 182.8,323.2 182.9,323.4 182.9,321.2 183.0,321.8 183.1,319.8 183.1,319.9 183.2,317.9 183.3,318.0 183.4,316.1 183.4,316.5 183.5,314.5 183.6,314.9 183.6,313.3 183.7,313.9 183.8,312.1 183.9,312.7 183.9,311.2 184.0,312.4 184.1,310.5 184.1,311.8 184.2,310.0 184.3,311.0 184.4,309.5 184.4,310.6 184.5,309.4 184.6,310.2 184.6,308.9 184.7,309.9 184.8,308.8 184.9,309.9 184.9,308.8 185.0,310.0 185.1,308.6 185.1,309.5 185.2,308.4 185.3,309.5 185.4,308.1 185.4,309.1 185.5,308.0 185.6,309.0 185.6,308.0 185.7,309.5 185.8,308.8 185.9,310.8 185.9,310.5 186.0,312.7 186.1,312.4 186.1,314.9 186.2,314.8 186.3,317.4 186.4,317.5 186.4,320.1 186.5,320.5 186.6,323.1 186.6,323.4 186.7,326.1 186.8,326.4 186.9,329.1 186.9,329.4 187.0,331.9 187.1,332.2 187.1,334.7 187.2,335.0 187.3,337.6 187.4,337.6 187.4,339.9 187.5,339.9 187.6,342.2 187.6,341.7 187.7,343.9 187.8,343.4 187.9,345.0 187.9,344.0 188.0,345.4 188.1,344.4 188.1,345.3 188.2,343.9 188.3,345.0 188.4,343.1 188.4,343.6 188.5,342.0 188.6,342.7 188.6,340.5 188.7,340.9 188.8,338.8 188.9,338.9 188.9,336.3 189.0,336.8 189.1,334.5 189.1,334.4 189.2,332.1 189.3,332.2 189.4,329.4 189.4,329.1 189.5,326.7 189.6,326.4 189.6,324.1 189.7,323.9 189.8,320.9 189.9,320.9 189.9,318.6 190.0,318.2 190.1,315.7 190.1,315.7 190.2,312.9 190.3,312.8 190.4,310.5 190.4,310.2 190.5,308.0 190.6,308.0 190.6,306.0 190.7,306.0 190.8,304.1 190.9,304.4 190.9,302.6 191.0,303.2 191.1,301.5 191.1,302.3 191.2,300.7 191.3,301.6 191.4,300.6 191.4,301.9 191.5,301.0 191.6,302.3 191.6,301.8 191.7,303.4 191.8,302.7 191.9,304.9 191.9,303.9 192.0,306.2 192.1,305.7 192.1,307.9 192.2,307.7 192.3,309.9 192.4,310.0 192.4,312.1 192.5,312.0 192.6,314.5 192.6,314.8 192.7,317.1 192.8,317.1 192.9,319.2 192.9,319.1 193.0,321.4 193.1,320.7 193.1,323.2 193.2,322.6 193.3,324.6 193.4,324.3 193.4,326.6 193.5,326.0 193.6,328.0 193.6,327.7 193.7,329.8 193.8,329.5 193.9,331.7 193.9,330.9 194.0,332.8 194.1,332.5 194.1,334.0 194.2,333.3 194.3,335.0 194.4,334.2 194.4,335.7 194.5,334.5 194.6,335.9 194.6,334.9 194.7,335.9 194.8,334.7 194.9,335.8 194.9,334.2 195.0,335.0 195.1,333.4 195.1,334.2 195.2,332.4 195.3,332.9 195.4,331.5 195.4,331.9 195.5,330.2 195.6,330.9 195.6,329.3 195.7,329.9 195.8,328.1 195.9,329.3 195.9,327.9 196.0,328.7 196.1,327.1 196.1,328.0 196.2,326.2 196.3,327.4 196.4,325.9 196.4,326.7 196.5,325.3 196.6,326.1 196.6,324.7 196.7,325.3 196.8,323.9 196.9,324.8 196.9,323.1 197.0,324.2 197.1,322.7 197.1,323.2 197.2,321.5 197.3,322.1 197.4,320.5 197.4,320.8 197.5,319.0 197.6,319.6 197.6,317.9 197.7,319.2 197.8,317.2 197.9,318.1 197.9,316.5 198.0,317.3 198.1,316.0 198.1,316.8 198.2,314.9 198.3,316.3 198.4,314.7 198.4,315.7 198.5,313.9 198.6,315.3 198.6,313.9 198.7,314.8 198.8,313.5 198.9,314.4 198.9,313.3 199.0,314.0 199.1,312.7 199.1,313.6 199.2,312.1 199.3,313.0 199.4,311.8 199.4,312.7 199.5,311.4 199.6,312.3 199.6,311.1 199.7,312.2 199.8,311.0 199.9,312.6 199.9,311.8 200.0,313.5 200.1,312.7 200.1,314.4 200.2,314.0 200.3,315.8 200.4,315.3 200.4,317.1 200.5,316.6 200.6,318.6 200.6,317.8 200.7,319.9 200.8,319.3 200.9,321.5 200.9,320.6 201.0,322.6 201.1,321.8 201.1,323.7 201.2,323.0 201.3,324.8 201.4,323.9 201.4,325.5 201.5,324.6 201.6,326.5 201.6,325.2 201.7,326.4 201.8,325.5 201.9,326.9 201.9,325.5 202.0,326.5 202.1,325.1 202.1,326.4 202.2,325.2 202.3,326.1 202.4,324.7 202.4,325.7 202.5,324.3 202.6,324.9 202.6,323.6 202.7,324.4 202.8,323.0 202.9,323.8 202.9,322.0 203.0,323.0 203.1,321.3 203.1,322.2 203.2,320.2 203.3,321.5 203.4,319.9 203.4,320.8 203.5,319.7 203.6,320.4 203.6,319.0 203.7,320.2 203.8,318.6 203.9,319.8 203.9,318.5 204.0,319.5 204.1,318.2 204.1,319.6 204.2,318.1 204.3,319.0 204.4,317.9 204.4,318.8 204.5,317.8 204.6,318.8 204.6,317.8 204.7,319.7 204.8,318.3 204.9,319.9 204.9,319.1 205.0,320.4 205.1,319.7 205.1,321.3 205.2,320.7 205.3,322.2 205.4,321.3 205.4,323.5 205.5,322.5 205.6,323.9 205.6,323.3 205.7,324.8 205.8,324.1 205.9,325.9 205.9,325.1 206.0,326.5 206.1,325.7 206.1,327.4 206.2,326.8 206.3,328.3 206.4,327.6 206.4,329.2 206.5,328.3 206.6,329.8 206.6,328.9 206.7,330.2 206.8,329.3 206.9,330.4 206.9,329.3 207.0,330.6 207.1,328.9 207.1,329.9 207.2,328.6 207.3,329.8 207.4,327.9 207.4,328.7 207.5,327.4 207.6,328.0 207.6,326.4 207.7,327.0 207.8,325.3 207.9,325.9 207.9,323.9 208.0,324.4 208.1,323.0 208.1,323.3 208.2,321.6 208.3,322.4 208.4,320.7 208.4,321.5 208.5,319.9 208.6,320.4 208.6,318.8 208.7,319.6 208.8,318.0 208.9,318.5 208.9,317.0 209.0,317.6 209.1,315.9 209.1,316.6 209.2,315.0 209.3,315.6 209.4,314.0 209.4,314.6 209.5,313.2 209.6,314.2 209.6,312.5 209.7,313.6 209.8,312.1 209.9,313.5 209.9,312.0 210.0,313.1 210.1,311.9 210.1,313.3 210.2,312.2 210.3,313.5 210.4,312.5 210.4,313.8 210.5,313.0 210.6,314.6 210.6,313.7 210.7,315.3 210.8,314.5 210.9,315.9 210.9,315.2 211.0,317.2 211.1,316.1 211.1,317.7 211.2,317.0 211.3,318.9 211.4,317.8 211.4,319.5 211.5,318.5 211.6,320.2 211.6,318.7 211.7,320.0 211.8,318.9 211.9,319.7 211.9,318.1 212.0,318.9 212.1,317.4 212.1,317.7 212.2,315.7 212.3,316.5 212.4,314.5 212.4,315.1 212.5,313.0 212.6,313.6 212.6,311.7 212.7,312.2 212.8,310.5 212.9,311.2 212.9,309.0 213.0,310.0 213.1,308.4 213.1,309.0 213.2,307.7 213.3,308.7 213.4,307.6 213.4,308.8 213.5,307.7 213.6,309.1 213.6,308.4 213.7,310.6 213.8,309.5 213.9,311.2 213.9,310.6 214.0,312.4 214.1,312.0 214.1,313.9 214.2,313.5 214.3,315.6 214.4,315.4 214.4,317.7 214.5,317.6 214.6,319.8 214.6,319.8 214.7,322.4 214.8,322.6 214.9,325.2 214.9,325.4 215.0,327.7 215.1,327.8 215.1,330.0 215.2,330.0 215.3,332.2 215.4,331.9 215.4,334.3 215.5,333.7 215.6,335.5 215.6,334.7 215.7,336.6 215.8,336.0 215.9,337.7 215.9,337.4 216.0,339.2 216.1,338.7 216.1,340.9 216.2,340.7 216.3,342.6 216.4,341.9 216.4,344.1 216.5,343.9 216.6,345.6 216.6,344.6 216.7,346.6 216.8,346.0 216.9,347.4 216.9,346.4 217.0,347.7 217.1,346.9 217.1,347.8 217.2,346.5 217.3,347.7 217.4,345.0 217.4,344.4 217.5,341.3 217.6,340.8 217.6,336.9 217.7,335.6 217.8,331.6 217.9,330.0 217.9,325.6 218.0,323.9 218.1,319.9 218.1,318.5 218.2,315.0 218.3,313.6 218.4,310.9 218.4,310.9 218.5,308.3 218.6,308.8 218.6,307.6 218.7,308.9 218.8,307.9 218.9,309.6 218.9,308.6 219.0,310.3 219.1,309.8 219.1,311.5 219.2,311.0 219.3,313.1 219.4,312.6 219.4,314.7 219.5,314.3 219.6,316.3 219.6,316.0 219.7,318.2 219.8,317.7 219.9,319.8 219.9,319.6 220.0,321.5 220.1,321.1 220.1,322.8 220.2,322.3 220.3,324.0 220.4,323.3 220.4,324.8 220.5,323.5 220.6,325.1 220.6,324.0 220.7,324.9 220.8,323.6 220.9,324.9 220.9,323.5 221.0,324.4 221.1,323.1 221.1,323.9 221.2,322.5 221.3,323.3 221.4,321.4 221.4,322.3 221.5,320.9 221.6,321.5 221.6,319.6 221.7,320.8 221.8,318.8 221.9,319.5 221.9,317.8 222.0,318.3 222.1,316.1 222.1,317.4 222.2,315.3 222.3,315.7 222.4,313.5 222.4,314.1 222.5,312.0 222.6,312.3 222.6,310.5 222.7,310.9 222.8,308.9 222.9,309.7 222.9,307.7 223.0,308.2 223.1,306.2 223.1,306.9 223.2,305.2 223.3,305.9 223.4,304.2 223.4,305.1 223.5,303.4 223.6,304.5 223.6,302.9 223.7,303.9 223.8,302.5 223.9,303.6 223.9,302.5 224.0,303.6 224.1,302.5 224.1,303.9 224.2,303.0 224.3,304.4 224.4,303.6 224.4,305.3 224.5,304.3 224.6,306.0 224.6,305.1 224.7,306.8 224.8,306.4 224.9,308.3 224.9,307.6 225.0,309.3 225.1,308.4 225.1,310.4 225.2,309.8 225.3,311.7 225.4,311.4 225.4,313.0 225.5,312.5 225.6,314.6 225.6,314.1 225.7,316.1 225.8,315.7 225.9,317.8 225.9,317.4 226.0,319.4 226.1,319.2 226.1,321.0 226.2,320.7 226.3,322.4 226.4,321.9 226.4,323.6 226.5,323.2 226.6,325.3 226.6,324.2 226.7,326.2 226.8,325.6 226.9,327.7 226.9,326.6 227.0,328.4 227.1,327.9 227.1,329.5 227.2,328.8 227.3,330.3 227.4,329.8 227.4,331.3 227.5,330.4 227.6,332.1 227.6,331.4 227.7,333.4 227.8,332.3 227.9,334.3 227.9,333.6 228.0,335.6 228.1,334.9 228.1,337.0 228.2,336.3 228.3,338.3 228.4,337.2 228.4,339.3 228.5,338.8 228.6,340.5 228.6,339.6 228.7,341.1 228.8,340.1 228.9,341.7 228.9,340.8 229.0,342.3 229.1,340.8 229.1,342.6 229.2,341.7 229.3,342.9 229.4,342.0 229.4,343.0 229.5,342.2 229.6,343.4 229.6,341.9 229.7,343.3 229.8,342.0 229.9,343.0 229.9,341.4 230.0,342.7 230.1,340.8 230.1,341.2 230.2,339.7 230.3,340.2 230.4,338.2 230.4,338.6 230.5,336.6 230.6,337.5 230.6,335.2 230.7,335.6 230.8,333.5 230.9,334.0 230.9,332.0 231.0,332.2 231.1,330.3 231.1,330.4 231.2,328.6 231.3,328.9 231.4,326.6 231.4,326.6 231.5,324.3 231.6,324.1 231.6,321.8 231.7,321.8 231.8,319.6 231.9,319.7 231.9,317.5 232.0,317.5 232.1,315.6 232.1,316.0 232.2,314.3 232.3,314.6 232.4,312.9 232.4,313.4 232.5,311.7 232.6,312.6 232.6,311.1 232.7,312.0 232.8,310.1 232.9,311.7 232.9,310.2 233.0,311.5 233.1,310.3 233.1,311.4 233.2,310.7 233.3,311.9 233.4,311.1 233.4,312.3 233.5,311.6 233.6,312.9 233.6,312.1 233.7,313.5 233.8,312.8 233.9,314.2 233.9,313.2 234.0,315.1 234.1,314.1 234.1,315.4 234.2,314.4 234.3,315.9 234.4,314.8 234.4,315.8 234.5,314.7 234.6,315.9 234.6,314.5 234.7,315.9 234.8,314.0 234.9,315.2 234.9,313.6 235.0,314.3 235.1,312.7 235.1,313.4 235.2,311.5 235.3,312.3 235.4,310.6 235.4,310.9 235.5,309.0 235.6,309.7 235.6,308.1 235.7,308.6 235.8,307.0 235.9,308.0 235.9,306.2 236.0,306.8 236.1,305.2 236.1,306.2 236.2,304.7 236.3,305.2 236.4,304.0 236.4,305.0 236.5,303.5 236.6,304.8 236.6,304.0 236.7,305.7 236.8,304.9 236.9,307.3 236.9,307.5 237.0,309.8 237.1,310.4 237.1,313.3 237.2,314.0 237.3,317.1 237.4,317.7 237.4,320.6 237.5,321.1 237.6,323.7 237.6,323.6 237.7,325.7 237.8,325.3 237.9,327.0 237.9,325.6 238.0,326.6 238.1,325.2 238.1,325.3 238.2,323.0 238.3,323.2 238.4,320.9 238.4,320.4 238.5,318.0 238.6,317.9 238.6,315.3 238.7,315.3 238.8,312.8 238.9,313.2 238.9,311.5 239.0,312.2 239.1,310.3 239.1,311.5 239.2,310.7 239.3,311.9 239.4,310.9 239.4,312.3 239.5,311.8 239.6,313.2 239.6,312.6 239.7,314.5 239.8,313.8 239.9,315.7 239.9,315.2 240.0,317.2 240.1,316.8 240.1,319.1 240.2,318.1 240.3,320.1 240.4,319.7 240.4,321.5 240.5,320.9 240.6,322.7 240.6,322.0 240.7,323.8 240.8,323.2 240.9,324.5 240.9,323.7 241.0,325.1 241.1,324.1 241.1,325.3 241.2,324.2 241.3,325.3 241.4,324.0 241.4,325.4 241.5,323.7 241.6,324.7 241.6,323.4 241.7,324.3 241.8,322.9 241.9,323.9 241.9,322.7 242.0,323.8 242.1,321.7 242.1,323.0 242.2,321.4 242.3,322.4 242.4,321.1 242.4,321.8 242.5,320.6 242.6,321.4 242.6,319.6 242.7,320.8 242.8,319.7 242.9,320.7 242.9,319.1 243.0,320.4 243.1,318.9 243.1,320.1 243.2,318.0 243.3,319.2 243.4,318.0 243.4,318.8 243.5,317.6 243.6,318.5 243.6,317.1 243.7,318.1 243.8,316.8 243.9,317.6 243.9,316.2 244.0,317.3 244.1,315.8 244.1,317.0 244.2,315.5 244.3,316.7 244.4,315.3 244.4,316.5 244.5,315.0 244.6,316.4 244.6,315.3 244.7,316.5 244.8,315.4 244.9,317.2 244.9,316.0 245.0,317.3 245.1,316.2 245.1,317.8 245.2,316.8 245.3,318.5 245.4,317.6 245.4,319.1 245.5,318.2 245.6,319.8 245.6,318.7 245.7,320.8 245.8,319.7 245.9,321.4 245.9,320.5 246.0,321.9 246.1,321.0 246.1,322.4 246.2,321.4 246.3,322.8 246.4,321.9 246.4,323.4 246.5,322.8 246.6,324.4 246.6,323.9 246.7,325.5 246.8,325.1 246.9,326.9 246.9,326.8 247.0,328.7 247.1,328.4 247.1,330.7 247.2,330.0 247.3,332.2 247.4,331.2 247.4,332.9 247.5,331.9 247.6,333.4 247.6,331.9 247.7,333.1 247.8,331.7 247.9,332.6 247.9,330.8 248.0,331.4 248.1,329.7 248.1,330.4 248.2,328.1 248.3,328.6 248.4,326.7 248.4,326.8 248.5,324.8 248.6,325.1 248.6,322.7 248.7,323.3 248.8,321.2 248.9,321.3 248.9,319.2 249.0,319.6 249.1,317.7 249.1,318.2 249.2,316.2 249.3,316.9 249.4,315.0 249.4,315.8 249.5,314.2 249.6,315.3 249.6,313.7 249.7,315.1 249.8,313.9 249.9,315.1 249.9,314.4 250.0,315.8 250.1,314.7 250.1,316.5 250.2,315.8 250.3,317.8 250.4,317.2 250.4,318.7 250.5,318.0 250.6,319.9 250.6,319.1 250.7,321.0 250.8,320.4 250.9,321.9 250.9,321.3 251.0,323.0 251.1,322.4 251.1,324.0 251.2,323.2 251.3,324.6 251.4,323.1 251.4,324.8 251.5,323.6 251.6,324.5 251.6,323.0 251.7,323.8 251.8,322.3 251.9,323.0 251.9,320.6 252.0,321.4 252.1,319.6 252.1,320.0 252.2,317.9 252.3,318.2 252.4,316.4 252.4,317.0"/>
<polyline class="sg" stroke-width="0.60" points="162.5,294.7 162.8,309.0 163.3,339.6 163.9,300.3 164.4,372.1 164.9,286.4 165.4,387.0 165.8,264.0 166.3,356.0 166.8,276.8 167.4,337.0 167.6,294.9 168.2,341.9 168.5,281.1 168.8,350.8 169.3,299.3 169.8,350.6 170.2,300.3 170.7,356.5 171.0,306.5 171.3,343.0 171.6,294.4 171.9,338.9 172.2,286.8 172.5,343.4 173.0,285.7 173.5,343.4 174.2,301.2 174.6,336.2 175.0,308.7 175.2,343.6 175.5,303.1"/>
<polyline class="sg" stroke-width="0.60" points="175.5,303.1 176.9,311.7 178.2,355.0 179.6,290.6 180.3,338.0 181.4,309.5 181.5,317.6"/>
<polyline class="sg" stroke-linejoin="round" stroke-width="1.20" stroke-opacity="0.35" points="34.5,324.5 35.0,323.9 35.5,323.4 36.0,323.0 36.5,322.5 37.0,322.1 37.5,321.7 38.0,321.3 38.5,320.9 39.0,320.6 39.5,320.2 40.0,319.8 40.5,319.5 41.0,319.2 41.5,319.0 42.0,318.8 42.5,318.5 43.0,318.3 43.5,318.1 44.0,317.9 44.5,318.7 45.0,319.7 45.5,320.8 46.0,321.8 46.5,322.8 47.0,323.7 47.5,324.5 48.0,325.4 48.5,326.2 49.0,324.2 49.5,322.1 50.0,320.1 50.5,318.7 51.0,319.7 51.5,320.6 52.0,321.6 52.5,322.1 53.0,320.8 53.5,319.5 54.0,318.6 54.5,319.2 55.0,319.8 55.5,320.4 56.0,322.1 56.5,323.8 57.0,325.5 57.5,326.3 58.0,323.9 58.5,321.6 59.0,319.2 59.5,317.6 60.0,318.9 60.5,320.2 61.0,321.5 61.5,322.9 62.0,324.2 62.5,325.5 63.0,324.6 63.5,323.7 64.0,322.8 64.5,321.9 65.0,320.9 65.5,320.6 66.0,321.1 66.5,321.7 67.0,322.2 67.5,322.7 68.0,323.3 68.5,323.3 69.0,322.6 69.5,321.9 70.0,321.2 70.5,320.5 71.0,319.8 71.5,319.3 72.0,319.6 72.5,319.9 73.0,320.1 73.5,320.4 74.0,320.7 74.5,321.0 75.0,320.7 75.5,320.2 76.0,319.7 76.5,319.2 77.0,318.7 77.5,320.0 78.0,322.5 78.5,325.0 79.0,327.5 79.5,330.0 80.0,327.1 80.5,324.2 81.0,321.2 81.5,318.3 82.0,316.3 82.5,317.7 83.0,319.1 83.5,320.5 84.0,321.8 84.5,321.9 85.0,321.1 85.5,320.3 86.0,319.4 86.5,318.6 87.0,317.8 87.5,317.6 88.0,318.3 88.5,319.1 89.0,319.8 89.5,320.5 90.0,321.3 90.5,322.0 91.0,322.8 91.5,323.5 92.0,324.3 92.5,324.7 93.0,323.5 93.5,322.3 94.0,321.1 94.3,320.4"/>
<polyline class="sg" stroke-linejoin="round" stroke-width="0.75" stroke-opacity="0.70" points="182.3,331.3 182.8,323.7 183.3,317.4 183.8,312.5 184.3,310.3 184.8,309.3 185.3,308.8 185.8,309.4 186.3,316.9 186.8,327.3 187.3,337.2 187.8,344.1 188.3,344.2 188.8,339.2 189.3,331.1 189.8,321.5 190.3,312.0 190.8,304.4 191.3,301.1 191.8,303.4 192.3,309.6 192.8,318.0 193.3,324.2 193.8,330.3 194.3,334.5 194.8,335.4 195.3,332.4 195.8,329.0 196.3,326.8 196.8,324.4 197.3,321.4 197.8,317.7 198.3,315.5 198.8,313.9 199.3,312.5 199.8,311.5 200.3,315.3 200.8,320.0 201.3,324.2 201.8,326.2 202.3,325.4 202.8,323.4 203.3,320.7 203.8,319.3 204.3,318.4 204.8,319.0 205.3,321.8 205.8,324.9 206.3,327.9 206.8,330.0 207.3,328.8 207.8,325.7 208.3,321.6 208.8,318.4 209.3,314.9 209.8,312.6 210.3,312.9 210.8,315.1 211.3,318.2 211.8,319.5 212.3,315.8 212.8,310.9 213.3,308.0 213.8,310.1 214.3,315.2 214.8,323.5 215.3,332.0 215.8,336.7 216.3,342.1 216.8,346.6 217.3,346.7 217.8,331.7 218.3,312.5 218.8,308.6 219.3,312.6 219.8,318.6 220.3,323.6 220.8,324.4 221.3,322.6 221.8,319.3 222.3,315.0 222.8,309.4 223.3,305.2 223.8,303.1 224.3,303.9 224.8,306.9 225.3,311.4 225.8,316.4 226.3,322.0 226.8,326.2 227.3,330.0 227.8,333.0 228.3,337.7 228.8,340.8 229.3,342.5 229.8,342.7 230.3,339.5 230.8,334.0 231.3,328.0 231.8,319.9 232.3,313.9 232.8,311.0 233.3,311.3 233.8,313.5 234.3,315.3 234.8,314.9 235.3,311.5 235.8,307.6 236.3,304.7 236.8,305.5 237.3,316.8 237.8,326.5 238.3,322.4 238.8,313.3 239.3,311.2 239.8,314.5 240.3,319.6 240.8,323.7 241.3,324.7 241.8,323.5 242.3,321.8 242.8,320.2 243.3,318.7 243.8,317.2 244.3,316.0 244.8,316.1 245.3,317.9 245.8,320.5 246.3,322.3 246.8,325.7 247.3,331.6 247.8,332.3 248.3,327.9 248.8,321.5 249.3,316.0 249.8,314.3 250.3,317.2 250.8,321.0 251.3,324.0 251.8,322.7 252.3,317.6 252.4,316.6"/>
<rect class="ax" x="34.5" y="243.6" width="217.9" height="167.4"/>
<text class="tk" x="34.5" y="421.9" text-anchor="middle">0</text>
<text class="tk" x="78.1" y="421.9" text-anchor="middle">2</text>
<text class="tk" x="121.7" y="421.9" text-anchor="middle">4</text>
<text class="tk" x="165.2" y="421.9" text-anchor="middle">6</text>
<text class="tk" x="208.8" y="421.9" text-anchor="middle">8</text>
<text class="tk" x="252.4" y="421.9" text-anchor="middle">10</text>
<text class="tk" x="31.1" y="413.5" text-anchor="end">-4</text>
<text class="tk" x="31.1" y="389.6" text-anchor="end">-3</text>
<text class="tk" x="31.1" y="365.7" text-anchor="end">-2</text>
<text class="tk" x="31.1" y="341.8" text-anchor="end">-1</text>
<text class="tk" x="31.1" y="317.8" text-anchor="end">0</text>
<text class="tk" x="31.1" y="293.9" text-anchor="end">1</text>
<text class="tk" x="31.1" y="270.0" text-anchor="end">2</text>
<text class="tk" x="31.1" y="246.1" text-anchor="end">3</text>
<path class="ax" d="M78.1 411.0v-2.2M78.1 243.6v2.2M121.7 411.0v-2.2M121.7 243.6v2.2M165.2 411.0v-2.2M165.2 243.6v2.2M208.8 411.0v-2.2M208.8 243.6v2.2M34.5 387.1h2.2M252.4 387.1h-2.2M34.5 363.2h2.2M252.4 363.2h-2.2M34.5 339.3h2.2M252.4 339.3h-2.2M34.5 315.3h2.2M252.4 315.3h-2.2M34.5 291.4h2.2M252.4 291.4h-2.2M34.5 267.5h2.2M252.4 267.5h-2.2"/>
<text class="lb" x="143.4" y="435.2" text-anchor="middle">Time [s]</text>
<text class="lb" transform="translate(10.1 327.3) rotate(-90)" text-anchor="middle">Amplitude [mV]</text>
<text class="cp" x="143.4" y="458.0" text-anchor="middle">(<tspan font-weight="bold">c</tspan>)</text>
</g>
<g id="plot-d">
<polyline class="sg" stroke-width="0.32" points="324.5,324.2 324.6,327.5 324.6,323.7 324.7,327.0 324.8,323.3 324.9,326.2 324.9,322.8 325.0,326.1 325.1,322.3 325.1,325.2 325.2,321.8 325.3,324.9 325.4,321.3 325.4,325.0 325.5,321.4 325.6,324.8 325.6,321.1 325.7,324.5 325.8,320.7 325.9,324.2 325.9,320.9 326.0,324.1 326.1,320.7 326.1,324.2 326.2,320.5 326.3,323.6 326.4,320.2 326.4,323.7 326.5,320.0 326.6,323.7 326.6,320.1 326.7,323.4 326.8,320.0 326.9,323.4 326.9,320.0 327.0,323.8 327.1,320.4 327.1,323.8 327.2,320.6 327.3,324.2 327.4,320.9 327.4,324.5 327.5,321.1 327.6,325.4 327.6,322.2 327.7,325.6 327.8,322.7 327.9,326.7 327.9,323.6 328.0,327.5 328.1,324.4 328.1,328.6 328.2,325.5 328.3,329.4 328.4,326.8 328.4,330.6 328.5,327.6 328.6,331.8 328.6,328.7 328.7,332.8 328.8,330.0 328.9,333.8 328.9,330.9 329.0,335.0 329.1,332.1 329.1,335.8 329.2,332.7 329.3,336.4 329.4,333.5 329.4,337.3 329.5,334.3 329.6,337.8 329.6,334.7 329.7,338.5 329.8,334.5 329.9,338.8 329.9,335.1 330.0,338.8 330.1,335.4 330.1,338.7 330.2,335.1 330.3,338.6 330.4,335.1 330.4,338.4 330.5,335.1 330.6,338.4 330.6,334.7 330.7,338.1 330.8,334.2 330.9,337.9 330.9,334.3 331.0,337.3 331.1,333.5 331.1,336.6 331.2,333.0 331.3,336.3 331.4,332.7 331.4,336.2 331.5,331.8 331.6,335.7 331.6,331.8 331.7,334.8 331.8,331.6 331.9,334.2 331.9,331.1 332.0,334.0 332.1,329.6 332.1,333.5 332.2,329.5 332.3,332.9 332.4,329.0 332.4,332.2 332.5,328.5 332.6,332.0 332.6,328.4 332.7,331.0 332.8,327.9 332.9,330.6 332.9,326.9 333.0,330.2 333.1,326.8 333.1,329.9 333.2,326.6 333.3,329.7 333.4,325.8 333.4,329.2 333.5,325.7 333.6,328.7 333.6,325.1 333.7,328.5 333.8,324.8 333.9,328.7 333.9,325.0 334.0,327.7 334.1,324.2 334.1,327.9 334.2,324.4 334.3,327.8 334.4,324.5 334.4,327.6 334.5,324.3 334.6,327.9 334.6,324.6 334.7,328.1 334.8,324.9 334.9,328.6 334.9,324.2 335.0,328.6 335.1,324.6 335.1,328.8 335.2,325.9 335.3,329.3 335.4,326.0 335.4,329.9 335.5,326.3 335.6,330.0 335.6,327.3 335.7,330.6 335.8,327.6 335.9,331.5 335.9,328.0 336.0,331.7 336.1,328.7 336.1,332.4 336.2,329.1 336.3,332.9 336.4,329.6 336.4,333.7 336.5,330.3 336.6,334.4 336.6,331.3 336.7,334.7 336.8,331.4 336.9,335.2 336.9,332.1 337.0,335.7 337.1,332.8 337.1,336.5 337.2,332.9 337.3,336.8 337.4,333.5 337.4,336.9 337.5,333.6 337.6,337.4 337.6,334.0 337.7,337.2 337.8,334.0 337.9,337.6 337.9,334.4 338.0,337.5 338.1,334.0 338.1,337.4 338.2,334.2 338.3,337.2 338.4,333.7 338.4,337.3 338.5,333.6 338.6,336.3 338.6,332.1 338.7,335.8 338.8,332.2 338.9,335.5 338.9,331.6 339.0,334.7 339.1,330.8 339.1,333.6 339.2,329.8 339.3,332.8 339.4,328.6 339.4,331.6 339.5,327.3 339.6,330.6 339.6,326.5 339.7,329.2 339.8,325.2 339.9,328.0 339.9,324.4 340.0,326.9 340.1,322.4 340.1,325.8 340.2,321.8 340.3,325.0 340.4,320.1 340.4,323.2 340.5,319.5 340.6,322.0 340.6,318.0 340.7,321.1 340.8,316.9 340.9,320.1 340.9,315.9 341.0,318.8 341.1,314.9 341.1,317.5 341.2,313.5 341.3,316.7 341.4,313.2 341.4,315.6 341.5,311.9 341.6,314.9 341.6,311.6 341.7,314.3 341.8,310.8 341.9,313.9 341.9,310.0 342.0,313.4 342.1,309.9 342.1,313.3 342.2,309.5 342.3,313.1 342.4,309.1 342.4,312.8 342.5,309.1 342.6,312.9 342.6,309.5 342.7,313.7 342.8,310.1 342.9,313.3 342.9,310.4 343.0,314.2 343.1,311.0 343.1,314.6 343.2,311.9 343.3,316.1 343.4,312.5 343.4,316.8 343.5,313.8 343.6,318.0 343.6,314.9 343.7,318.8 343.8,316.2 343.9,320.6 343.9,317.7 344.0,322.3 344.1,318.7 344.1,323.9 344.2,320.9 344.3,325.1 344.4,322.3 344.4,326.3 344.5,323.7 344.6,328.0 344.6,325.9 344.7,330.3 344.8,327.2 344.9,331.7 344.9,329.5 345.0,333.8 345.1,329.6 345.1,333.6 345.2,328.3 345.3,332.9 345.4,326.9 345.4,332.6 345.5,326.4 345.6,332.5 345.6,322.1 345.7,335.0 345.8,322.4 345.9,332.4 345.9,323.1 346.0,332.7"/>
<polyline class="sg" stroke-width="0.32" points="358.2,324.0 358.3,334.8 358.4,319.8 358.4,288.0 358.5,322.5 358.6,334.9 358.6,321.9 358.7,334.9 358.8,323.5 358.9,338.2 358.9,321.6 359.0,335.3 359.1,321.9 359.1,334.8 359.2,322.0 359.3,337.1 359.4,316.2 359.4,338.3 359.5,321.4 359.6,338.6 359.6,320.6 359.7,334.5 359.8,318.9 359.9,335.9 359.9,318.7 360.0,340.6 360.1,318.6 360.1,334.5 360.2,316.7 360.3,337.8 360.4,316.1 360.4,337.2 360.5,313.8 360.6,337.3 360.6,315.7 360.7,336.6 360.8,316.5 360.9,348.8 360.9,311.7 361.0,334.3 361.1,309.4 361.1,350.0 361.2,315.7 361.3,335.6 361.4,317.4 361.4,342.1 361.5,316.3 361.6,350.3 361.6,315.2 361.7,337.0 361.8,302.7 361.9,336.3 361.9,315.3 362.0,335.7 362.1,295.0 362.1,338.0 362.2,304.9 362.3,339.3 362.4,312.9 362.4,339.4 362.5,306.2 362.6,339.3 362.6,294.8 362.7,340.4 362.8,310.0 362.9,340.5 362.9,306.0 363.0,336.4 363.1,312.4 363.1,339.7 363.2,301.8 363.3,355.4 363.4,309.0 363.4,355.6 363.5,311.8 363.6,339.5 363.6,308.7 363.7,348.3 363.8,298.4 363.9,340.5 363.9,288.7 364.0,341.0 364.1,307.0 364.1,340.9 364.2,308.0 364.3,338.8 364.4,314.1 364.4,338.6 364.5,314.4 364.6,337.0 364.6,303.7 364.7,340.0 364.8,289.8 364.9,336.3 364.9,294.9 365.0,337.1 365.1,310.8 365.1,337.8 365.2,312.7 365.3,340.9 365.4,311.3 365.4,337.5 365.5,290.2 365.6,284.0 365.6,313.5 365.7,341.4 365.8,309.8 365.9,338.3 365.9,312.9 366.0,340.4 366.1,312.3 366.1,339.2 366.2,314.6 366.3,335.0 366.4,314.1 366.4,336.1 366.5,313.3 366.6,346.5 366.6,314.0 366.7,354.4 366.8,310.8 366.9,338.7 366.9,315.3 367.0,350.8 367.1,311.6 367.1,361.6 367.2,313.8 367.3,341.4 367.4,312.3 367.4,348.3 367.5,312.7 367.6,362.0 367.6,305.2 367.7,343.5 367.8,310.9 367.9,342.1 367.9,286.9 368.0,342.4 368.1,312.1 368.1,353.9 368.2,304.5 368.3,338.4 368.4,309.7 368.4,342.8 368.5,307.9 368.6,338.2 368.6,310.3 368.7,339.4 368.8,310.9 368.9,343.7 368.9,307.1 369.0,353.9 369.1,303.4 369.1,368.8 369.2,310.4 369.3,352.4 369.4,307.6 369.4,350.7 369.5,292.0 369.6,345.7 369.6,284.6 369.7,345.4 369.8,307.7 369.9,368.6 369.9,308.9 370.0,342.8 370.1,297.5 370.1,341.4 370.2,307.8 370.3,344.6 370.4,310.8 370.4,341.8 370.5,299.4 370.6,352.1 370.6,305.6 370.7,343.7 370.8,297.7 370.9,342.3 370.9,309.6 371.0,342.6 371.1,295.4 371.1,358.2 371.2,308.8 371.3,368.0 371.4,307.6 371.4,354.0 371.5,300.4 371.6,342.1 371.6,294.3 371.7,344.6 371.8,309.6 371.9,345.4 371.9,281.8 372.0,343.1 372.1,303.8 372.1,348.1 372.2,313.7 372.3,346.4 372.4,312.5 372.4,347.5 372.5,310.6 372.6,344.8 372.6,310.4 372.7,342.5 372.8,310.9 372.9,348.9 372.9,312.7 373.0,269.0 373.1,313.2 373.1,340.8 373.2,316.7 373.3,339.8 373.4,305.3 373.4,341.2 373.5,305.1 373.6,359.0 373.6,317.4 373.7,339.9 373.8,302.6 373.9,340.2 373.9,316.7 374.0,352.4 374.1,296.2 374.1,341.1 374.2,297.2 374.3,340.6 374.4,313.1 374.4,342.3 374.5,303.0 374.6,342.1 374.6,305.4 374.7,345.1 374.8,302.0 374.9,340.2 374.9,294.0 375.0,366.3 375.1,312.2 375.1,344.8 375.2,301.5 375.3,345.4 375.4,307.7 375.4,345.6 375.5,310.2 375.6,376.0 375.6,313.1 375.7,345.3 375.8,310.0 375.9,343.5 375.9,312.9 376.0,367.6 376.1,310.1 376.1,344.8 376.2,314.1 376.3,352.4 376.4,313.7 376.4,341.1 376.5,293.9 376.6,340.4 376.6,312.8 376.7,350.1 376.8,305.9 376.9,351.7 376.9,295.5 377.0,341.5 377.1,305.0 377.1,341.8 377.2,308.2 377.3,353.0 377.4,308.8 377.4,347.2 377.5,308.8 377.6,342.1 377.6,309.8 377.7,342.3 377.8,310.8 377.9,346.6 377.9,306.9 378.0,346.1 378.1,311.2 378.1,342.1 378.2,308.8 378.3,345.4 378.4,311.3 378.4,357.9 378.5,313.6 378.6,349.1 378.6,310.0 378.7,345.0 378.8,306.0 378.9,348.6 378.9,310.1 379.0,342.3 379.1,308.5 379.1,341.4 379.2,311.0 379.3,342.1 379.4,310.7 379.4,346.5 379.5,302.9 379.6,343.0 379.6,308.3 379.7,358.8 379.8,308.4 379.9,344.8 379.9,308.8 380.0,346.4 380.1,305.9 380.1,350.7 380.2,309.3 380.3,348.7 380.4,308.7 380.4,354.7 380.5,293.2 380.6,343.5 380.6,294.7 380.7,346.0 380.8,305.7 380.9,343.6 380.9,308.2 381.0,348.4 381.1,302.2 381.1,348.9 381.2,304.4 381.3,372.8 381.4,304.2 381.4,349.6 381.5,284.3 381.6,347.1 381.6,281.8 381.7,349.0 381.8,303.5 381.9,347.9 381.9,309.3 382.0,352.1 382.1,291.9 382.1,364.2 382.2,297.1 382.3,359.3 382.4,293.7 382.4,354.6 382.5,278.7 382.6,349.8 382.6,305.6 382.7,348.3 382.8,306.8 382.9,354.9 382.9,282.7 383.0,352.3 383.1,302.1 383.1,352.4 383.2,300.4 383.3,350.7 383.4,302.5 383.4,352.4 383.5,286.3 383.6,346.4 383.6,301.1 383.7,359.2 383.8,301.1 383.9,362.9 383.9,309.3 384.0,343.7 384.1,303.8 384.1,342.9 384.2,304.3 384.3,345.7 384.4,313.2 384.4,343.9 384.5,275.5 384.6,346.7 384.6,297.6 384.7,346.3 384.8,309.0 384.9,346.2 384.9,310.6 385.0,353.1 385.1,313.2 385.1,345.6 385.2,312.9 385.3,345.6 385.4,304.0 385.4,347.5 385.5,309.6 385.6,344.8 385.6,291.6 385.7,351.4 385.8,305.5 385.9,354.8 385.9,307.6 386.0,363.8 386.1,289.0 386.1,363.4 386.2,307.0 386.3,353.5 386.4,293.7 386.4,356.4 386.5,302.9 386.6,367.6 386.6,299.8 386.7,354.2 386.8,300.5 386.9,353.6 386.9,288.1 387.0,364.6 387.1,302.8 387.1,353.1 387.2,303.3 387.3,352.8 387.4,306.0 387.4,358.7 387.5,304.6 387.6,359.8 387.6,305.5 387.7,354.3 387.8,300.7 387.9,369.4 387.9,302.8 388.0,354.3 388.1,266.1 388.1,379.9 388.2,294.0 388.3,360.7 388.4,299.6 388.4,376.4 388.5,302.8 388.6,366.8 388.6,301.2 388.7,383.6 388.8,304.0 388.9,376.5 388.9,278.4 389.0,397.0 389.1,263.8 389.1,365.1 389.2,296.5 389.3,366.4 389.4,300.6 389.4,365.6 389.5,293.7 389.6,358.3 389.6,295.0 389.7,381.1 389.8,297.5 389.9,360.4 389.9,289.8 390.0,357.8 390.1,296.0 390.1,362.1 390.2,302.9 390.3,364.7 390.4,277.0 390.4,359.5 390.5,303.7 390.6,366.5 390.6,300.8 390.7,365.4 390.8,291.0 390.9,359.5 390.9,267.0 391.0,365.1 391.1,276.6 391.1,361.8 391.2,284.4 391.3,390.9 391.4,292.9 391.4,368.9 391.5,284.2 391.6,370.2 391.6,293.2 391.7,364.6 391.8,291.5 391.9,362.4 391.9,283.7 392.0,389.2 392.1,285.9 392.1,371.5 392.2,282.1 392.3,368.5 392.4,289.4 392.4,362.5 392.5,291.7 392.6,367.7 392.6,271.9 392.7,366.6 392.8,269.0 392.9,367.0 392.9,264.1 393.0,364.8 393.1,292.0 393.1,369.6 393.2,278.4 393.3,366.5 393.4,278.4 393.4,361.5 393.5,281.6 393.6,370.6 393.6,280.0 393.7,384.1 393.8,281.5 393.9,368.6 393.9,279.2 394.0,368.7 394.1,278.8 394.1,361.3 394.2,294.1 394.3,380.2 394.4,263.5 394.4,390.0 394.5,290.4 394.6,360.4 394.6,289.8 394.7,364.4 394.8,287.2 394.9,360.6 394.9,294.8 395.0,254.0 395.1,286.8 395.1,361.6 395.2,289.1 395.3,355.5 395.4,291.2 395.4,355.3 395.5,292.9 395.6,356.8 395.6,288.7 395.7,363.9 395.8,283.6 395.9,378.1 395.9,286.7 396.0,354.1 396.1,292.6 396.1,385.3 396.2,280.2 396.3,356.7 396.4,285.3 396.4,367.1 396.5,258.4 396.6,357.6 396.6,287.9 396.7,364.6 396.8,287.4 396.9,362.7 396.9,280.2 397.0,393.0 397.1,272.9 397.1,368.9 397.2,281.9 397.3,364.1 397.4,276.0 397.4,380.1 397.5,288.5 397.6,360.4 397.6,279.9 397.7,361.6 397.8,286.2 397.9,351.8 397.9,293.3 398.0,350.3 398.1,291.8 398.1,350.5 398.2,297.7 398.3,349.4 398.4,281.7 398.4,343.7 398.5,299.8 398.6,356.2 398.6,300.0 398.7,342.9 398.8,306.2 398.9,344.8 398.9,301.1 399.0,363.2 399.1,307.6 399.1,342.7 399.2,307.4 399.3,356.0 399.4,309.6 399.4,341.7 399.5,302.5 399.6,340.7 399.6,308.5 399.7,337.4 399.8,312.1 399.9,336.5 399.9,310.3 400.0,339.8 400.1,312.8 400.1,341.3 400.2,312.9 400.3,345.7 400.4,304.7 400.4,338.9 400.5,310.7 400.6,337.8 400.6,312.3 400.7,347.8 400.8,306.1 400.9,341.5 400.9,302.7 401.0,345.2 401.1,312.9 401.1,338.5 401.2,313.0 401.3,339.7 401.4,316.2 401.4,333.8 401.5,316.3 401.6,335.2 401.6,315.9 401.7,334.6 401.8,316.6 401.9,333.2 401.9,318.8 402.0,338.1 402.1,320.4 402.1,334.7 402.2,321.4 402.3,332.9 402.4,323.1 402.4,333.2 402.5,324.7 402.6,333.5 402.6,324.3 402.7,334.2 402.8,324.8 402.9,333.4 402.9,325.0 403.0,334.1 403.1,326.4 403.1,335.3 403.2,326.0 403.3,335.5 403.4,327.6 403.4,335.2 403.5,327.1 403.6,335.8 403.6,326.9 403.7,336.3 403.8,328.0 403.9,336.3 403.9,328.1 404.0,336.1 404.1,328.0 404.1,335.4 404.2,326.9 404.3,335.6 404.4,326.5 404.4,334.1 404.5,326.4 404.6,334.3 404.6,325.0 404.7,334.3 404.8,325.0 404.9,332.8 404.9,324.6 405.0,332.4 405.1,324.7 405.1,333.1 405.2,323.9 405.3,332.8 405.4,324.3 405.4,334.4 405.5,323.2 405.6,333.0 405.6,323.3 405.7,332.3 405.8,323.1 405.9,331.9 405.9,323.9 406.0,331.0 406.1,322.7 406.1,331.6 406.2,323.5 406.3,332.2 406.4,323.9 406.4,330.9 406.5,323.0 406.6,332.1 406.6,323.9 406.7,331.8 406.8,323.1 406.9,331.7 406.9,323.6 407.0,332.1 407.1,323.5 407.1,331.4 407.2,323.5 407.3,332.3 407.4,323.8 407.4,331.7 407.5,322.7 407.6,332.5 407.6,322.6 407.7,332.0 407.8,322.0 407.9,332.5 407.9,322.6 408.0,332.8 408.1,323.1 408.1,333.1 408.2,323.8 408.3,331.7 408.4,322.8 408.4,331.7 408.5,323.1 408.6,332.8 408.6,323.5 408.7,334.0 408.8,322.7 408.9,333.1 408.9,323.6 409.0,332.0 409.1,322.4 409.1,332.1 409.2,322.3 409.3,333.2 409.4,322.5 409.4,333.2 409.5,322.1 409.6,333.4 409.6,323.1 409.7,332.1 409.8,322.0 409.9,332.4 409.9,323.2 410.0,332.3 410.1,322.3 410.1,332.3 410.2,323.4 410.3,331.6 410.4,323.7 410.4,331.7 410.5,322.6 410.6,332.1 410.6,323.8 410.7,332.5 410.8,323.2 410.9,331.2 410.9,321.2 411.0,331.9 411.1,323.0 411.1,331.3 411.2,323.7 411.3,332.2 411.4,323.1 411.4,331.4 411.5,323.6 411.6,331.5 411.6,322.8 411.7,330.8 411.8,322.6 411.9,332.4 411.9,323.3 412.0,331.1 412.1,321.9 412.1,331.6 412.2,322.9 412.3,333.9 412.4,323.4 412.4,332.5 412.5,322.4 412.6,333.2 412.6,322.6 412.7,332.3 412.8,322.7 412.9,332.1 412.9,321.6 413.0,332.0 413.1,322.0 413.1,333.0 413.2,322.6 413.3,332.4 413.4,322.5 413.4,331.9 413.5,321.8 413.6,333.0 413.6,321.0 413.7,332.3 413.8,321.1 413.9,332.3 413.9,321.9 414.0,331.8 414.1,322.5 414.1,331.3 414.2,320.8 414.3,331.9 414.4,322.2 414.4,333.3 414.5,321.0 414.6,332.8 414.6,322.2 414.7,332.4 414.8,321.2 414.9,331.5 414.9,322.0 415.0,332.8 415.1,322.0 415.1,331.9 415.2,320.7 415.3,332.6 415.4,322.3 415.4,331.9 415.5,323.1 415.6,331.8 415.6,322.9 415.7,332.7 415.8,323.0 415.9,332.2 415.9,322.3 416.0,331.8 416.1,322.9 416.1,331.6 416.2,323.2 416.3,331.9 416.4,323.2 416.4,332.0 416.5,322.9 416.6,331.1 416.6,322.4 416.7,331.2 416.8,323.4 416.9,331.8 416.9,321.6 417.0,333.7 417.1,324.1 417.1,333.2 417.2,322.7 417.3,333.2 417.4,324.2 417.4,332.1 417.5,322.8 417.6,332.9 417.6,323.4 417.7,332.7 417.8,323.9 417.9,333.2 417.9,323.3 418.0,333.3 418.1,323.3 418.1,333.0 418.2,323.4 418.3,331.7 418.4,322.6 418.4,332.7 418.5,322.7 418.6,333.0 418.6,322.7 418.7,331.7 418.8,322.0 418.9,332.2 418.9,322.0 419.0,331.4 419.1,322.7 419.1,332.9 419.2,322.2 419.3,333.1 419.4,321.2 419.4,332.3 419.5,320.9 419.6,332.4 419.6,322.2 419.7,332.2 419.8,322.0 419.9,331.2 419.9,320.8 420.0,332.1 420.1,321.6 420.1,332.5 420.2,321.1 420.3,331.5 420.4,321.0 420.4,332.8 420.5,322.6 420.6,331.5 420.6,322.0 420.7,331.3 420.8,321.0 420.9,331.9 420.9,322.0 421.0,332.5 421.1,320.9 421.1,331.0 421.2,322.1 421.3,331.0 421.4,321.4 421.4,331.0 421.5,321.9 421.6,330.6 421.6,322.0 421.7,330.3 421.8,322.6 421.9,331.5 421.9,321.9 422.0,331.2 422.1,322.0 422.1,331.9 422.2,322.5 422.3,332.0 422.4,322.1 422.4,331.2 422.5,322.0 422.6,331.8 422.6,323.1 422.7,331.7 422.8,322.7 422.9,332.2 422.9,322.8 423.0,332.0 423.1,323.6 423.1,331.1 423.2,323.2 423.3,331.3 423.4,324.3 423.4,331.4 423.5,323.6 423.6,331.4 423.6,323.5 423.7,331.1 423.8,323.9 423.9,331.6 423.9,323.8 424.0,330.5 424.1,324.3 424.1,330.8 424.2,323.6 424.3,330.4 424.4,323.2 424.4,331.0 424.5,323.3 424.6,331.1 424.6,323.9 424.7,331.3 424.8,323.0 424.9,330.8 424.9,324.2 425.0,331.7 425.1,324.2 425.1,331.7 425.2,324.0 425.3,331.2 425.4,323.4 425.4,330.9 425.5,323.7 425.6,331.3 425.6,323.9 425.7,331.2 425.8,324.2 425.9,331.2 425.9,323.6 426.0,331.0 426.1,324.5 426.1,331.1 426.2,324.6 426.3,331.3 426.4,324.0 426.4,332.1 426.5,324.4 426.6,332.1 426.6,323.9 426.7,332.4 426.8,324.8 426.9,332.4 426.9,324.3 427.0,331.4 427.1,324.3 427.1,331.8 427.2,324.5 427.3,331.4 427.4,324.7 427.4,331.2 427.5,323.8 427.6,333.7 427.6,323.6 427.7,331.7 427.8,323.8 427.9,332.2 427.9,323.3 428.0,333.8 428.1,324.0 428.1,331.0 428.2,321.9 428.3,331.6 428.4,323.5 428.4,330.7 428.5,323.0 428.6,331.9 428.6,323.9 428.7,332.0 428.8,322.5 428.9,331.9 428.9,322.5 429.0,331.4 429.1,323.1 429.1,331.5 429.2,323.3 429.3,331.9 429.4,322.4 429.4,332.2 429.5,323.0 429.6,331.4 429.6,322.7 429.7,331.5 429.8,322.6 429.9,332.0 429.9,322.4 430.0,330.8 430.1,323.4 430.1,330.7 430.2,323.5 430.3,331.8 430.4,323.0 430.4,331.3 430.5,322.3 430.6,331.0 430.6,323.2 430.7,330.7 430.8,322.9 430.9,331.8 430.9,323.2 431.0,331.2 431.1,322.8 431.1,333.4 431.2,323.1 431.3,331.2 431.4,322.0 431.4,331.9 431.5,321.9 431.6,332.8 431.6,322.3 431.7,331.7 431.8,322.7 431.9,331.7 431.9,323.2 432.0,332.5 432.1,322.3 432.1,332.7 432.2,322.6 432.3,332.5 432.4,321.8 432.4,332.8 432.5,322.4 432.6,332.8 432.6,321.5 432.7,332.1 432.8,321.1 432.9,331.6 432.9,321.3 433.0,332.0 433.1,322.8 433.1,331.9 433.2,321.8 433.3,331.2 433.4,322.0 433.4,331.9 433.5,323.1 433.6,332.3 433.6,322.7 433.7,331.1 433.8,323.1 433.9,332.2 433.9,321.2 434.0,331.7 434.1,323.3 434.1,332.7 434.2,322.4 434.3,332.5 434.4,323.3 434.4,331.8 434.5,321.8 434.6,332.7 434.6,323.1 434.7,331.9 434.8,322.9 434.9,333.1 434.9,323.2 435.0,332.5 435.1,321.9 435.1,331.9 435.2,323.1 435.3,331.8 435.4,323.0 435.4,331.3 435.5,322.4 435.6,330.9 435.6,322.1 435.7,332.5 435.8,321.2 435.9,330.8 435.9,321.0 436.0,331.7 436.1,320.8 436.1,331.6 436.2,322.1 436.3,332.0 436.4,320.9 436.4,331.6 436.5,321.9 436.6,332.0 436.6,320.3 436.7,332.2 436.8,321.8 436.9,332.2 436.9,321.3 437.0,331.4 437.1,321.9 437.1,331.1 437.2,322.9 437.3,332.1 437.4,322.2 437.4,332.5 437.5,322.6 437.6,332.0 437.6,321.9 437.7,332.8 437.8,322.2 437.9,331.7 437.9,323.4 438.0,332.5 438.1,322.7 438.1,331.7 438.2,323.1 438.3,332.7 438.4,322.9 438.4,332.5 438.5,322.1 438.6,331.5 438.6,321.5 438.7,332.4 438.8,321.0 438.9,332.4 438.9,322.4 439.0,331.9 439.1,322.0 439.1,330.9 439.2,323.3 439.3,331.1 439.4,323.7 439.4,331.2 439.5,323.5 439.6,331.3 439.6,323.1 439.7,331.2 439.8,322.6 439.9,331.8 439.9,323.5 440.0,332.7 440.1,323.2 440.1,331.4 440.2,322.6 440.3,331.9 440.4,321.4 440.4,331.6 440.5,321.5 440.6,332.0 440.6,321.6 440.7,332.8 440.8,322.1 440.9,332.0 440.9,322.1 441.0,332.7 441.1,322.6 441.1,331.2 441.2,323.5 441.3,331.3 441.4,321.9 441.4,332.3 441.5,322.8 441.6,331.4 441.6,323.4 441.7,332.2 441.8,323.7 441.9,331.5 441.9,323.9 442.0,332.5 442.1,322.4 442.1,332.2 442.2,323.2 442.3,331.2 442.4,323.2 442.4,331.3 442.5,322.7 442.6,332.0 442.6,322.2 442.7,331.7 442.8,322.6 442.9,331.0 442.9,322.4 443.0,331.1 443.1,321.6 443.1,331.0 443.2,322.5 443.3,331.3 443.4,321.7 443.4,332.8 443.5,323.1 443.6,332.6 443.6,322.9 443.7,331.2 443.8,322.5 443.9,331.3 443.9,323.3 444.0,332.3 444.1,323.2 444.1,331.6 444.2,322.0 444.3,332.2 444.4,323.8 444.4,332.5 444.5,324.5 444.6,331.9 444.6,324.5 444.7,332.4 444.8,323.5 444.9,334.0 444.9,322.0 445.0,331.8 445.1,322.6 445.1,332.5 445.2,322.0 445.3,331.7 445.4,322.2 445.4,331.9 445.5,321.7 445.6,331.8 445.6,322.5 445.7,332.7 445.8,321.4 445.9,332.8 445.9,322.4 446.0,332.0 446.1,322.3 446.1,331.8 446.2,322.2 446.3,332.6 446.4,321.8 446.4,332.4 446.5,321.9 446.6,333.2 446.6,322.4 446.7,332.0 446.8,321.9 446.9,331.8 446.9,323.2 447.0,332.7 447.1,322.4 447.1,332.5 447.2,323.2 447.3,332.7 447.4,322.4 447.4,332.8 447.5,323.3 447.6,332.3 447.6,324.4 447.7,332.9 447.8,322.7 447.9,333.4 447.9,323.8 448.0,332.0 448.1,322.9 448.1,332.6 448.2,323.0 448.3,332.8 448.4,324.1 448.4,332.5 448.5,324.4 448.6,331.9 448.6,323.0 448.7,332.0 448.8,323.6 448.9,331.7 448.9,322.9 449.0,331.7 449.1,322.9 449.1,332.2 449.2,323.2 449.3,333.6 449.4,322.3 449.4,332.1 449.5,323.5 449.6,331.5 449.6,323.6 449.7,332.1 449.8,322.5 449.9,332.0 449.9,323.6 450.0,333.1 450.1,321.3 450.1,334.1 450.2,322.4 450.3,333.4 450.4,321.6 450.4,333.5 450.5,322.1 450.6,332.9 450.6,321.8 450.7,332.6 450.8,322.5 450.9,334.1 450.9,322.5 451.0,332.4 451.1,322.8 451.1,333.1 451.2,322.7 451.3,332.1 451.4,322.7 451.4,333.9 451.5,323.8 451.6,333.0 451.6,321.8 451.7,333.2 451.8,323.7 451.9,332.4 451.9,323.6 452.0,333.0 452.1,323.8 452.1,332.2 452.2,323.4 452.3,332.3 452.4,322.8 452.4,332.0 452.5,324.1 452.6,334.0 452.6,322.4 452.7,332.1 452.8,323.0 452.9,331.8 452.9,324.1 453.0,332.0 453.1,323.9 453.1,331.6 453.2,323.8 453.3,331.4 453.4,324.0 453.4,331.6 453.5,323.4 453.6,331.1 453.6,323.0 453.7,330.5 453.8,323.6 453.9,333.2 453.9,324.0 454.0,331.6 454.1,322.8 454.1,330.5 454.2,324.1 454.3,330.9 454.4,322.8 454.4,330.6 454.5,322.6 454.6,330.4 454.6,323.3 454.7,330.6 454.8,322.3 454.9,330.8 454.9,322.2 455.0,331.1 455.1,322.2 455.1,332.9 455.2,322.5 455.3,330.9 455.4,322.1 455.4,331.4 455.5,323.0 455.6,330.9 455.6,322.5 455.7,331.4 455.8,323.0 455.9,331.5 455.9,323.4 456.0,331.3 456.1,322.4 456.1,330.8 456.2,323.7 456.3,331.6 456.4,323.6 456.4,331.8 456.5,322.8 456.6,331.3 456.6,323.0 456.7,330.9 456.8,322.8 456.9,331.9 456.9,323.0 457.0,331.6 457.1,322.8 457.1,331.5 457.2,322.3 457.3,331.2 457.4,322.6 457.4,332.4 457.5,323.6 457.6,332.0 457.6,322.0 457.7,332.1 457.8,323.1 457.9,332.4 457.9,322.8 458.0,331.4 458.1,323.5 458.1,331.3 458.2,322.9 458.3,331.0 458.4,323.0 458.4,331.6 458.5,322.3 458.6,331.3 458.6,323.1 458.7,330.9 458.8,321.8 458.9,331.5 458.9,322.1 459.0,331.1 459.1,320.8 459.1,331.1 459.2,321.8 459.3,330.9 459.4,322.6 459.4,331.2 459.5,321.9 459.6,332.4 459.6,322.5 459.7,332.1 459.8,322.7 459.9,331.3 459.9,322.2 460.0,331.8 460.1,322.4 460.1,332.0 460.2,322.4 460.3,333.4 460.4,321.2 460.4,332.8 460.5,321.1 460.6,331.7 460.6,321.5 460.7,332.1 460.8,321.4 460.9,333.2 460.9,322.3 461.0,332.2 461.1,321.8 461.1,331.8 461.2,321.9 461.3,332.9 461.4,322.3 461.4,331.5 461.5,322.1 461.6,331.8 461.6,322.1 461.7,331.2 461.8,322.8 461.9,331.8 461.9,322.5 462.0,331.5 462.1,322.3 462.1,331.5 462.2,321.0 462.3,332.5 462.4,320.8 462.4,332.7 462.5,321.8 462.6,332.5 462.6,322.4 462.7,333.0 462.8,322.5 462.9,332.7 462.9,322.7 463.0,333.1 463.1,321.6 463.1,333.3 463.2,323.9 463.3,332.7 463.4,323.6 463.4,333.0 463.5,324.2 463.6,331.8 463.6,324.0 463.7,331.9 463.8,323.7 463.9,332.9 463.9,323.8 464.0,332.5 464.1,324.0 464.1,334.7 464.2,324.5 464.3,333.4 464.4,323.3 464.4,333.4 464.5,323.5 464.6,332.7 464.6,323.5 464.7,332.4 464.8,323.6 464.9,333.2 464.9,324.7 465.0,333.5 465.1,324.5 465.1,332.6 465.2,323.3 465.3,332.2 465.4,323.8 465.4,333.4 465.5,323.3 465.6,332.9 465.6,324.4 465.7,332.4 465.8,324.1 465.9,333.2 465.9,323.2 466.0,333.4 466.1,323.9 466.1,332.5 466.2,322.3 466.3,333.2 466.4,322.3 466.4,333.2 466.5,322.4 466.6,333.0 466.6,323.0 466.7,332.5 466.8,322.7 466.9,332.6 466.9,322.4 467.0,332.2 467.1,321.5 467.1,332.4 467.2,321.8 467.3,332.4 467.4,321.6 467.4,332.6 467.5,322.0 467.6,333.1 467.6,322.6 467.7,333.7 467.8,322.0 467.9,334.6 467.9,323.4 468.0,333.2 468.1,323.9 468.1,334.2 468.2,321.8 468.3,333.9 468.4,323.2 468.4,333.6 468.5,323.3 468.6,334.0 468.6,324.5 468.7,333.8 468.8,324.4 468.9,334.2 468.9,324.2 469.0,332.7 469.1,323.1 469.1,334.3 469.2,322.9 469.3,333.4 469.4,323.8 469.4,333.5 469.5,323.3 469.6,333.1 469.6,323.8 469.7,333.8 469.8,323.1 469.9,334.7 469.9,322.8 470.0,333.4 470.1,323.3 470.1,334.1 470.2,322.7 470.3,334.1 470.4,321.9 470.4,333.4 470.5,323.5 470.6,332.9 470.6,322.1 470.7,332.9 470.8,323.4 470.9,334.1 470.9,322.1 471.0,333.0 471.1,323.2 471.1,333.2 471.2,322.4 471.3,332.8 471.4,323.4 471.4,333.2 471.5,321.7 471.6,332.5 471.6,321.8 471.7,333.6 471.8,322.6 471.9,333.5 471.9,322.2 472.0,332.1 472.1,321.2 472.1,331.9 472.2,321.3 472.3,332.8 472.4,322.5 472.4,333.8 472.5,320.6 472.6,333.9 472.6,322.0 472.7,332.8 472.8,321.6 472.9,333.3 472.9,321.8 473.0,333.9 473.1,322.1 473.1,334.1 473.2,321.8 473.3,333.1 473.4,321.8 473.4,333.2 473.5,321.1 473.6,332.7 473.6,321.5 473.7,332.6 473.8,320.8 473.9,332.3 473.9,322.8 474.0,332.8 474.1,322.0 474.1,333.7 474.2,321.6 474.3,332.6 474.4,322.0 474.4,333.5 474.5,322.9 474.6,333.1 474.6,321.6 474.7,333.8 474.8,322.7 474.9,333.4 474.9,322.2 475.0,333.6 475.1,321.2 475.1,334.1 475.2,322.6 475.3,333.2 475.4,321.9 475.4,333.9 475.5,321.8 475.6,333.0 475.6,322.2 475.7,332.8 475.8,322.0 475.9,333.4 475.9,322.6 476.0,332.0 476.1,322.3 476.1,333.2 476.2,323.7 476.3,332.9 476.4,323.5 476.4,331.9 476.5,324.4 476.6,331.8 476.6,323.5 476.7,332.1 476.8,323.5 476.9,332.0 476.9,323.8 477.0,334.7 477.1,322.8 477.1,332.2 477.2,324.6 477.3,332.2 477.4,323.9 477.4,333.0 477.5,323.4 477.6,333.0 477.6,323.7 477.7,332.2 477.8,322.8 477.9,333.1 477.9,322.8 478.0,331.8 478.1,322.9 478.1,332.5 478.2,323.1 478.3,332.6 478.4,322.1 478.4,334.0 478.5,322.0 478.6,332.4 478.6,323.0 478.7,333.1 478.8,322.2 478.9,333.4 478.9,322.4 479.0,333.0 479.1,322.1 479.1,332.8 479.2,323.2 479.3,333.0 479.4,323.5 479.4,332.8 479.5,323.7 479.6,331.9 479.6,321.3 479.7,332.7 479.8,322.6 479.9,331.8 479.9,323.7 480.0,332.1 480.1,322.8 480.1,331.9 480.2,322.7 480.3,332.5 480.4,322.8 480.4,333.3 480.5,323.6 480.6,331.9 480.6,323.9 480.7,333.4 480.8,323.2 480.9,333.1 480.9,322.9 481.0,333.0 481.1,324.0 481.1,333.2 481.2,323.4 481.3,331.9 481.4,323.8 481.4,334.6 481.5,323.6 481.6,331.9 481.6,323.4 481.7,332.7 481.8,323.7 481.9,331.6 481.9,323.4 482.0,332.0 482.1,324.2 482.1,332.8 482.2,323.4 482.3,332.7 482.4,324.0 482.4,332.0 482.5,324.9 482.6,333.1 482.6,324.2 482.7,332.8 482.8,325.0 482.9,332.3 482.9,325.4 483.0,332.0 483.1,325.5 483.1,332.6 483.2,324.3 483.3,331.8 483.4,323.9 483.4,331.5 483.5,324.3 483.6,331.1 483.6,323.9 483.7,332.3 483.8,324.6 483.9,332.1 483.9,324.0 484.0,331.2 484.1,324.5 484.1,332.4 484.2,324.3 484.3,331.7 484.4,324.1 484.4,332.2 484.5,323.3 484.6,332.6 484.6,324.3 484.7,332.0 484.8,323.3 484.9,332.1 484.9,323.2 485.0,332.5 485.1,324.4 485.1,332.1 485.2,323.1 485.3,331.8 485.4,322.9 485.4,331.5 485.5,322.6 485.6,332.0 485.6,322.9 485.7,331.8 485.8,323.2 485.9,331.5 485.9,323.0 486.0,331.3 486.1,323.4 486.1,331.6 486.2,323.0 486.3,331.9 486.4,324.0 486.4,332.0 486.5,323.7 486.6,332.4 486.6,324.3 486.7,332.3 486.8,323.5 486.9,332.1 486.9,323.2 487.0,333.1 487.1,323.3 487.1,332.4 487.2,323.6 487.3,333.1 487.4,322.1 487.4,332.9 487.5,322.1 487.6,334.2 487.6,322.6 487.7,332.1 487.8,322.3 487.9,334.0 487.9,322.7 488.0,331.4 488.1,322.3 488.1,332.1 488.2,323.2 488.3,331.8 488.4,323.0 488.4,331.6 488.5,324.0 488.6,331.2 488.6,323.8 488.7,331.6 488.8,322.2 488.9,332.3 488.9,323.8 489.0,332.6 489.1,323.7 489.1,333.2 489.2,323.9 489.3,331.9 489.4,324.0 489.4,332.8 489.5,324.1 489.6,332.8 489.6,323.4 489.7,332.3 489.8,324.5 489.9,332.7 489.9,323.1 490.0,334.1 490.1,324.4 490.1,332.4 490.2,323.0 490.3,332.1 490.4,323.6 490.4,333.3 490.5,323.8 490.6,333.3 490.6,322.9 490.7,332.9 490.8,323.3 490.9,333.2 490.9,323.9 491.0,332.2 491.1,323.2 491.1,332.9 491.2,323.4 491.3,331.8 491.4,323.3 491.4,333.7 491.5,322.4 491.6,334.2 491.6,323.4 491.7,332.6 491.8,323.1 491.9,333.1 491.9,323.7 492.0,332.4 492.1,322.5 492.1,333.2 492.2,323.4 492.3,332.2 492.4,322.4 492.4,332.4 492.5,324.5 492.6,333.4 492.6,323.2 492.7,332.8 492.8,324.4 492.9,333.0 492.9,322.5 493.0,332.3 493.1,322.9 493.1,332.3 493.2,321.1 493.3,332.3 493.4,323.6 493.4,331.8 493.5,323.1 493.6,333.3 493.6,323.3 493.7,332.6 493.8,323.3 493.9,332.5 493.9,321.8 494.0,333.5 494.1,322.0 494.1,333.4 494.2,322.3 494.3,332.6 494.4,321.4 494.4,332.4 494.5,322.8 494.6,333.5 494.6,321.3 494.7,332.3 494.8,322.0 494.9,332.6 494.9,323.4 495.0,332.3 495.1,323.8 495.1,332.2 495.2,322.2 495.3,331.8 495.4,324.2 495.4,333.4 495.5,324.0 495.6,331.4 495.6,322.8 495.7,331.2 495.8,324.0 495.9,332.1 495.9,323.5 496.0,332.1 496.1,323.0 496.1,332.2 496.2,323.8 496.3,332.5 496.4,322.7 496.4,332.3 496.5,323.8 496.6,332.6 496.6,323.6 496.7,332.3 496.8,322.2 496.9,332.0 496.9,322.4 497.0,333.4 497.1,323.5 497.1,333.6 497.2,322.3 497.3,334.5 497.4,323.0 497.4,332.9 497.5,322.4 497.6,333.3 497.6,323.2 497.7,334.0 497.8,322.0 497.9,333.3 497.9,323.0 498.0,332.7 498.1,323.7 498.1,332.6 498.2,322.5 498.3,334.2 498.4,323.4 498.4,332.5 498.5,322.1 498.6,333.5 498.6,322.5 498.7,332.6 498.8,323.5 498.9,333.3 498.9,322.8 499.0,332.2 499.1,323.0 499.1,331.9 499.2,322.4 499.3,332.4 499.4,322.1 499.4,331.5 499.5,323.5 499.6,331.7 499.6,323.3 499.7,331.3 499.8,322.2 499.9,332.0 499.9,322.4 500.0,332.1 500.1,321.4 500.1,332.6 500.2,321.1 500.3,331.4 500.4,322.4 500.4,333.2 500.5,322.0 500.6,331.5 500.6,321.0 500.7,332.3 500.8,322.8 500.9,331.7 500.9,322.7 501.0,332.5 501.1,323.3 501.1,332.0 501.2,322.2 501.3,332.1 501.4,323.5 501.4,332.3 501.5,322.9 501.6,332.3 501.6,323.4 501.7,331.7 501.8,323.7 501.9,331.7 501.9,323.6 502.0,332.6 502.1,323.6 502.1,332.4 502.2,324.6 502.3,332.9 502.4,323.7 502.4,332.1 502.5,323.6 502.6,332.3 502.6,323.3 502.7,333.0 502.8,324.1 502.9,331.8 502.9,323.5 503.0,332.2 503.1,324.2 503.1,332.3 503.2,324.2 503.3,333.0 503.4,323.3 503.4,332.9 503.5,323.3 503.6,332.1 503.6,323.1 503.7,333.5 503.8,324.0 503.9,332.1 503.9,323.9 504.0,333.5 504.1,323.6 504.1,332.5 504.2,323.0 504.3,333.7 504.4,322.6 504.4,332.7 504.5,323.4 504.6,332.4 504.6,322.3 504.7,332.9 504.8,323.4 504.9,332.9 504.9,323.3 505.0,332.2 505.1,322.2 505.1,331.5 505.2,322.3 505.3,331.2 505.4,323.7 505.4,331.9 505.5,322.9 505.6,331.7 505.6,322.7 505.7,331.3 505.8,323.2 505.9,332.3 505.9,322.2 506.0,332.1 506.1,321.0 506.1,331.3 506.2,322.2 506.3,331.7 506.4,323.3 506.4,331.4 506.5,321.9 506.6,332.6 506.6,322.2 506.7,332.3 506.8,321.6 506.9,331.7 506.9,322.1 507.0,332.0 507.1,322.3 507.1,332.0 507.2,321.9 507.3,332.5 507.4,320.9 507.4,332.4 507.5,323.5 507.6,331.5 507.6,322.2 507.7,331.6 507.8,323.7 507.9,331.7 507.9,322.7 508.0,332.4 508.1,323.0 508.1,332.4 508.2,323.4 508.3,332.1 508.4,324.0 508.4,331.8 508.5,323.9 508.6,331.1 508.6,322.9 508.7,331.9 508.8,323.6 508.9,331.7 508.9,324.4 509.0,332.3 509.1,324.2 509.1,332.0 509.2,324.5 509.3,331.8 509.4,324.3 509.4,332.7 509.5,323.3 509.6,332.6 509.6,323.4 509.7,332.0 509.8,324.0 509.9,334.3 509.9,323.7 510.0,331.7 510.1,324.0 510.1,331.7 510.2,324.1 510.3,331.5 510.4,324.0 510.4,332.2 510.5,324.4 510.6,332.2 510.6,324.0 510.7,331.2 510.8,324.6 510.9,331.4 510.9,323.8 511.0,331.5 511.1,323.6 511.1,333.1 511.2,323.6 511.3,330.8 511.4,323.8 511.4,330.6 511.5,324.1 511.6,331.5 511.6,323.5 511.7,330.5 511.8,323.4 511.9,332.3 511.9,322.4 512.0,331.1 512.1,323.2 512.1,332.1 512.2,322.4 512.3,331.0 512.4,323.3 512.4,332.5 512.5,322.9 512.6,331.2 512.6,323.0 512.7,331.7 512.8,322.1 512.9,331.1 512.9,322.0 513.0,332.1 513.1,321.4 513.1,332.1 513.2,322.4 513.3,331.7 513.4,321.6 513.4,331.9 513.5,322.8 513.6,330.8 513.6,321.5 513.7,331.6 513.8,321.3 513.9,331.6 513.9,319.9 514.0,331.7 514.1,320.9 514.1,332.3 514.2,321.1 514.3,330.8 514.4,321.8 514.4,332.0 514.5,320.0 514.6,332.2 514.6,321.2 514.7,332.8 514.8,322.2 514.9,331.7 514.9,322.3 515.0,332.3 515.1,321.6 515.1,332.1 515.2,322.4 515.3,330.9 515.4,321.2 515.4,331.5 515.5,321.9 515.6,330.6 515.6,320.8 515.7,331.6 515.8,320.9 515.9,331.7 515.9,321.9 516.0,330.8 516.1,319.9 516.1,331.6 516.2,322.0 516.3,331.2 516.4,321.2 516.4,331.8 516.5,321.8 516.6,331.3 516.6,321.6 516.7,332.1 516.8,320.8 516.9,331.8 516.9,322.0 517.0,332.9 517.1,321.2 517.1,332.7 517.2,321.8 517.3,332.1 517.4,322.2 517.4,331.8 517.5,320.8 517.6,332.9 517.6,321.4 517.7,332.0 517.8,322.5 517.9,332.3 517.9,322.1 518.0,332.3 518.1,322.3 518.1,332.5 518.2,321.9 518.3,332.5 518.4,322.8 518.4,331.8 518.5,322.2 518.6,330.9 518.6,321.6 518.7,331.4 518.8,322.5 518.9,333.0 518.9,322.5 519.0,331.1 519.1,321.2 519.1,332.4 519.2,320.7 519.3,330.9 519.4,321.2 519.4,332.5 519.5,321.7 519.6,332.0 519.6,321.9 519.7,331.3 519.8,321.9 519.9,331.4 519.9,321.1 520.0,331.7 520.1,321.6 520.1,331.3 520.2,320.0 520.3,331.0 520.4,320.0 520.4,332.5 520.5,320.2 520.6,331.2 520.6,320.8 520.7,332.8 520.8,320.6 520.9,331.2 520.9,319.8 521.0,331.2 521.1,321.3 521.1,330.4 521.2,321.0 521.3,331.3 521.4,320.2 521.4,330.9 521.5,320.9 521.6,331.2 521.6,321.0 521.7,329.7 521.8,320.5 521.9,330.4 521.9,320.9 522.0,331.3 522.1,320.9 522.1,330.7 522.2,320.9 522.3,330.6 522.4,320.6 522.4,330.8 522.5,320.6 522.6,331.0 522.6,321.8 522.7,331.7 522.8,321.1 522.9,332.2 522.9,321.0 523.0,331.0 523.1,322.0 523.1,333.1 523.2,321.4 523.3,330.8 523.4,320.8 523.4,330.6 523.5,321.6 523.6,331.8 523.6,321.8 523.7,331.5 523.8,320.7 523.9,330.9 523.9,321.5 524.0,330.9 524.1,321.9 524.1,330.0 524.2,319.3 524.3,329.8 524.4,322.1 524.4,330.8 524.5,322.1 524.6,330.8 524.6,321.3 524.7,330.7 524.8,321.7 524.9,330.4 524.9,321.3 525.0,330.0 525.1,320.7 525.1,329.9 525.2,320.9 525.3,331.7 525.4,320.4 525.4,331.4 525.5,320.4 525.6,331.0 525.6,321.2 525.7,330.6 525.8,320.2 525.9,330.9 525.9,320.6 526.0,330.2 526.1,321.6 526.1,331.7 526.2,320.2 526.3,330.7 526.4,320.0 526.4,330.3 526.5,320.7 526.6,331.2 526.6,321.4 526.7,331.2 526.8,321.5 526.9,332.4 526.9,320.3 527.0,330.8 527.1,319.7 527.1,331.0 527.2,320.7 527.3,331.7 527.4,320.2 527.4,331.4 527.5,319.2 527.6,330.8 527.6,320.7 527.7,331.2 527.8,320.6 527.9,331.8 527.9,321.5 528.0,330.7 528.1,320.6 528.1,331.8 528.2,321.4 528.3,331.8 528.4,321.0 528.4,331.4 528.5,320.4 528.6,331.5 528.6,320.3 528.7,331.2 528.8,321.6 528.9,330.7 528.9,321.9 529.0,331.5 529.1,321.1 529.1,330.0 529.2,322.0 529.3,331.4 529.4,319.0 529.4,330.0 529.5,321.2 529.6,330.3 529.6,321.1 529.7,330.9 529.8,321.9 529.9,330.2 529.9,321.1 530.0,329.8 530.1,320.8 530.1,330.7 530.2,320.9 530.3,330.7 530.4,320.7 530.4,330.9 530.5,320.3 530.6,331.3 530.6,320.0 530.7,330.1 530.8,320.2 530.9,330.9 530.9,321.9 531.0,331.8 531.1,320.4 531.1,331.1 531.2,321.6 531.3,329.6 531.4,321.1 531.4,330.0 531.5,321.1 531.6,330.7 531.6,320.8 531.7,329.7 531.8,320.4 531.9,329.8 531.9,320.6 532.0,330.6 532.1,321.7 532.1,330.0 532.2,320.7 532.3,330.7 532.4,320.7 532.4,330.1 532.5,320.5 532.6,331.1 532.6,320.2 532.7,331.2 532.8,319.8 532.9,330.2 532.9,320.5 533.0,330.7 533.1,320.8 533.1,331.1 533.2,319.6 533.3,331.7 533.4,319.2 533.4,330.0 533.5,319.5 533.6,331.9 533.6,319.1 533.7,331.2 533.8,319.8 533.9,330.8 533.9,320.4 534.0,331.9 534.1,319.3 534.1,331.3 534.2,319.8 534.3,332.9 534.4,319.7 534.4,332.4 534.5,319.4 534.6,332.4 534.6,320.0 534.7,332.1 534.8,319.1 534.9,332.4 534.9,320.4 535.0,331.8 535.1,320.2 535.1,332.6 535.2,319.0 535.3,331.9 535.4,319.3 535.4,331.1 535.5,319.7 535.6,332.8 535.6,320.5 535.7,331.2 535.8,320.5 535.9,330.8 535.9,320.1 536.0,332.2 536.1,320.8 536.1,331.6 536.2,319.9 536.3,330.4 536.4,320.9 536.4,330.7 536.5,320.3 536.6,330.1 536.6,320.8 536.7,330.8 536.8,320.2 536.9,332.1 536.9,320.8 537.0,332.4 537.1,318.9 537.1,332.7 537.2,318.8 537.3,332.0 537.4,319.7 537.4,331.8 537.5,320.5 537.6,333.1 537.6,319.4 537.7,332.4 537.8,319.7 537.9,331.7 537.9,320.5 538.0,332.1 538.1,319.9 538.1,333.3 538.2,319.1 538.3,332.0 538.4,320.1 538.4,333.3 538.5,321.5 538.6,332.7 538.6,321.6 538.7,331.6 538.8,320.9 538.9,331.7 538.9,321.8 539.0,331.0 539.1,320.4 539.1,332.0 539.2,320.7 539.3,330.8 539.4,320.0 539.4,332.2 539.5,321.7 539.6,331.6 539.6,321.8 539.7,332.3 539.8,322.5 539.9,332.4 539.9,321.6 540.0,332.8 540.1,320.6 540.1,332.5 540.2,321.1 540.3,332.4 540.4,321.8 540.4,332.5 540.5,321.5 540.6,331.7 540.6,321.1 540.7,332.4 540.8,320.8 540.9,332.4 540.9,320.4 541.0,332.9 541.1,321.0 541.1,332.4 541.2,320.0 541.3,331.9 541.4,321.2 541.4,330.8 541.5,320.9 541.6,332.2 541.6,321.1 541.7,332.0 541.8,321.9 541.9,331.1 541.9,320.9 542.0,332.5 542.1,322.0 542.1,331.4 542.2,321.8 542.3,332.6 542.4,321.7 542.4,332.2 542.5,321.5 542.6,332.0"/>
<polyline class="sg" stroke-width="0.70" points="346.0,332.7 347.3,314.0 348.5,357.0 349.4,313.0 350.6,353.0 352.0,319.0 352.6,340.7 353.8,312.0 355.1,334.1 355.9,321.0 356.7,338.1 358.0,309.9 358.2,324.0"/>
<polyline class="sg" stroke-linejoin="round" stroke-width="1.50" stroke-opacity="0.60" points="324.5,326.0 325.0,324.1 325.5,322.9 326.0,322.3 326.5,322.0 327.0,322.0 327.5,323.1 328.0,325.9 328.5,329.5 329.0,333.1 329.5,335.9 330.0,337.0 330.5,336.6 331.0,335.6 331.5,334.0 332.0,332.2 332.5,330.4 333.0,328.6 333.5,327.2 334.0,326.3 334.5,326.0 335.0,326.7 335.5,328.2 336.0,330.2 336.5,332.2 337.0,334.1 337.5,335.5 338.0,336.0 338.5,335.1 339.0,332.7 339.5,329.3 340.0,325.2 340.5,321.0 341.0,317.0 341.5,313.7 342.0,311.6 342.5,311.0 343.0,312.4 343.5,315.6 344.0,320.1 344.5,325.7 345.0,332.0"/>
<rect class="ax" x="324.5" y="243.6" width="218.1" height="167.4"/>
<text class="tk" x="324.5" y="421.9" text-anchor="middle">0</text>
<text class="tk" x="368.1" y="421.9" text-anchor="middle">2</text>
<text class="tk" x="411.7" y="421.9" text-anchor="middle">4</text>
<text class="tk" x="455.4" y="421.9" text-anchor="middle">6</text>
<text class="tk" x="499.0" y="421.9" text-anchor="middle">8</text>
<text class="tk" x="542.6" y="421.9" text-anchor="middle">10</text>
<text class="tk" x="321.1" y="413.5" text-anchor="end">-2</text>
<text class="tk" x="321.1" y="389.6" text-anchor="end">-1.5</text>
<text class="tk" x="321.1" y="365.7" text-anchor="end">-1</text>
<text class="tk" x="321.1" y="341.8" text-anchor="end">-0.5</text>
<text class="tk" x="321.1" y="317.8" text-anchor="end">0</text>
<text class="tk" x="321.1" y="293.9" text-anchor="end">0.5</text>
<text class="tk" x="321.1" y="270.0" text-anchor="end">1</text>
<text class="tk" x="321.1" y="246.1" text-anchor="end">1.5</text>
<path class="ax" d="M368.1 411.0v-2.2M368.1 243.6v2.2M411.7 411.0v-2.2M411.7 243.6v2.2M455.4 411.0v-2.2M455.4 243.6v2.2M499.0 411.0v-2.2M499.0 243.6v2.2M324.5 387.1h2.2M542.6 387.1h-2.2M324.5 363.2h2.2M542.6 363.2h-2.2M324.5 339.3h2.2M542.6 339.3h-2.2M324.5 315.3h2.2M542.6 315.3h-2.2M324.5 291.4h2.2M542.6 291.4h-2.2M324.5 267.5h2.2M542.6 267.5h-2.2"/>
<text class="lb" x="433.6" y="435.2" text-anchor="middle">Time [s]</text>
<text class="lb" transform="translate(300.1 327.3) rotate(-90)" text-anchor="middle">Amplitude [mV]</text>
<text class="cp" x="433.6" y="458.0" text-anchor="middle">(<tspan font-weight="bold">d</tspan>)</text>
</g>
</svg>
</body></html>
